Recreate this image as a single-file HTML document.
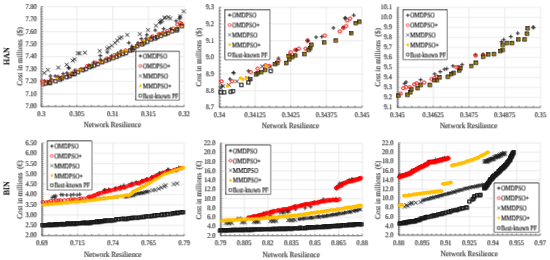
<!DOCTYPE html>
<html><head><meta charset="utf-8"><title>Pareto fronts</title>
<style>
html,body{margin:0;padding:0;background:#fff;}
body{width:550px;height:260px;overflow:hidden;font-family:"Liberation Serif",serif;}
svg{display:block;}
svg text{text-rendering:geometricPrecision;}
svg text.ti{white-space:pre;}
svg text.lg{stroke:#151515;stroke-width:0.18px;}
</style></head><body>
<svg width="550" height="260" viewBox="0 0 550 260" font-family='"Liberation Serif", serif'>
<g id="fig" transform="translate(-0.42 -0.42)">
<g><path d="M41.4 6.9H184.3" stroke="#e8e8e8" stroke-width="0.5"/>
<path d="M41.4 19.38H184.3" stroke="#e8e8e8" stroke-width="0.5"/>
<path d="M41.4 31.85H184.3" stroke="#e8e8e8" stroke-width="0.5"/>
<path d="M41.4 44.32H184.3" stroke="#e8e8e8" stroke-width="0.5"/>
<path d="M41.4 56.8H184.3" stroke="#e8e8e8" stroke-width="0.5"/>
<path d="M41.4 69.28H184.3" stroke="#e8e8e8" stroke-width="0.5"/>
<path d="M41.4 81.75H184.3" stroke="#e8e8e8" stroke-width="0.5"/>
<path d="M41.4 94.23H184.3" stroke="#e8e8e8" stroke-width="0.5"/>
<path d="M41.4 106.7H184.3" stroke="#e8e8e8" stroke-width="0.5"/>
<path d="M77.12 6.9V106.7" stroke="#e8e8e8" stroke-width="0.5"/>
<path d="M112.85 6.9V106.7" stroke="#e8e8e8" stroke-width="0.5"/>
<path d="M148.58 6.9V106.7" stroke="#e8e8e8" stroke-width="0.5"/>
<path d="M184.3 6.9V106.7" stroke="#e8e8e8" stroke-width="0.5"/>
<path d="M41.4 6.9V106.7H184.3" stroke="#505050" stroke-width="0.5" fill="none"/>
<path d="M41.4 6.9h1.7M41.4 9.39h1.5M41.4 11.89h1.5M41.4 14.38h1.5M41.4 16.88h1.5M41.4 19.38h1.7M41.4 21.87h1.5M41.4 24.37h1.5M41.4 26.86h1.5M41.4 29.35h1.5M41.4 31.85h1.7M41.4 34.34h1.5M41.4 36.84h1.5M41.4 39.33h1.5M41.4 41.83h1.5M41.4 44.32h1.7M41.4 46.82h1.5M41.4 49.31h1.5M41.4 51.81h1.5M41.4 54.3h1.5M41.4 56.8h1.7M41.4 59.29h1.5M41.4 61.79h1.5M41.4 64.29h1.5M41.4 66.78h1.5M41.4 69.28h1.7M41.4 71.77h1.5M41.4 74.27h1.5M41.4 76.76h1.5M41.4 79.25h1.5M41.4 81.75h1.7M41.4 84.25h1.5M41.4 86.74h1.5M41.4 89.24h1.5M41.4 91.73h1.5M41.4 94.23h1.7M41.4 96.72h1.5M41.4 99.22h1.5M41.4 101.71h1.5M41.4 104.2h1.5M41.4 106.7h1.7M41.4 106.7v-1.7M48.55 106.7v-1.5M55.69 106.7v-1.5M62.84 106.7v-1.5M69.98 106.7v-1.5M77.12 106.7v-1.7M84.27 106.7v-1.5M91.41 106.7v-1.5M98.56 106.7v-1.5M105.71 106.7v-1.5M112.85 106.7v-1.7M120 106.7v-1.5M127.14 106.7v-1.5M134.28 106.7v-1.5M141.43 106.7v-1.5M148.57 106.7v-1.7M155.72 106.7v-1.5M162.87 106.7v-1.5M170.01 106.7v-1.5M177.16 106.7v-1.5M184.3 106.7v-1.7" stroke="#505050" stroke-width="0.4" fill="none"/>
<text class="tk" transform="translate(37 9) scale(0.885 1)" font-size="7.4" text-anchor="end" fill="#595959">7.80</text>
<text class="tk" transform="translate(37 21.48) scale(0.885 1)" font-size="7.4" text-anchor="end" fill="#595959">7.70</text>
<text class="tk" transform="translate(37 33.95) scale(0.885 1)" font-size="7.4" text-anchor="end" fill="#595959">7.60</text>
<text class="tk" transform="translate(37 46.42) scale(0.885 1)" font-size="7.4" text-anchor="end" fill="#595959">7.50</text>
<text class="tk" transform="translate(37 58.9) scale(0.885 1)" font-size="7.4" text-anchor="end" fill="#595959">7.40</text>
<text class="tk" transform="translate(37 71.38) scale(0.885 1)" font-size="7.4" text-anchor="end" fill="#595959">7.30</text>
<text class="tk" transform="translate(37 83.85) scale(0.885 1)" font-size="7.4" text-anchor="end" fill="#595959">7.20</text>
<text class="tk" transform="translate(37 96.33) scale(0.885 1)" font-size="7.4" text-anchor="end" fill="#595959">7.10</text>
<text class="tk" transform="translate(37 108.8) scale(0.885 1)" font-size="7.4" text-anchor="end" fill="#595959">7.00</text>
<text class="tk" transform="translate(41.4 116.4) scale(0.885 1)" font-size="7.4" text-anchor="middle" fill="#595959">0.3</text>
<text class="tk" transform="translate(77.12 116.4) scale(0.885 1)" font-size="7.4" text-anchor="middle" fill="#595959">0.305</text>
<text class="tk" transform="translate(112.85 116.4) scale(0.885 1)" font-size="7.4" text-anchor="middle" fill="#595959">0.31</text>
<text class="tk" transform="translate(148.58 116.4) scale(0.885 1)" font-size="7.4" text-anchor="middle" fill="#595959">0.315</text>
<text class="tk" transform="translate(184.3 116.4) scale(0.885 1)" font-size="7.4" text-anchor="middle" fill="#595959">0.32</text>
<text class="ti" transform="translate(112.55 127.9) scale(0.92 1)" font-size="7.9" text-anchor="middle" fill="#5e5e5e">Network Resilience</text>
<text class="ti" transform="translate(22.2 56.8) rotate(-90) scale(0.92 1)" font-size="7.9" text-anchor="middle" fill="#5e5e5e">Cost in millions  ($)</text>
<path d="M42.92 81.32H46.62M44.77 79.47V83.17" stroke="#262626" stroke-width="0.6" fill="none"/>
<path d="M49.23 79.42H52.93M51.08 77.57V81.27" stroke="#262626" stroke-width="0.6" fill="none"/>
<path d="M56.43 76.71H60.13M58.28 74.86V78.56" stroke="#262626" stroke-width="0.6" fill="none"/>
<path d="M65.22 73.23H68.92M67.07 71.38V75.08" stroke="#262626" stroke-width="0.6" fill="none"/>
<path d="M73.02 70.54H76.72M74.87 68.69V72.39" stroke="#262626" stroke-width="0.6" fill="none"/>
<path d="M78.68 69.47H82.38M80.53 67.62V71.32" stroke="#262626" stroke-width="0.6" fill="none"/>
<path d="M87.35 65.47H91.05M89.2 63.62V67.32" stroke="#262626" stroke-width="0.6" fill="none"/>
<path d="M91.89 62.63H95.59M93.74 60.78V64.48" stroke="#262626" stroke-width="0.6" fill="none"/>
<path d="M98.82 59.74H102.52M100.67 57.89V61.59" stroke="#262626" stroke-width="0.6" fill="none"/>
<path d="M109.83 56.05H113.53M111.68 54.2V57.9" stroke="#262626" stroke-width="0.6" fill="none"/>
<path d="M116.03 53.41H119.73M117.88 51.56V55.26" stroke="#262626" stroke-width="0.6" fill="none"/>
<path d="M119.48 51.16H123.18M121.33 49.31V53.01" stroke="#262626" stroke-width="0.6" fill="none"/>
<path d="M130.18 46.59H133.88M132.03 44.74V48.44" stroke="#262626" stroke-width="0.6" fill="none"/>
<path d="M136.36 43.13H140.06M138.21 41.28V44.98" stroke="#262626" stroke-width="0.6" fill="none"/>
<path d="M144.36 38.69H148.06M146.21 36.84V40.54" stroke="#262626" stroke-width="0.6" fill="none"/>
<path d="M149.89 37.25H153.59M151.74 35.4V39.1" stroke="#262626" stroke-width="0.6" fill="none"/>
<path d="M157.72 34.58H161.42M159.57 32.73V36.43" stroke="#262626" stroke-width="0.6" fill="none"/>
<path d="M161.52 32.88H165.22M163.37 31.03V34.73" stroke="#262626" stroke-width="0.6" fill="none"/>
<path d="M168.95 28.92H172.65M170.8 27.07V30.77" stroke="#262626" stroke-width="0.6" fill="none"/>
<path d="M178.81 25.06H182.51M180.66 23.21V26.91" stroke="#262626" stroke-width="0.6" fill="none"/>
<path d="M48.75 76.3H52.45M50.6 74.45V78.15" stroke="#262626" stroke-width="0.6" fill="none"/>
<path d="M53.55 76.3H57.25M55.4 74.45V78.15" stroke="#262626" stroke-width="0.6" fill="none"/>
<path d="M61.55 74H65.25M63.4 72.15V75.85" stroke="#262626" stroke-width="0.6" fill="none"/>
<path d="M66.95 68.1H70.65M68.8 66.25V69.95" stroke="#262626" stroke-width="0.6" fill="none"/>
<path d="M67.25 68.4H70.95M69.1 66.55V70.25" stroke="#262626" stroke-width="0.6" fill="none"/>
<path d="M98.65 55.9H102.35M100.5 54.05V57.75" stroke="#262626" stroke-width="0.6" fill="none"/>
<path d="M105.65 52.4H109.35M107.5 50.55V54.25" stroke="#262626" stroke-width="0.6" fill="none"/>
<path d="M127.15 43.1H130.85M129 41.25V44.95" stroke="#262626" stroke-width="0.6" fill="none"/>
<path d="M139.65 39H143.35M141.5 37.15V40.85" stroke="#262626" stroke-width="0.6" fill="none"/>
<path d="M145.15 35.1H148.85M147 33.25V36.95" stroke="#262626" stroke-width="0.6" fill="none"/>
<path d="M153.55 30.5H157.25M155.4 28.65V32.35" stroke="#262626" stroke-width="0.6" fill="none"/>
<path d="M161.95 29H165.65M163.8 27.15V30.85" stroke="#262626" stroke-width="0.6" fill="none"/>
<path d="M158.65 23H162.35M160.5 21.15V24.85" stroke="#262626" stroke-width="0.6" fill="none"/>
<path d="M174.45 21.2H178.15M176.3 19.35V23.05" stroke="#262626" stroke-width="0.6" fill="none"/>
<path d="M177.75 19H181.45M179.6 17.15V20.85" stroke="#262626" stroke-width="0.6" fill="none"/>
<path d="M178.35 17.1H182.05M180.2 15.25V18.95" stroke="#262626" stroke-width="0.6" fill="none"/>
<ellipse cx="47.01" cy="81.98" rx="1.79" ry="1.52" stroke="#FF0000" stroke-width="0.55" fill="none"/>
<ellipse cx="51.7" cy="80.56" rx="1.79" ry="1.52" stroke="#FF0000" stroke-width="0.55" fill="none"/>
<ellipse cx="58.78" cy="78.58" rx="1.79" ry="1.52" stroke="#FF0000" stroke-width="0.55" fill="none"/>
<ellipse cx="62.63" cy="77.25" rx="1.79" ry="1.52" stroke="#FF0000" stroke-width="0.55" fill="none"/>
<ellipse cx="68.9" cy="75.21" rx="1.79" ry="1.52" stroke="#FF0000" stroke-width="0.55" fill="none"/>
<ellipse cx="72.15" cy="73.41" rx="1.79" ry="1.52" stroke="#FF0000" stroke-width="0.55" fill="none"/>
<ellipse cx="76.55" cy="70.96" rx="1.79" ry="1.52" stroke="#FF0000" stroke-width="0.55" fill="none"/>
<ellipse cx="81.89" cy="69.32" rx="1.79" ry="1.52" stroke="#FF0000" stroke-width="0.55" fill="none"/>
<ellipse cx="87.47" cy="66.26" rx="1.79" ry="1.52" stroke="#FF0000" stroke-width="0.55" fill="none"/>
<ellipse cx="95.97" cy="62.88" rx="1.79" ry="1.52" stroke="#FF0000" stroke-width="0.55" fill="none"/>
<ellipse cx="100.83" cy="61.92" rx="1.79" ry="1.52" stroke="#FF0000" stroke-width="0.55" fill="none"/>
<ellipse cx="107.08" cy="58.66" rx="1.79" ry="1.52" stroke="#FF0000" stroke-width="0.55" fill="none"/>
<ellipse cx="110.95" cy="58.28" rx="1.79" ry="1.52" stroke="#FF0000" stroke-width="0.55" fill="none"/>
<ellipse cx="114.76" cy="55.27" rx="1.79" ry="1.52" stroke="#FF0000" stroke-width="0.55" fill="none"/>
<ellipse cx="120.8" cy="53.35" rx="1.79" ry="1.52" stroke="#FF0000" stroke-width="0.55" fill="none"/>
<ellipse cx="125.82" cy="50.68" rx="1.79" ry="1.52" stroke="#FF0000" stroke-width="0.55" fill="none"/>
<ellipse cx="132.11" cy="48.78" rx="1.79" ry="1.52" stroke="#FF0000" stroke-width="0.55" fill="none"/>
<ellipse cx="138.49" cy="44.66" rx="1.79" ry="1.52" stroke="#FF0000" stroke-width="0.55" fill="none"/>
<ellipse cx="143.09" cy="42.28" rx="1.79" ry="1.52" stroke="#FF0000" stroke-width="0.55" fill="none"/>
<ellipse cx="149.47" cy="39.07" rx="1.79" ry="1.52" stroke="#FF0000" stroke-width="0.55" fill="none"/>
<ellipse cx="152.81" cy="36.61" rx="1.79" ry="1.52" stroke="#FF0000" stroke-width="0.55" fill="none"/>
<ellipse cx="159.07" cy="34.22" rx="1.79" ry="1.52" stroke="#FF0000" stroke-width="0.55" fill="none"/>
<ellipse cx="162.81" cy="33.37" rx="1.79" ry="1.52" stroke="#FF0000" stroke-width="0.55" fill="none"/>
<ellipse cx="167.48" cy="31.36" rx="1.79" ry="1.52" stroke="#FF0000" stroke-width="0.55" fill="none"/>
<ellipse cx="173.48" cy="28.86" rx="1.79" ry="1.52" stroke="#FF0000" stroke-width="0.55" fill="none"/>
<ellipse cx="181.97" cy="24.45" rx="1.79" ry="1.52" stroke="#FF0000" stroke-width="0.55" fill="none"/>
<ellipse cx="42.6" cy="81.7" rx="1.79" ry="1.52" stroke="#FF0000" stroke-width="0.55" fill="none"/>
<ellipse cx="43.4" cy="84.7" rx="1.79" ry="1.52" stroke="#FF0000" stroke-width="0.55" fill="none"/>
<ellipse cx="177.7" cy="24.8" rx="1.79" ry="1.52" stroke="#FF0000" stroke-width="0.55" fill="none"/>
<ellipse cx="180.6" cy="23.1" rx="1.79" ry="1.52" stroke="#FF0000" stroke-width="0.55" fill="none"/>
<path d="M42.6 71.3L46.4 75.1M42.6 75.1L46.4 71.3" stroke="#222" stroke-width="0.5" fill="none"/>
<path d="M46.1 68.2L49.9 72M46.1 72L49.9 68.2" stroke="#222" stroke-width="0.5" fill="none"/>
<path d="M56.6 65.9L60.4 69.7M56.6 69.7L60.4 65.9" stroke="#222" stroke-width="0.5" fill="none"/>
<path d="M65 63.1L68.8 66.9M65 66.9L68.8 63.1" stroke="#222" stroke-width="0.5" fill="none"/>
<path d="M71 59L74.8 62.8M71 62.8L74.8 59" stroke="#222" stroke-width="0.5" fill="none"/>
<path d="M72.8 57.6L76.6 61.4M72.8 61.4L76.6 57.6" stroke="#222" stroke-width="0.5" fill="none"/>
<path d="M76.1 51.6L79.9 55.4M76.1 55.4L79.9 51.6" stroke="#222" stroke-width="0.5" fill="none"/>
<path d="M77.9 51.6L81.7 55.4M77.9 55.4L81.7 51.6" stroke="#222" stroke-width="0.5" fill="none"/>
<path d="M83.2 51L87 54.8M83.2 54.8L87 51" stroke="#222" stroke-width="0.5" fill="none"/>
<path d="M98 49.3L101.8 53.1M98 53.1L101.8 49.3" stroke="#222" stroke-width="0.5" fill="none"/>
<path d="M105.6 47L109.4 50.8M105.6 50.8L109.4 47" stroke="#222" stroke-width="0.5" fill="none"/>
<path d="M107.4 45.9L111.2 49.7M107.4 49.7L111.2 45.9" stroke="#222" stroke-width="0.5" fill="none"/>
<path d="M110.1 43.9L113.9 47.7M110.1 47.7L113.9 43.9" stroke="#222" stroke-width="0.5" fill="none"/>
<path d="M113.3 41.3L117.1 45.1M113.3 45.1L117.1 41.3" stroke="#222" stroke-width="0.5" fill="none"/>
<path d="M115.6 38.9L119.4 42.7M115.6 42.7L119.4 38.9" stroke="#222" stroke-width="0.5" fill="none"/>
<path d="M117.9 36.6L121.7 40.4M117.9 40.4L121.7 36.6" stroke="#222" stroke-width="0.5" fill="none"/>
<path d="M119.8 35.5L123.6 39.3M119.8 39.3L123.6 35.5" stroke="#222" stroke-width="0.5" fill="none"/>
<path d="M125.5 33.2L129.3 37M125.5 37L129.3 33.2" stroke="#222" stroke-width="0.5" fill="none"/>
<path d="M138.1 32.4L141.9 36.2M138.1 36.2L141.9 32.4" stroke="#222" stroke-width="0.5" fill="none"/>
<path d="M146.3 28.3L150.1 32.1M146.3 32.1L150.1 28.3" stroke="#222" stroke-width="0.5" fill="none"/>
<path d="M154.3 24L158.1 27.8M154.3 27.8L158.1 24" stroke="#222" stroke-width="0.5" fill="none"/>
<path d="M158.1 20.1L161.9 23.9M158.1 23.9L161.9 20.1" stroke="#222" stroke-width="0.5" fill="none"/>
<path d="M159.4 19.3L163.2 23.1M159.4 23.1L163.2 19.3" stroke="#222" stroke-width="0.5" fill="none"/>
<path d="M160.4 18.6L164.2 22.4M160.4 22.4L164.2 18.6" stroke="#222" stroke-width="0.5" fill="none"/>
<path d="M162.7 16.3L166.5 20.1M162.7 20.1L166.5 16.3" stroke="#222" stroke-width="0.5" fill="none"/>
<path d="M163.6 15.9L167.4 19.7M163.6 19.7L167.4 15.9" stroke="#222" stroke-width="0.5" fill="none"/>
<path d="M166.6 15.5L170.4 19.3M166.6 19.3L170.4 15.5" stroke="#222" stroke-width="0.5" fill="none"/>
<path d="M168.5 16.8L172.3 20.6M168.5 20.6L172.3 16.8" stroke="#222" stroke-width="0.5" fill="none"/>
<path d="M178.5 14.8L182.3 18.6M178.5 18.6L182.3 14.8" stroke="#222" stroke-width="0.5" fill="none"/>
<path d="M182 9.7L185.8 13.5M182 13.5L185.8 9.7" stroke="#222" stroke-width="0.5" fill="none"/>
<path d="M44.3 80.92L46.1 82.72L44.3 84.52L42.5 82.72Z" fill="#FFC000"/>
<path d="M50.34 80.5L52.14 82.3L50.34 84.1L48.54 82.3Z" fill="#FFC000"/>
<path d="M57.75 77.02L59.55 78.82L57.75 80.62L55.95 78.82Z" fill="#FFC000"/>
<path d="M61.88 75.84L63.68 77.64L61.88 79.44L60.08 77.64Z" fill="#FFC000"/>
<path d="M70.96 71.63L72.76 73.43L70.96 75.23L69.16 73.43Z" fill="#FFC000"/>
<path d="M77.81 69.26L79.61 71.06L77.81 72.86L76.01 71.06Z" fill="#FFC000"/>
<path d="M81.2 68.02L83 69.82L81.2 71.62L79.4 69.82Z" fill="#FFC000"/>
<path d="M89.83 64.72L91.63 66.52L89.83 68.32L88.03 66.52Z" fill="#FFC000"/>
<path d="M91.85 62.98L93.65 64.78L91.85 66.58L90.05 64.78Z" fill="#FFC000"/>
<path d="M100.37 60.65L102.17 62.45L100.37 64.25L98.57 62.45Z" fill="#FFC000"/>
<path d="M103.89 59.23L105.69 61.03L103.89 62.83L102.09 61.03Z" fill="#FFC000"/>
<path d="M113.56 55.75L115.36 57.55L113.56 59.35L111.76 57.55Z" fill="#FFC000"/>
<path d="M118.49 52.74L120.29 54.54L118.49 56.34L116.69 54.54Z" fill="#FFC000"/>
<path d="M122.53 50.54L124.33 52.34L122.53 54.14L120.73 52.34Z" fill="#FFC000"/>
<path d="M125.99 49.32L127.79 51.12L125.99 52.92L124.19 51.12Z" fill="#FFC000"/>
<path d="M135.34 45.2L137.14 47L135.34 48.8L133.54 47Z" fill="#FFC000"/>
<path d="M142 42.21L143.8 44.01L142 45.81L140.2 44.01Z" fill="#FFC000"/>
<path d="M144.23 39.51L146.03 41.31L144.23 43.11L142.43 41.31Z" fill="#FFC000"/>
<path d="M149.06 37.48L150.86 39.28L149.06 41.08L147.26 39.28Z" fill="#FFC000"/>
<path d="M159.05 33.97L160.85 35.77L159.05 37.57L157.25 35.77Z" fill="#FFC000"/>
<path d="M163.81 31.71L165.61 33.51L163.81 35.31L162.01 33.51Z" fill="#FFC000"/>
<path d="M169.94 30.56L171.74 32.36L169.94 34.16L168.14 32.36Z" fill="#FFC000"/>
<path d="M175.76 27.02L177.56 28.82L175.76 30.62L173.96 28.82Z" fill="#FFC000"/>
<path d="M181.21 24.56L183.01 26.36L181.21 28.16L179.41 26.36Z" fill="#FFC000"/>
<rect x="44.26" y="82.16" width="3.2" height="3.2" stroke="#1a1a1a" stroke-width="0.6" fill="none"/>
<rect x="47.99" y="81.12" width="3.2" height="3.2" stroke="#1a1a1a" stroke-width="0.6" fill="none"/>
<rect x="48.75" y="81.57" width="3.2" height="3.2" stroke="#1a1a1a" stroke-width="0.6" fill="none"/>
<rect x="54.13" y="79.97" width="3.2" height="3.2" stroke="#1a1a1a" stroke-width="0.6" fill="none"/>
<rect x="58.49" y="78.27" width="3.2" height="3.2" stroke="#1a1a1a" stroke-width="0.6" fill="none"/>
<rect x="60.29" y="77.12" width="3.2" height="3.2" stroke="#1a1a1a" stroke-width="0.6" fill="none"/>
<rect x="65.18" y="75.75" width="3.2" height="3.2" stroke="#1a1a1a" stroke-width="0.6" fill="none"/>
<rect x="68.25" y="74.73" width="3.2" height="3.2" stroke="#1a1a1a" stroke-width="0.6" fill="none"/>
<rect x="71.17" y="72.93" width="3.2" height="3.2" stroke="#1a1a1a" stroke-width="0.6" fill="none"/>
<rect x="73.15" y="72.55" width="3.2" height="3.2" stroke="#1a1a1a" stroke-width="0.6" fill="none"/>
<rect x="76.53" y="70.7" width="3.2" height="3.2" stroke="#1a1a1a" stroke-width="0.6" fill="none"/>
<rect x="81.5" y="68.74" width="3.2" height="3.2" stroke="#1a1a1a" stroke-width="0.6" fill="none"/>
<rect x="84.38" y="67.59" width="3.2" height="3.2" stroke="#1a1a1a" stroke-width="0.6" fill="none"/>
<rect x="88.25" y="65.8" width="3.2" height="3.2" stroke="#1a1a1a" stroke-width="0.6" fill="none"/>
<rect x="90.18" y="64.81" width="3.2" height="3.2" stroke="#1a1a1a" stroke-width="0.6" fill="none"/>
<rect x="92.63" y="64.23" width="3.2" height="3.2" stroke="#1a1a1a" stroke-width="0.6" fill="none"/>
<rect x="96.37" y="62.88" width="3.2" height="3.2" stroke="#1a1a1a" stroke-width="0.6" fill="none"/>
<rect x="100.68" y="60.98" width="3.2" height="3.2" stroke="#1a1a1a" stroke-width="0.6" fill="none"/>
<rect x="104.44" y="59.27" width="3.2" height="3.2" stroke="#1a1a1a" stroke-width="0.6" fill="none"/>
<rect x="107.41" y="58.15" width="3.2" height="3.2" stroke="#1a1a1a" stroke-width="0.6" fill="none"/>
<rect x="111.58" y="56.9" width="3.2" height="3.2" stroke="#1a1a1a" stroke-width="0.6" fill="none"/>
<rect x="115.19" y="55.35" width="3.2" height="3.2" stroke="#1a1a1a" stroke-width="0.6" fill="none"/>
<rect x="117.8" y="54.14" width="3.2" height="3.2" stroke="#1a1a1a" stroke-width="0.6" fill="none"/>
<rect x="121.3" y="52.61" width="3.2" height="3.2" stroke="#1a1a1a" stroke-width="0.6" fill="none"/>
<rect x="124.44" y="51.58" width="3.2" height="3.2" stroke="#1a1a1a" stroke-width="0.6" fill="none"/>
<rect x="128.83" y="49.22" width="3.2" height="3.2" stroke="#1a1a1a" stroke-width="0.6" fill="none"/>
<rect x="131.19" y="48.48" width="3.2" height="3.2" stroke="#1a1a1a" stroke-width="0.6" fill="none"/>
<rect x="132.63" y="46.91" width="3.2" height="3.2" stroke="#1a1a1a" stroke-width="0.6" fill="none"/>
<rect x="135.73" y="44.86" width="3.2" height="3.2" stroke="#1a1a1a" stroke-width="0.6" fill="none"/>
<rect x="140.84" y="43.07" width="3.2" height="3.2" stroke="#1a1a1a" stroke-width="0.6" fill="none"/>
<rect x="142.65" y="41.8" width="3.2" height="3.2" stroke="#1a1a1a" stroke-width="0.6" fill="none"/>
<rect x="145.92" y="40.35" width="3.2" height="3.2" stroke="#1a1a1a" stroke-width="0.6" fill="none"/>
<rect x="149.48" y="38.22" width="3.2" height="3.2" stroke="#1a1a1a" stroke-width="0.6" fill="none"/>
<rect x="153.67" y="37.18" width="3.2" height="3.2" stroke="#1a1a1a" stroke-width="0.6" fill="none"/>
<rect x="155.75" y="35.97" width="3.2" height="3.2" stroke="#1a1a1a" stroke-width="0.6" fill="none"/>
<rect x="159.47" y="34.39" width="3.2" height="3.2" stroke="#1a1a1a" stroke-width="0.6" fill="none"/>
<rect x="163.79" y="33.05" width="3.2" height="3.2" stroke="#1a1a1a" stroke-width="0.6" fill="none"/>
<rect x="166.44" y="31.89" width="3.2" height="3.2" stroke="#1a1a1a" stroke-width="0.6" fill="none"/>
<rect x="170.69" y="30.06" width="3.2" height="3.2" stroke="#1a1a1a" stroke-width="0.6" fill="none"/>
<rect x="175.2" y="29.1" width="3.2" height="3.2" stroke="#1a1a1a" stroke-width="0.6" fill="none"/>
<rect x="175.76" y="27.74" width="3.2" height="3.2" stroke="#1a1a1a" stroke-width="0.6" fill="none"/>
<rect x="180.4" y="24.71" width="3.2" height="3.2" stroke="#1a1a1a" stroke-width="0.6" fill="none"/>
<rect x="136" y="51.5" width="43.4" height="48.8" fill="#fff" stroke="#222" stroke-width="0.5"/>
<path d="M138.65 56H142.15M140.4 54.25V57.75" stroke="#111" stroke-width="0.8" fill="none"/>
<text class="lg" transform="translate(142.8 58.6) scale(0.78 1)" font-size="7.5" fill="#151515">OMDPSO</text>
<ellipse cx="140.4" cy="66" rx="1.57" ry="1.33" stroke="#FF0000" stroke-width="0.7" fill="none"/>
<text class="lg" transform="translate(142.8 68.6) scale(0.78 1)" font-size="7.5" fill="#151515">OMDPSO+</text>
<path d="M138.8 74.3L142 77.5M138.8 77.5L142 74.3" stroke="#222" stroke-width="0.6" fill="none"/>
<text class="lg" transform="translate(142.8 78.5) scale(0.78 1)" font-size="7.5" fill="#151515">MMDPSO</text>
<path d="M140.4 84.1L142.1 85.8L140.4 87.5L138.7 85.8Z" fill="#FFC000"/>
<text class="lg" transform="translate(142.8 88.4) scale(0.78 1)" font-size="7.5" fill="#151515">MMDPSO+</text>
<rect x="139.05" y="94.35" width="2.7" height="2.7" stroke="#1a1a1a" stroke-width="0.65" fill="none"/>
<text class="lg" transform="translate(142.8 98.3) scale(0.765 1)" font-size="7.5" fill="#151515">Best-known PF</text></g>
<g><path d="M219.6 7.5H362.3" stroke="#e8e8e8" stroke-width="0.5"/>
<path d="M219.6 24.17H362.3" stroke="#e8e8e8" stroke-width="0.5"/>
<path d="M219.6 40.83H362.3" stroke="#e8e8e8" stroke-width="0.5"/>
<path d="M219.6 57.5H362.3" stroke="#e8e8e8" stroke-width="0.5"/>
<path d="M219.6 74.17H362.3" stroke="#e8e8e8" stroke-width="0.5"/>
<path d="M219.6 90.83H362.3" stroke="#e8e8e8" stroke-width="0.5"/>
<path d="M219.6 107.5H362.3" stroke="#e8e8e8" stroke-width="0.5"/>
<path d="M255.28 7.5V107.5" stroke="#e8e8e8" stroke-width="0.5"/>
<path d="M290.95 7.5V107.5" stroke="#e8e8e8" stroke-width="0.5"/>
<path d="M326.62 7.5V107.5" stroke="#e8e8e8" stroke-width="0.5"/>
<path d="M362.3 7.5V107.5" stroke="#e8e8e8" stroke-width="0.5"/>
<path d="M219.6 7.5V107.5H362.3" stroke="#505050" stroke-width="0.5" fill="none"/>
<path d="M219.6 7.5h1.7M219.6 10.83h1.5M219.6 14.17h1.5M219.6 17.5h1.5M219.6 20.83h1.5M219.6 24.17h1.7M219.6 27.5h1.5M219.6 30.83h1.5M219.6 34.17h1.5M219.6 37.5h1.5M219.6 40.83h1.7M219.6 44.17h1.5M219.6 47.5h1.5M219.6 50.83h1.5M219.6 54.17h1.5M219.6 57.5h1.7M219.6 60.83h1.5M219.6 64.17h1.5M219.6 67.5h1.5M219.6 70.83h1.5M219.6 74.17h1.7M219.6 77.5h1.5M219.6 80.83h1.5M219.6 84.17h1.5M219.6 87.5h1.5M219.6 90.83h1.7M219.6 94.17h1.5M219.6 97.5h1.5M219.6 100.83h1.5M219.6 104.17h1.5M219.6 107.5h1.7M219.6 107.5v-1.7M226.73 107.5v-1.5M233.87 107.5v-1.5M241 107.5v-1.5M248.14 107.5v-1.5M255.28 107.5v-1.7M262.41 107.5v-1.5M269.55 107.5v-1.5M276.68 107.5v-1.5M283.81 107.5v-1.5M290.95 107.5v-1.7M298.09 107.5v-1.5M305.22 107.5v-1.5M312.36 107.5v-1.5M319.49 107.5v-1.5M326.62 107.5v-1.7M333.76 107.5v-1.5M340.89 107.5v-1.5M348.03 107.5v-1.5M355.16 107.5v-1.5M362.3 107.5v-1.7" stroke="#505050" stroke-width="0.4" fill="none"/>
<text class="tk" transform="translate(214.2 9.6) scale(0.885 1)" font-size="7.4" text-anchor="end" fill="#595959">9.3</text>
<text class="tk" transform="translate(214.2 26.27) scale(0.885 1)" font-size="7.4" text-anchor="end" fill="#595959">9.2</text>
<text class="tk" transform="translate(214.2 42.93) scale(0.885 1)" font-size="7.4" text-anchor="end" fill="#595959">9.1</text>
<text class="tk" transform="translate(214.2 59.6) scale(0.885 1)" font-size="7.4" text-anchor="end" fill="#595959">9.0</text>
<text class="tk" transform="translate(214.2 76.27) scale(0.885 1)" font-size="7.4" text-anchor="end" fill="#595959">8.9</text>
<text class="tk" transform="translate(214.2 92.93) scale(0.885 1)" font-size="7.4" text-anchor="end" fill="#595959">8.8</text>
<text class="tk" transform="translate(214.2 109.6) scale(0.885 1)" font-size="7.4" text-anchor="end" fill="#595959">8.7</text>
<text class="tk" transform="translate(219.6 117.2) scale(0.885 1)" font-size="7.4" text-anchor="middle" fill="#595959">0.34</text>
<text class="tk" transform="translate(255.28 117.2) scale(0.885 1)" font-size="7.4" text-anchor="middle" fill="#595959">0.34125</text>
<text class="tk" transform="translate(290.95 117.2) scale(0.885 1)" font-size="7.4" text-anchor="middle" fill="#595959">0.3425</text>
<text class="tk" transform="translate(326.62 117.2) scale(0.885 1)" font-size="7.4" text-anchor="middle" fill="#595959">0.34375</text>
<text class="tk" transform="translate(362.3 117.2) scale(0.885 1)" font-size="7.4" text-anchor="middle" fill="#595959">0.345</text>
<text class="ti" transform="translate(290.65 128.7) scale(0.92 1)" font-size="7.9" text-anchor="middle" fill="#5e5e5e">Network Resilience</text>
<text class="ti" transform="translate(201.8 57.5) rotate(-90) scale(0.92 1)" font-size="7.9" text-anchor="middle" fill="#5e5e5e">Cost in millions  ($)</text>
<path d="M228.25 79.3H231.95M230.1 77.45V81.15" stroke="#262626" stroke-width="0.6" fill="none"/>
<path d="M231.75 72.9H235.45M233.6 71.05V74.75" stroke="#262626" stroke-width="0.6" fill="none"/>
<path d="M232.05 73.2H235.75M233.9 71.35V75.05" stroke="#262626" stroke-width="0.6" fill="none"/>
<path d="M246.75 71.2H250.45M248.6 69.35V73.05" stroke="#262626" stroke-width="0.6" fill="none"/>
<path d="M276.75 58.5H280.45M278.6 56.65V60.35" stroke="#262626" stroke-width="0.6" fill="none"/>
<path d="M294.65 50.1H298.35M296.5 48.25V51.95" stroke="#262626" stroke-width="0.6" fill="none"/>
<path d="M294.95 50.4H298.65M296.8 48.55V52.25" stroke="#262626" stroke-width="0.6" fill="none"/>
<path d="M305.85 40.8H309.55M307.7 38.95V42.65" stroke="#262626" stroke-width="0.6" fill="none"/>
<path d="M306.15 41.1H309.85M308 39.25V42.95" stroke="#262626" stroke-width="0.6" fill="none"/>
<path d="M314.45 37.4H318.15M316.3 35.55V39.25" stroke="#262626" stroke-width="0.6" fill="none"/>
<path d="M320.15 36.9H323.85M322 35.05V38.75" stroke="#262626" stroke-width="0.6" fill="none"/>
<path d="M331.75 28.2H335.45M333.6 26.35V30.05" stroke="#262626" stroke-width="0.6" fill="none"/>
<path d="M341.65 27.7H345.35M343.5 25.85V29.55" stroke="#262626" stroke-width="0.6" fill="none"/>
<path d="M343.25 18.5H346.95M345.1 16.65V20.35" stroke="#262626" stroke-width="0.6" fill="none"/>
<path d="M343.75 18.1H347.45M345.6 16.25V19.95" stroke="#262626" stroke-width="0.6" fill="none"/>
<path d="M352.05 15.5H355.75M353.9 13.65V17.35" stroke="#262626" stroke-width="0.6" fill="none"/>
<path d="M220.15 86.5H223.85M222 84.65V88.35" stroke="#262626" stroke-width="0.6" fill="none"/>
<ellipse cx="221.6" cy="81.6" rx="1.79" ry="1.52" stroke="#FF0000" stroke-width="0.55" fill="none"/>
<ellipse cx="232.3" cy="81.5" rx="1.79" ry="1.52" stroke="#FF0000" stroke-width="0.55" fill="none"/>
<ellipse cx="250.9" cy="72.4" rx="1.79" ry="1.52" stroke="#FF0000" stroke-width="0.55" fill="none"/>
<ellipse cx="257.8" cy="68.9" rx="1.79" ry="1.52" stroke="#FF0000" stroke-width="0.55" fill="none"/>
<ellipse cx="265.9" cy="65.5" rx="1.79" ry="1.52" stroke="#FF0000" stroke-width="0.55" fill="none"/>
<ellipse cx="269.3" cy="66.2" rx="1.79" ry="1.52" stroke="#FF0000" stroke-width="0.55" fill="none"/>
<ellipse cx="278.6" cy="60.9" rx="1.79" ry="1.52" stroke="#FF0000" stroke-width="0.55" fill="none"/>
<ellipse cx="290" cy="55.1" rx="1.79" ry="1.52" stroke="#FF0000" stroke-width="0.55" fill="none"/>
<ellipse cx="290.9" cy="52.4" rx="1.79" ry="1.52" stroke="#FF0000" stroke-width="0.55" fill="none"/>
<ellipse cx="295.5" cy="50.1" rx="1.79" ry="1.52" stroke="#FF0000" stroke-width="0.55" fill="none"/>
<ellipse cx="299" cy="48.9" rx="1.79" ry="1.52" stroke="#FF0000" stroke-width="0.55" fill="none"/>
<ellipse cx="305.9" cy="48.9" rx="1.79" ry="1.52" stroke="#FF0000" stroke-width="0.55" fill="none"/>
<ellipse cx="307.7" cy="40.8" rx="1.79" ry="1.52" stroke="#FF0000" stroke-width="0.55" fill="none"/>
<ellipse cx="325" cy="35.8" rx="1.79" ry="1.52" stroke="#FF0000" stroke-width="0.55" fill="none"/>
<ellipse cx="340" cy="31.6" rx="1.79" ry="1.52" stroke="#FF0000" stroke-width="0.55" fill="none"/>
<ellipse cx="343.5" cy="28.2" rx="1.79" ry="1.52" stroke="#FF0000" stroke-width="0.55" fill="none"/>
<ellipse cx="346.2" cy="26.3" rx="1.79" ry="1.52" stroke="#FF0000" stroke-width="0.55" fill="none"/>
<ellipse cx="347.4" cy="20.8" rx="1.79" ry="1.52" stroke="#FF0000" stroke-width="0.55" fill="none"/>
<ellipse cx="350.2" cy="18.9" rx="1.79" ry="1.52" stroke="#FF0000" stroke-width="0.55" fill="none"/>
<path d="M219 86.6L222.8 90.4M219 90.4L222.8 86.6" stroke="#222" stroke-width="0.5" fill="none"/>
<path d="M221.3 84.3L225.1 88.1M221.3 88.1L225.1 84.3" stroke="#222" stroke-width="0.5" fill="none"/>
<path d="M227.1 83.2L230.9 87M227.1 87L230.9 83.2" stroke="#222" stroke-width="0.5" fill="none"/>
<path d="M235.1 79.7L238.9 83.5M235.1 83.5L238.9 79.7" stroke="#222" stroke-width="0.5" fill="none"/>
<path d="M245.5 76.3L249.3 80.1M245.5 80.1L249.3 76.3" stroke="#222" stroke-width="0.5" fill="none"/>
<path d="M248.6 77.6L252.4 81.4M248.6 81.4L252.4 77.6" stroke="#222" stroke-width="0.5" fill="none"/>
<path d="M260.5 64.7L264.3 68.5M260.5 68.5L264.3 64.7" stroke="#222" stroke-width="0.5" fill="none"/>
<path d="M268.6 65.1L272.4 68.9M268.6 68.9L272.4 65.1" stroke="#222" stroke-width="0.5" fill="none"/>
<path d="M286.6 54.1L290.4 57.9M286.6 57.9L290.4 54.1" stroke="#222" stroke-width="0.5" fill="none"/>
<path d="M227.8 84.4L229.6 86.2L227.8 88L226 86.2Z" fill="#FFC000"/>
<path d="M240.5 76.4L242.3 78.2L240.5 80L238.7 78.2Z" fill="#FFC000"/>
<path d="M243 77.7L244.8 79.5L243 81.3L241.2 79.5Z" fill="#FFC000"/>
<path d="M246.5 76.4L248.3 78.2L246.5 80L244.7 78.2Z" fill="#FFC000"/>
<path d="M266.5 64.4L268.3 66.2L266.5 68L264.7 66.2Z" fill="#FFC000"/>
<path d="M288 54.5L289.8 56.3L288 58.1L286.2 56.3Z" fill="#FFC000"/>
<path d="M256.2 72.9L258 74.7L256.2 76.5L254.4 74.7Z" fill="#FFC000"/>
<path d="M257.8 71.7L259.6 73.5L257.8 75.3L256 73.5Z" fill="#FFC000"/>
<path d="M261.3 70.6L263.1 72.4L261.3 74.2L259.5 72.4Z" fill="#FFC000"/>
<path d="M265.2 68.3L267 70.1L265.2 71.9L263.4 70.1Z" fill="#FFC000"/>
<path d="M275.1 62.5L276.9 64.3L275.1 66.1L273.3 64.3Z" fill="#FFC000"/>
<path d="M277.4 61.4L279.2 63.2L277.4 65L275.6 63.2Z" fill="#FFC000"/>
<path d="M286.6 61.4L288.4 63.2L286.6 65L284.8 63.2Z" fill="#FFC000"/>
<path d="M289.6 57.9L291.4 59.7L289.6 61.5L287.8 59.7Z" fill="#FFC000"/>
<path d="M292.4 55.6L294.2 57.4L292.4 59.2L290.6 57.4Z" fill="#FFC000"/>
<path d="M289 54.7L290.8 56.5L289 58.3L287.2 56.5Z" fill="#FFC000"/>
<path d="M295.5 54L297.3 55.8L295.5 57.6L293.7 55.8Z" fill="#FFC000"/>
<path d="M304.7 52.4L306.5 54.2L304.7 56L302.9 54.2Z" fill="#FFC000"/>
<path d="M308.9 48.3L310.7 50.1L308.9 51.9L307.1 50.1Z" fill="#FFC000"/>
<path d="M310.5 46.7L312.3 48.5L310.5 50.3L308.7 48.5Z" fill="#FFC000"/>
<path d="M311.7 43.2L313.5 45L311.7 46.8L309.9 45Z" fill="#FFC000"/>
<path d="M324.3 40.9L326.1 42.7L324.3 44.5L322.5 42.7Z" fill="#FFC000"/>
<path d="M335.9 39L337.7 40.8L335.9 42.6L334.1 40.8Z" fill="#FFC000"/>
<path d="M351.5 31.7L353.3 33.5L351.5 35.3L349.7 33.5Z" fill="#FFC000"/>
<path d="M355.9 21.7L357.7 23.5L355.9 25.3L354.1 23.5Z" fill="#FFC000"/>
<path d="M359.6 20.1L361.4 21.9L359.6 23.7L357.8 21.9Z" fill="#FFC000"/>
<path d="M254.7 73.2L257.7 76.2M254.7 76.2L257.7 73.2" stroke="#3d3208" stroke-width="0.55" fill="none"/>
<path d="M256.3 72L259.3 75M256.3 75L259.3 72" stroke="#3d3208" stroke-width="0.55" fill="none"/>
<path d="M259.8 70.9L262.8 73.9M259.8 73.9L262.8 70.9" stroke="#3d3208" stroke-width="0.55" fill="none"/>
<path d="M263.7 68.6L266.7 71.6M263.7 71.6L266.7 68.6" stroke="#3d3208" stroke-width="0.55" fill="none"/>
<path d="M273.6 62.8L276.6 65.8M273.6 65.8L276.6 62.8" stroke="#3d3208" stroke-width="0.55" fill="none"/>
<path d="M275.9 61.7L278.9 64.7M275.9 64.7L278.9 61.7" stroke="#3d3208" stroke-width="0.55" fill="none"/>
<path d="M285.1 61.7L288.1 64.7M285.1 64.7L288.1 61.7" stroke="#3d3208" stroke-width="0.55" fill="none"/>
<path d="M288.1 58.2L291.1 61.2M288.1 61.2L291.1 58.2" stroke="#3d3208" stroke-width="0.55" fill="none"/>
<path d="M290.9 55.9L293.9 58.9M290.9 58.9L293.9 55.9" stroke="#3d3208" stroke-width="0.55" fill="none"/>
<path d="M287.5 55L290.5 58M287.5 58L290.5 55" stroke="#3d3208" stroke-width="0.55" fill="none"/>
<path d="M294 54.3L297 57.3M294 57.3L297 54.3" stroke="#3d3208" stroke-width="0.55" fill="none"/>
<path d="M303.2 52.7L306.2 55.7M303.2 55.7L306.2 52.7" stroke="#3d3208" stroke-width="0.55" fill="none"/>
<path d="M307.4 48.6L310.4 51.6M307.4 51.6L310.4 48.6" stroke="#3d3208" stroke-width="0.55" fill="none"/>
<path d="M309 47L312 50M309 50L312 47" stroke="#3d3208" stroke-width="0.55" fill="none"/>
<path d="M310.2 43.5L313.2 46.5M310.2 46.5L313.2 43.5" stroke="#3d3208" stroke-width="0.55" fill="none"/>
<path d="M322.8 41.2L325.8 44.2M322.8 44.2L325.8 41.2" stroke="#3d3208" stroke-width="0.55" fill="none"/>
<path d="M334.4 39.3L337.4 42.3M334.4 42.3L337.4 39.3" stroke="#3d3208" stroke-width="0.55" fill="none"/>
<path d="M350 32L353 35M350 35L353 32" stroke="#3d3208" stroke-width="0.55" fill="none"/>
<path d="M354.4 22L357.4 25M354.4 25L357.4 22" stroke="#3d3208" stroke-width="0.55" fill="none"/>
<path d="M358.1 20.4L361.1 23.4M358.1 23.4L361.1 20.4" stroke="#3d3208" stroke-width="0.55" fill="none"/>
<rect x="219.3" y="91.1" width="3.2" height="3.2" stroke="#1a1a1a" stroke-width="0.6" fill="none"/>
<rect x="222.8" y="91.1" width="3.2" height="3.2" stroke="#1a1a1a" stroke-width="0.6" fill="none"/>
<rect x="229.2" y="90.4" width="3.2" height="3.2" stroke="#1a1a1a" stroke-width="0.6" fill="none"/>
<rect x="231.5" y="89.7" width="3.2" height="3.2" stroke="#1a1a1a" stroke-width="0.6" fill="none"/>
<rect x="240.1" y="83.5" width="3.2" height="3.2" stroke="#1a1a1a" stroke-width="0.6" fill="none"/>
<rect x="247" y="81.2" width="3.2" height="3.2" stroke="#1a1a1a" stroke-width="0.6" fill="none"/>
<rect x="248.8" y="77.7" width="3.2" height="3.2" stroke="#1a1a1a" stroke-width="0.6" fill="none"/>
<rect x="254.6" y="73.1" width="3.2" height="3.2" stroke="#1a1a1a" stroke-width="0.6" fill="none"/>
<rect x="256.2" y="71.9" width="3.2" height="3.2" stroke="#1a1a1a" stroke-width="0.6" fill="none"/>
<rect x="259.7" y="70.8" width="3.2" height="3.2" stroke="#1a1a1a" stroke-width="0.6" fill="none"/>
<rect x="263.6" y="68.5" width="3.2" height="3.2" stroke="#1a1a1a" stroke-width="0.6" fill="none"/>
<rect x="269.3" y="69.6" width="3.2" height="3.2" stroke="#1a1a1a" stroke-width="0.6" fill="none"/>
<rect x="273.5" y="62.7" width="3.2" height="3.2" stroke="#1a1a1a" stroke-width="0.6" fill="none"/>
<rect x="275.8" y="61.6" width="3.2" height="3.2" stroke="#1a1a1a" stroke-width="0.6" fill="none"/>
<rect x="285" y="61.6" width="3.2" height="3.2" stroke="#1a1a1a" stroke-width="0.6" fill="none"/>
<rect x="288" y="58.1" width="3.2" height="3.2" stroke="#1a1a1a" stroke-width="0.6" fill="none"/>
<rect x="290.8" y="55.8" width="3.2" height="3.2" stroke="#1a1a1a" stroke-width="0.6" fill="none"/>
<rect x="287.4" y="54.9" width="3.2" height="3.2" stroke="#1a1a1a" stroke-width="0.6" fill="none"/>
<rect x="293.9" y="54.2" width="3.2" height="3.2" stroke="#1a1a1a" stroke-width="0.6" fill="none"/>
<rect x="303.1" y="52.6" width="3.2" height="3.2" stroke="#1a1a1a" stroke-width="0.6" fill="none"/>
<rect x="307.3" y="48.5" width="3.2" height="3.2" stroke="#1a1a1a" stroke-width="0.6" fill="none"/>
<rect x="308.9" y="46.9" width="3.2" height="3.2" stroke="#1a1a1a" stroke-width="0.6" fill="none"/>
<rect x="310.1" y="43.4" width="3.2" height="3.2" stroke="#1a1a1a" stroke-width="0.6" fill="none"/>
<rect x="322.7" y="41.1" width="3.2" height="3.2" stroke="#1a1a1a" stroke-width="0.6" fill="none"/>
<rect x="334.3" y="39.2" width="3.2" height="3.2" stroke="#1a1a1a" stroke-width="0.6" fill="none"/>
<rect x="349.9" y="31.9" width="3.2" height="3.2" stroke="#1a1a1a" stroke-width="0.6" fill="none"/>
<rect x="354.3" y="21.9" width="3.2" height="3.2" stroke="#1a1a1a" stroke-width="0.6" fill="none"/>
<rect x="358" y="20.3" width="3.2" height="3.2" stroke="#1a1a1a" stroke-width="0.6" fill="none"/>
<rect x="225.2" y="10" width="44.5" height="49.7" fill="#fff" stroke="#222" stroke-width="0.5"/>
<path d="M227.85 15.1H231.35M229.6 13.35V16.85" stroke="#111" stroke-width="0.8" fill="none"/>
<text class="lg" transform="translate(232 17.7) scale(0.78 1)" font-size="7.5" fill="#151515">OMDPSO</text>
<ellipse cx="229.6" cy="25" rx="1.57" ry="1.33" stroke="#FF0000" stroke-width="0.7" fill="none"/>
<text class="lg" transform="translate(232 27.6) scale(0.78 1)" font-size="7.5" fill="#151515">OMDPSO+</text>
<path d="M228 33.2L231.2 36.4M228 36.4L231.2 33.2" stroke="#222" stroke-width="0.6" fill="none"/>
<text class="lg" transform="translate(232 37.4) scale(0.78 1)" font-size="7.5" fill="#151515">MMDPSO</text>
<path d="M229.6 43L231.3 44.7L229.6 46.4L227.9 44.7Z" fill="#FFC000"/>
<text class="lg" transform="translate(232 47.3) scale(0.78 1)" font-size="7.5" fill="#151515">MMDPSO+</text>
<rect x="228.25" y="53.15" width="2.7" height="2.7" stroke="#1a1a1a" stroke-width="0.65" fill="none"/>
<text class="lg" transform="translate(232 57.1) scale(0.765 1)" font-size="7.5" fill="#151515">Best-known PF</text></g>
<g><path d="M397.6 7.6H540.6" stroke="#e8e8e8" stroke-width="0.5"/>
<path d="M397.6 17.6H540.6" stroke="#e8e8e8" stroke-width="0.5"/>
<path d="M397.6 27.6H540.6" stroke="#e8e8e8" stroke-width="0.5"/>
<path d="M397.6 37.6H540.6" stroke="#e8e8e8" stroke-width="0.5"/>
<path d="M397.6 47.6H540.6" stroke="#e8e8e8" stroke-width="0.5"/>
<path d="M397.6 57.6H540.6" stroke="#e8e8e8" stroke-width="0.5"/>
<path d="M397.6 67.6H540.6" stroke="#e8e8e8" stroke-width="0.5"/>
<path d="M397.6 77.6H540.6" stroke="#e8e8e8" stroke-width="0.5"/>
<path d="M397.6 87.6H540.6" stroke="#e8e8e8" stroke-width="0.5"/>
<path d="M397.6 97.6H540.6" stroke="#e8e8e8" stroke-width="0.5"/>
<path d="M397.6 107.6H540.6" stroke="#e8e8e8" stroke-width="0.5"/>
<path d="M433.35 7.6V107.6" stroke="#e8e8e8" stroke-width="0.5"/>
<path d="M469.1 7.6V107.6" stroke="#e8e8e8" stroke-width="0.5"/>
<path d="M504.85 7.6V107.6" stroke="#e8e8e8" stroke-width="0.5"/>
<path d="M540.6 7.6V107.6" stroke="#e8e8e8" stroke-width="0.5"/>
<path d="M397.6 7.6V107.6H540.6" stroke="#505050" stroke-width="0.5" fill="none"/>
<path d="M397.6 7.6h1.7M397.6 9.6h1.5M397.6 11.6h1.5M397.6 13.6h1.5M397.6 15.6h1.5M397.6 17.6h1.7M397.6 19.6h1.5M397.6 21.6h1.5M397.6 23.6h1.5M397.6 25.6h1.5M397.6 27.6h1.7M397.6 29.6h1.5M397.6 31.6h1.5M397.6 33.6h1.5M397.6 35.6h1.5M397.6 37.6h1.7M397.6 39.6h1.5M397.6 41.6h1.5M397.6 43.6h1.5M397.6 45.6h1.5M397.6 47.6h1.7M397.6 49.6h1.5M397.6 51.6h1.5M397.6 53.6h1.5M397.6 55.6h1.5M397.6 57.6h1.7M397.6 59.6h1.5M397.6 61.6h1.5M397.6 63.6h1.5M397.6 65.6h1.5M397.6 67.6h1.7M397.6 69.6h1.5M397.6 71.6h1.5M397.6 73.6h1.5M397.6 75.6h1.5M397.6 77.6h1.7M397.6 79.6h1.5M397.6 81.6h1.5M397.6 83.6h1.5M397.6 85.6h1.5M397.6 87.6h1.7M397.6 89.6h1.5M397.6 91.6h1.5M397.6 93.6h1.5M397.6 95.6h1.5M397.6 97.6h1.7M397.6 99.6h1.5M397.6 101.6h1.5M397.6 103.6h1.5M397.6 105.6h1.5M397.6 107.6h1.7M397.6 107.6v-1.7M404.75 107.6v-1.5M411.9 107.6v-1.5M419.05 107.6v-1.5M426.2 107.6v-1.5M433.35 107.6v-1.7M440.5 107.6v-1.5M447.65 107.6v-1.5M454.8 107.6v-1.5M461.95 107.6v-1.5M469.1 107.6v-1.7M476.25 107.6v-1.5M483.4 107.6v-1.5M490.55 107.6v-1.5M497.7 107.6v-1.5M504.85 107.6v-1.7M512 107.6v-1.5M519.15 107.6v-1.5M526.3 107.6v-1.5M533.45 107.6v-1.5M540.6 107.6v-1.7" stroke="#505050" stroke-width="0.4" fill="none"/>
<text class="tk" transform="translate(392.2 9.7) scale(0.885 1)" font-size="7.4" text-anchor="end" fill="#595959">10.1</text>
<text class="tk" transform="translate(392.2 19.7) scale(0.885 1)" font-size="7.4" text-anchor="end" fill="#595959">10.0</text>
<text class="tk" transform="translate(392.2 29.7) scale(0.885 1)" font-size="7.4" text-anchor="end" fill="#595959">9.9</text>
<text class="tk" transform="translate(392.2 39.7) scale(0.885 1)" font-size="7.4" text-anchor="end" fill="#595959">9.8</text>
<text class="tk" transform="translate(392.2 49.7) scale(0.885 1)" font-size="7.4" text-anchor="end" fill="#595959">9.7</text>
<text class="tk" transform="translate(392.2 59.7) scale(0.885 1)" font-size="7.4" text-anchor="end" fill="#595959">9.6</text>
<text class="tk" transform="translate(392.2 69.7) scale(0.885 1)" font-size="7.4" text-anchor="end" fill="#595959">9.5</text>
<text class="tk" transform="translate(392.2 79.7) scale(0.885 1)" font-size="7.4" text-anchor="end" fill="#595959">9.4</text>
<text class="tk" transform="translate(392.2 89.7) scale(0.885 1)" font-size="7.4" text-anchor="end" fill="#595959">9.3</text>
<text class="tk" transform="translate(392.2 99.7) scale(0.885 1)" font-size="7.4" text-anchor="end" fill="#595959">9.2</text>
<text class="tk" transform="translate(392.2 109.7) scale(0.885 1)" font-size="7.4" text-anchor="end" fill="#595959">9.1</text>
<text class="tk" transform="translate(397.6 117.3) scale(0.885 1)" font-size="7.4" text-anchor="middle" fill="#595959">0.345</text>
<text class="tk" transform="translate(433.35 117.3) scale(0.885 1)" font-size="7.4" text-anchor="middle" fill="#595959">0.34625</text>
<text class="tk" transform="translate(469.1 117.3) scale(0.885 1)" font-size="7.4" text-anchor="middle" fill="#595959">0.3475</text>
<text class="tk" transform="translate(504.85 117.3) scale(0.885 1)" font-size="7.4" text-anchor="middle" fill="#595959">0.34875</text>
<text class="tk" transform="translate(540.6 117.3) scale(0.885 1)" font-size="7.4" text-anchor="middle" fill="#595959">0.35</text>
<text class="ti" transform="translate(468.8 128.8) scale(0.92 1)" font-size="7.9" text-anchor="middle" fill="#5e5e5e">Network Resilience</text>
<text class="ti" transform="translate(380.2 57.6) rotate(-90) scale(0.92 1)" font-size="7.9" text-anchor="middle" fill="#5e5e5e">Cost in millions  ($)</text>
<path d="M402.85 83.9H406.55M404.7 82.05V85.75" stroke="#262626" stroke-width="0.6" fill="none"/>
<path d="M404.45 82.3H408.15M406.3 80.45V84.15" stroke="#262626" stroke-width="0.6" fill="none"/>
<path d="M418.95 80H422.65M420.8 78.15V81.85" stroke="#262626" stroke-width="0.6" fill="none"/>
<path d="M432.85 74.2H436.55M434.7 72.35V76.05" stroke="#262626" stroke-width="0.6" fill="none"/>
<path d="M438.55 71.9H442.25M440.4 70.05V73.75" stroke="#262626" stroke-width="0.6" fill="none"/>
<path d="M442.75 69.4H446.45M444.6 67.55V71.25" stroke="#262626" stroke-width="0.6" fill="none"/>
<path d="M445.05 68.9H448.75M446.9 67.05V70.75" stroke="#262626" stroke-width="0.6" fill="none"/>
<path d="M451.25 66.2H454.95M453.1 64.35V68.05" stroke="#262626" stroke-width="0.6" fill="none"/>
<path d="M460.45 64.8H464.15M462.3 62.95V66.65" stroke="#262626" stroke-width="0.6" fill="none"/>
<path d="M499.85 42H503.55M501.7 40.15V43.85" stroke="#262626" stroke-width="0.6" fill="none"/>
<path d="M502.15 39.7H505.85M504 37.85V41.55" stroke="#262626" stroke-width="0.6" fill="none"/>
<path d="M509.15 36.9H512.85M511 35.05V38.75" stroke="#262626" stroke-width="0.6" fill="none"/>
<path d="M516.05 33.5H519.75M517.9 31.65V35.35" stroke="#262626" stroke-width="0.6" fill="none"/>
<path d="M531.45 27.5H535.15M533.3 25.65V29.35" stroke="#262626" stroke-width="0.6" fill="none"/>
<path d="M531.85 27.8H535.55M533.7 25.95V29.65" stroke="#262626" stroke-width="0.6" fill="none"/>
<path d="M473.85 55H477.55M475.7 53.15V56.85" stroke="#262626" stroke-width="0.6" fill="none"/>
<path d="M481.45 54.5H485.15M483.3 52.65V56.35" stroke="#262626" stroke-width="0.6" fill="none"/>
<ellipse cx="400.8" cy="93.8" rx="1.79" ry="1.52" stroke="#FF0000" stroke-width="0.55" fill="none"/>
<ellipse cx="403.5" cy="88.5" rx="1.79" ry="1.52" stroke="#FF0000" stroke-width="0.55" fill="none"/>
<ellipse cx="406.3" cy="87.4" rx="1.79" ry="1.52" stroke="#FF0000" stroke-width="0.55" fill="none"/>
<ellipse cx="410" cy="87.4" rx="1.79" ry="1.52" stroke="#FF0000" stroke-width="0.55" fill="none"/>
<ellipse cx="414.6" cy="84.6" rx="1.79" ry="1.52" stroke="#FF0000" stroke-width="0.55" fill="none"/>
<ellipse cx="416.9" cy="83.5" rx="1.79" ry="1.52" stroke="#FF0000" stroke-width="0.55" fill="none"/>
<ellipse cx="424.3" cy="82.8" rx="1.79" ry="1.52" stroke="#FF0000" stroke-width="0.55" fill="none"/>
<ellipse cx="431.9" cy="79.3" rx="1.79" ry="1.52" stroke="#FF0000" stroke-width="0.55" fill="none"/>
<ellipse cx="434.7" cy="78.2" rx="1.79" ry="1.52" stroke="#FF0000" stroke-width="0.55" fill="none"/>
<ellipse cx="437" cy="77" rx="1.79" ry="1.52" stroke="#FF0000" stroke-width="0.55" fill="none"/>
<ellipse cx="456.6" cy="67.3" rx="1.79" ry="1.52" stroke="#FF0000" stroke-width="0.55" fill="none"/>
<ellipse cx="458.9" cy="67.3" rx="1.79" ry="1.52" stroke="#FF0000" stroke-width="0.55" fill="none"/>
<ellipse cx="475.7" cy="55.8" rx="1.79" ry="1.52" stroke="#FF0000" stroke-width="0.55" fill="none"/>
<ellipse cx="483.3" cy="55.4" rx="1.79" ry="1.52" stroke="#FF0000" stroke-width="0.55" fill="none"/>
<path d="M397.1 93.6L400.9 97.4M397.1 97.4L400.9 93.6" stroke="#222" stroke-width="0.5" fill="none"/>
<path d="M474.1 60.6L477.9 64.4M474.1 64.4L477.9 60.6" stroke="#222" stroke-width="0.5" fill="none"/>
<path d="M398.5 94.1L400.3 95.9L398.5 97.7L396.7 95.9Z" fill="#FFC000"/>
<path d="M407.7 93.2L409.5 95L407.7 96.8L405.9 95Z" fill="#FFC000"/>
<path d="M410.4 90.9L412.2 92.7L410.4 94.5L408.6 92.7Z" fill="#FFC000"/>
<path d="M411.6 87.9L413.4 89.7L411.6 91.5L409.8 89.7Z" fill="#FFC000"/>
<path d="M417.8 86.7L419.6 88.5L417.8 90.3L416 88.5Z" fill="#FFC000"/>
<path d="M420.8 83.3L422.6 85.1L420.8 86.9L419 85.1Z" fill="#FFC000"/>
<path d="M430 83.3L431.8 85.1L430 86.9L428.2 85.1Z" fill="#FFC000"/>
<path d="M434.7 78.7L436.5 80.5L434.7 82.3L432.9 80.5Z" fill="#FFC000"/>
<path d="M437 78.7L438.8 80.5L437 82.3L435.2 80.5Z" fill="#FFC000"/>
<path d="M439.7 75.9L441.5 77.7L439.7 79.5L437.9 77.7Z" fill="#FFC000"/>
<path d="M448 75.2L449.8 77L448 78.8L446.2 77Z" fill="#FFC000"/>
<path d="M451.5 72.4L453.3 74.2L451.5 76L449.7 74.2Z" fill="#FFC000"/>
<path d="M453.8 71.3L455.6 73.1L453.8 74.9L452 73.1Z" fill="#FFC000"/>
<path d="M459.3 69L461.1 70.8L459.3 72.6L457.5 70.8Z" fill="#FFC000"/>
<path d="M460.7 66.7L462.5 68.5L460.7 70.3L458.9 68.5Z" fill="#FFC000"/>
<path d="M471.5 64.4L473.3 66.2L471.5 68L469.7 66.2Z" fill="#FFC000"/>
<path d="M483.3 55.2L485.1 57L483.3 58.8L481.5 57Z" fill="#FFC000"/>
<path d="M488.4 52.9L490.2 54.7L488.4 56.5L486.6 54.7Z" fill="#FFC000"/>
<path d="M494.1 52.4L495.9 54.2L494.1 56L492.3 54.2Z" fill="#FFC000"/>
<path d="M500.6 49.4L502.4 51.2L500.6 53L498.8 51.2Z" fill="#FFC000"/>
<path d="M502.9 48.3L504.7 50.1L502.9 51.9L501.1 50.1Z" fill="#FFC000"/>
<path d="M502.9 43.2L504.7 45L502.9 46.8L501.1 45Z" fill="#FFC000"/>
<path d="M507 41.4L508.8 43.2L507 45L505.2 43.2Z" fill="#FFC000"/>
<path d="M512.1 41.4L513.9 43.2L512.1 45L510.3 43.2Z" fill="#FFC000"/>
<path d="M518.6 37.9L520.4 39.7L518.6 41.5L516.8 39.7Z" fill="#FFC000"/>
<path d="M524.8 37.9L526.6 39.7L524.8 41.5L523 39.7Z" fill="#FFC000"/>
<path d="M527.1 32.1L528.9 33.9L527.1 35.7L525.3 33.9Z" fill="#FFC000"/>
<path d="M527.8 26.8L529.6 28.6L527.8 30.4L526 28.6Z" fill="#FFC000"/>
<path d="M476 61.2L477.8 63L476 64.8L474.2 63Z" fill="#FFC000"/>
<path d="M397 94.4L400 97.4M397 97.4L400 94.4" stroke="#3d3208" stroke-width="0.55" fill="none"/>
<path d="M406.2 93.5L409.2 96.5M406.2 96.5L409.2 93.5" stroke="#3d3208" stroke-width="0.55" fill="none"/>
<path d="M408.9 91.2L411.9 94.2M408.9 94.2L411.9 91.2" stroke="#3d3208" stroke-width="0.55" fill="none"/>
<path d="M410.1 88.2L413.1 91.2M410.1 91.2L413.1 88.2" stroke="#3d3208" stroke-width="0.55" fill="none"/>
<path d="M416.3 87L419.3 90M416.3 90L419.3 87" stroke="#3d3208" stroke-width="0.55" fill="none"/>
<path d="M419.3 83.6L422.3 86.6M419.3 86.6L422.3 83.6" stroke="#3d3208" stroke-width="0.55" fill="none"/>
<path d="M428.5 83.6L431.5 86.6M428.5 86.6L431.5 83.6" stroke="#3d3208" stroke-width="0.55" fill="none"/>
<path d="M433.2 79L436.2 82M433.2 82L436.2 79" stroke="#3d3208" stroke-width="0.55" fill="none"/>
<path d="M435.5 79L438.5 82M435.5 82L438.5 79" stroke="#3d3208" stroke-width="0.55" fill="none"/>
<path d="M438.2 76.2L441.2 79.2M438.2 79.2L441.2 76.2" stroke="#3d3208" stroke-width="0.55" fill="none"/>
<path d="M446.5 75.5L449.5 78.5M446.5 78.5L449.5 75.5" stroke="#3d3208" stroke-width="0.55" fill="none"/>
<path d="M450 72.7L453 75.7M450 75.7L453 72.7" stroke="#3d3208" stroke-width="0.55" fill="none"/>
<path d="M452.3 71.6L455.3 74.6M452.3 74.6L455.3 71.6" stroke="#3d3208" stroke-width="0.55" fill="none"/>
<path d="M457.8 69.3L460.8 72.3M457.8 72.3L460.8 69.3" stroke="#3d3208" stroke-width="0.55" fill="none"/>
<path d="M459.2 67L462.2 70M459.2 70L462.2 67" stroke="#3d3208" stroke-width="0.55" fill="none"/>
<path d="M470 64.7L473 67.7M470 67.7L473 64.7" stroke="#3d3208" stroke-width="0.55" fill="none"/>
<path d="M481.8 55.5L484.8 58.5M481.8 58.5L484.8 55.5" stroke="#3d3208" stroke-width="0.55" fill="none"/>
<path d="M486.9 53.2L489.9 56.2M486.9 56.2L489.9 53.2" stroke="#3d3208" stroke-width="0.55" fill="none"/>
<path d="M492.6 52.7L495.6 55.7M492.6 55.7L495.6 52.7" stroke="#3d3208" stroke-width="0.55" fill="none"/>
<path d="M499.1 49.7L502.1 52.7M499.1 52.7L502.1 49.7" stroke="#3d3208" stroke-width="0.55" fill="none"/>
<path d="M501.4 48.6L504.4 51.6M501.4 51.6L504.4 48.6" stroke="#3d3208" stroke-width="0.55" fill="none"/>
<path d="M501.4 43.5L504.4 46.5M501.4 46.5L504.4 43.5" stroke="#3d3208" stroke-width="0.55" fill="none"/>
<path d="M505.5 41.7L508.5 44.7M505.5 44.7L508.5 41.7" stroke="#3d3208" stroke-width="0.55" fill="none"/>
<path d="M510.6 41.7L513.6 44.7M510.6 44.7L513.6 41.7" stroke="#3d3208" stroke-width="0.55" fill="none"/>
<path d="M517.1 38.2L520.1 41.2M517.1 41.2L520.1 38.2" stroke="#3d3208" stroke-width="0.55" fill="none"/>
<path d="M523.3 38.2L526.3 41.2M523.3 41.2L526.3 38.2" stroke="#3d3208" stroke-width="0.55" fill="none"/>
<path d="M525.6 32.4L528.6 35.4M525.6 35.4L528.6 32.4" stroke="#3d3208" stroke-width="0.55" fill="none"/>
<path d="M526.3 27.1L529.3 30.1M526.3 30.1L529.3 27.1" stroke="#3d3208" stroke-width="0.55" fill="none"/>
<path d="M474.5 61.5L477.5 64.5M474.5 64.5L477.5 61.5" stroke="#3d3208" stroke-width="0.55" fill="none"/>
<rect x="396.9" y="94.3" width="3.2" height="3.2" stroke="#1a1a1a" stroke-width="0.6" fill="none"/>
<rect x="406.1" y="93.4" width="3.2" height="3.2" stroke="#1a1a1a" stroke-width="0.6" fill="none"/>
<rect x="408.8" y="91.1" width="3.2" height="3.2" stroke="#1a1a1a" stroke-width="0.6" fill="none"/>
<rect x="410" y="88.1" width="3.2" height="3.2" stroke="#1a1a1a" stroke-width="0.6" fill="none"/>
<rect x="416.2" y="86.9" width="3.2" height="3.2" stroke="#1a1a1a" stroke-width="0.6" fill="none"/>
<rect x="419.2" y="83.5" width="3.2" height="3.2" stroke="#1a1a1a" stroke-width="0.6" fill="none"/>
<rect x="428.4" y="83.5" width="3.2" height="3.2" stroke="#1a1a1a" stroke-width="0.6" fill="none"/>
<rect x="433.1" y="78.9" width="3.2" height="3.2" stroke="#1a1a1a" stroke-width="0.6" fill="none"/>
<rect x="435.4" y="78.9" width="3.2" height="3.2" stroke="#1a1a1a" stroke-width="0.6" fill="none"/>
<rect x="438.1" y="76.1" width="3.2" height="3.2" stroke="#1a1a1a" stroke-width="0.6" fill="none"/>
<rect x="446.4" y="75.4" width="3.2" height="3.2" stroke="#1a1a1a" stroke-width="0.6" fill="none"/>
<rect x="449.9" y="72.6" width="3.2" height="3.2" stroke="#1a1a1a" stroke-width="0.6" fill="none"/>
<rect x="452.2" y="71.5" width="3.2" height="3.2" stroke="#1a1a1a" stroke-width="0.6" fill="none"/>
<rect x="457.7" y="69.2" width="3.2" height="3.2" stroke="#1a1a1a" stroke-width="0.6" fill="none"/>
<rect x="459.1" y="66.9" width="3.2" height="3.2" stroke="#1a1a1a" stroke-width="0.6" fill="none"/>
<rect x="469.9" y="64.6" width="3.2" height="3.2" stroke="#1a1a1a" stroke-width="0.6" fill="none"/>
<rect x="481.7" y="55.4" width="3.2" height="3.2" stroke="#1a1a1a" stroke-width="0.6" fill="none"/>
<rect x="486.8" y="53.1" width="3.2" height="3.2" stroke="#1a1a1a" stroke-width="0.6" fill="none"/>
<rect x="492.5" y="52.6" width="3.2" height="3.2" stroke="#1a1a1a" stroke-width="0.6" fill="none"/>
<rect x="499" y="49.6" width="3.2" height="3.2" stroke="#1a1a1a" stroke-width="0.6" fill="none"/>
<rect x="501.3" y="48.5" width="3.2" height="3.2" stroke="#1a1a1a" stroke-width="0.6" fill="none"/>
<rect x="501.3" y="43.4" width="3.2" height="3.2" stroke="#1a1a1a" stroke-width="0.6" fill="none"/>
<rect x="505.4" y="41.6" width="3.2" height="3.2" stroke="#1a1a1a" stroke-width="0.6" fill="none"/>
<rect x="510.5" y="41.6" width="3.2" height="3.2" stroke="#1a1a1a" stroke-width="0.6" fill="none"/>
<rect x="517" y="38.1" width="3.2" height="3.2" stroke="#1a1a1a" stroke-width="0.6" fill="none"/>
<rect x="523.2" y="38.1" width="3.2" height="3.2" stroke="#1a1a1a" stroke-width="0.6" fill="none"/>
<rect x="525.5" y="32.3" width="3.2" height="3.2" stroke="#1a1a1a" stroke-width="0.6" fill="none"/>
<rect x="526.2" y="27" width="3.2" height="3.2" stroke="#1a1a1a" stroke-width="0.6" fill="none"/>
<rect x="474.4" y="61.4" width="3.2" height="3.2" stroke="#1a1a1a" stroke-width="0.6" fill="none"/>
<rect x="403.4" y="10" width="43.9" height="49.6" fill="#fff" stroke="#222" stroke-width="0.5"/>
<path d="M406.05 15.3H409.55M407.8 13.55V17.05" stroke="#111" stroke-width="0.8" fill="none"/>
<text class="lg" transform="translate(410.2 17.9) scale(0.78 1)" font-size="7.5" fill="#151515">OMDPSO</text>
<ellipse cx="407.8" cy="25.2" rx="1.57" ry="1.33" stroke="#FF0000" stroke-width="0.7" fill="none"/>
<text class="lg" transform="translate(410.2 27.8) scale(0.78 1)" font-size="7.5" fill="#151515">OMDPSO+</text>
<path d="M406.2 33.4L409.4 36.6M406.2 36.6L409.4 33.4" stroke="#222" stroke-width="0.6" fill="none"/>
<text class="lg" transform="translate(410.2 37.6) scale(0.78 1)" font-size="7.5" fill="#151515">MMDPSO</text>
<path d="M407.8 43.2L409.5 44.9L407.8 46.6L406.1 44.9Z" fill="#FFC000"/>
<text class="lg" transform="translate(410.2 47.5) scale(0.78 1)" font-size="7.5" fill="#151515">MMDPSO+</text>
<rect x="406.45" y="53.35" width="2.7" height="2.7" stroke="#1a1a1a" stroke-width="0.65" fill="none"/>
<text class="lg" transform="translate(410.2 57.3) scale(0.765 1)" font-size="7.5" fill="#151515">Best-known PF</text></g>
<g><path d="M42.1 143.3H184.4" stroke="#e8e8e8" stroke-width="0.5"/>
<path d="M42.1 153.58H184.4" stroke="#e8e8e8" stroke-width="0.5"/>
<path d="M42.1 163.86H184.4" stroke="#e8e8e8" stroke-width="0.5"/>
<path d="M42.1 174.13H184.4" stroke="#e8e8e8" stroke-width="0.5"/>
<path d="M42.1 184.41H184.4" stroke="#e8e8e8" stroke-width="0.5"/>
<path d="M42.1 194.69H184.4" stroke="#e8e8e8" stroke-width="0.5"/>
<path d="M42.1 204.97H184.4" stroke="#e8e8e8" stroke-width="0.5"/>
<path d="M42.1 215.24H184.4" stroke="#e8e8e8" stroke-width="0.5"/>
<path d="M42.1 225.52H184.4" stroke="#e8e8e8" stroke-width="0.5"/>
<path d="M42.1 235.8H184.4" stroke="#e8e8e8" stroke-width="0.5"/>
<path d="M77.68 143.3V235.8" stroke="#e8e8e8" stroke-width="0.5"/>
<path d="M113.25 143.3V235.8" stroke="#e8e8e8" stroke-width="0.5"/>
<path d="M148.83 143.3V235.8" stroke="#e8e8e8" stroke-width="0.5"/>
<path d="M184.4 143.3V235.8" stroke="#e8e8e8" stroke-width="0.5"/>
<path d="M42.1 143.3V235.8H184.4" stroke="#505050" stroke-width="0.5" fill="none"/>
<path d="M42.1 143.3h1.7M42.1 145.36h1.5M42.1 147.41h1.5M42.1 149.47h1.5M42.1 151.52h1.5M42.1 153.58h1.7M42.1 155.63h1.5M42.1 157.69h1.5M42.1 159.74h1.5M42.1 161.8h1.5M42.1 163.86h1.7M42.1 165.91h1.5M42.1 167.97h1.5M42.1 170.02h1.5M42.1 172.08h1.5M42.1 174.13h1.7M42.1 176.19h1.5M42.1 178.24h1.5M42.1 180.3h1.5M42.1 182.36h1.5M42.1 184.41h1.7M42.1 186.47h1.5M42.1 188.52h1.5M42.1 190.58h1.5M42.1 192.63h1.5M42.1 194.69h1.7M42.1 196.74h1.5M42.1 198.8h1.5M42.1 200.86h1.5M42.1 202.91h1.5M42.1 204.97h1.7M42.1 207.02h1.5M42.1 209.08h1.5M42.1 211.13h1.5M42.1 213.19h1.5M42.1 215.24h1.7M42.1 217.3h1.5M42.1 219.36h1.5M42.1 221.41h1.5M42.1 223.47h1.5M42.1 225.52h1.7M42.1 227.58h1.5M42.1 229.63h1.5M42.1 231.69h1.5M42.1 233.74h1.5M42.1 235.8h1.7M42.1 235.8v-1.7M49.22 235.8v-1.5M56.33 235.8v-1.5M63.45 235.8v-1.5M70.56 235.8v-1.5M77.68 235.8v-1.7M84.79 235.8v-1.5M91.91 235.8v-1.5M99.02 235.8v-1.5M106.13 235.8v-1.5M113.25 235.8v-1.7M120.37 235.8v-1.5M127.48 235.8v-1.5M134.59 235.8v-1.5M141.71 235.8v-1.5M148.82 235.8v-1.7M155.94 235.8v-1.5M163.06 235.8v-1.5M170.17 235.8v-1.5M177.28 235.8v-1.5M184.4 235.8v-1.7" stroke="#505050" stroke-width="0.4" fill="none"/>
<text class="tk" transform="translate(37 145.4) scale(0.885 1)" font-size="7.4" text-anchor="end" fill="#595959">6.50</text>
<text class="tk" transform="translate(37 155.68) scale(0.885 1)" font-size="7.4" text-anchor="end" fill="#595959">6.00</text>
<text class="tk" transform="translate(37 165.96) scale(0.885 1)" font-size="7.4" text-anchor="end" fill="#595959">5.50</text>
<text class="tk" transform="translate(37 176.23) scale(0.885 1)" font-size="7.4" text-anchor="end" fill="#595959">5.00</text>
<text class="tk" transform="translate(37 186.51) scale(0.885 1)" font-size="7.4" text-anchor="end" fill="#595959">4.50</text>
<text class="tk" transform="translate(37 196.79) scale(0.885 1)" font-size="7.4" text-anchor="end" fill="#595959">4.00</text>
<text class="tk" transform="translate(37 207.07) scale(0.885 1)" font-size="7.4" text-anchor="end" fill="#595959">3.50</text>
<text class="tk" transform="translate(37 217.34) scale(0.885 1)" font-size="7.4" text-anchor="end" fill="#595959">3.00</text>
<text class="tk" transform="translate(37 227.62) scale(0.885 1)" font-size="7.4" text-anchor="end" fill="#595959">2.50</text>
<text class="tk" transform="translate(37 237.9) scale(0.885 1)" font-size="7.4" text-anchor="end" fill="#595959">2.00</text>
<text class="tk" transform="translate(42.1 245.5) scale(0.885 1)" font-size="7.4" text-anchor="middle" fill="#595959">0.69</text>
<text class="tk" transform="translate(77.68 245.5) scale(0.885 1)" font-size="7.4" text-anchor="middle" fill="#595959">0.715</text>
<text class="tk" transform="translate(113.25 245.5) scale(0.885 1)" font-size="7.4" text-anchor="middle" fill="#595959">0.74</text>
<text class="tk" transform="translate(148.83 245.5) scale(0.885 1)" font-size="7.4" text-anchor="middle" fill="#595959">0.765</text>
<text class="tk" transform="translate(184.4 245.5) scale(0.885 1)" font-size="7.4" text-anchor="middle" fill="#595959">0.79</text>
<text class="ti" transform="translate(112.95 257) scale(0.92 1)" font-size="7.9" text-anchor="middle" fill="#5e5e5e">Network Resilience</text>
<text class="ti" transform="translate(22.2 189.95) rotate(-90) scale(0.92 1)" font-size="7.9" text-anchor="middle" fill="#5e5e5e">Cost in millions  (€)</text>
<path d="M52.36 196.3H56.06M54.21 194.45V198.15" stroke="#262626" stroke-width="0.6" fill="none"/>
<path d="M54.1 196.09H57.8M55.95 194.24V197.94" stroke="#262626" stroke-width="0.6" fill="none"/>
<path d="M59.25 194.86H62.95M61.1 193.01V196.71" stroke="#262626" stroke-width="0.6" fill="none"/>
<path d="M61.25 195.13H64.95M63.1 193.28V196.98" stroke="#262626" stroke-width="0.6" fill="none"/>
<path d="M65.12 195.22H68.82M66.97 193.37V197.07" stroke="#262626" stroke-width="0.6" fill="none"/>
<path d="M69.18 195.25H72.88M71.03 193.4V197.1" stroke="#262626" stroke-width="0.6" fill="none"/>
<path d="M71.83 194.8H75.53M73.68 192.95V196.65" stroke="#262626" stroke-width="0.6" fill="none"/>
<path d="M75.51 195.13H79.21M77.36 193.28V196.98" stroke="#262626" stroke-width="0.6" fill="none"/>
<path d="M78.06 194.62H81.76M79.91 192.77V196.47" stroke="#262626" stroke-width="0.6" fill="none"/>
<path d="M50.65 197.7H54.35M52.5 195.85V199.55" stroke="#262626" stroke-width="0.6" fill="none"/>
<path d="M53.15 197.5H56.85M55 195.65V199.35" stroke="#262626" stroke-width="0.6" fill="none"/>
<path d="M103.35 190.1H107.05M105.2 188.25V191.95" stroke="#262626" stroke-width="0.6" fill="none"/>
<path d="M158.15 173.8H161.85M160 171.95V175.65" stroke="#262626" stroke-width="0.6" fill="none"/>
<path d="M166.15 169.8H169.85M168 167.95V171.65" stroke="#262626" stroke-width="0.6" fill="none"/>
<path d="M102.73 190.45H106.43M104.58 188.6V192.3" stroke="#262626" stroke-width="0.6" fill="none"/>
<path d="M107.12 189.79H110.82M108.97 187.94V191.64" stroke="#262626" stroke-width="0.6" fill="none"/>
<path d="M113.75 188.36H117.45M115.6 186.51V190.21" stroke="#262626" stroke-width="0.6" fill="none"/>
<path d="M118.96 186.96H122.66M120.81 185.11V188.81" stroke="#262626" stroke-width="0.6" fill="none"/>
<path d="M122.1 185.62H125.8M123.95 183.77V187.47" stroke="#262626" stroke-width="0.6" fill="none"/>
<path d="M130.23 183.68H133.93M132.08 181.83V185.53" stroke="#262626" stroke-width="0.6" fill="none"/>
<path d="M134.57 182.45H138.27M136.42 180.6V184.3" stroke="#262626" stroke-width="0.6" fill="none"/>
<path d="M140.34 181.04H144.04M142.19 179.19V182.89" stroke="#262626" stroke-width="0.6" fill="none"/>
<path d="M145.2 179.22H148.9M147.05 177.37V181.07" stroke="#262626" stroke-width="0.6" fill="none"/>
<path d="M150 177.2H153.7M151.85 175.35V179.05" stroke="#262626" stroke-width="0.6" fill="none"/>
<path d="M155.02 175.37H158.72M156.87 173.52V177.22" stroke="#262626" stroke-width="0.6" fill="none"/>
<path d="M157.82 173.17H161.52M159.67 171.32V175.02" stroke="#262626" stroke-width="0.6" fill="none"/>
<path d="M161.31 172.81H165.01M163.16 170.96V174.66" stroke="#262626" stroke-width="0.6" fill="none"/>
<path d="M166.8 169.99H170.5M168.65 168.14V171.84" stroke="#262626" stroke-width="0.6" fill="none"/>
<path d="M174.92 169.26H178.62M176.77 167.41V171.11" stroke="#262626" stroke-width="0.6" fill="none"/>
<path d="M177.04 167.87H180.74M178.89 166.02V169.72" stroke="#262626" stroke-width="0.6" fill="none"/>
<ellipse cx="43.07" cy="202.35" rx="1.79" ry="1.52" stroke="#FF0000" stroke-width="0.55" fill="none"/>
<ellipse cx="46.29" cy="202.67" rx="1.79" ry="1.52" stroke="#FF0000" stroke-width="0.55" fill="none"/>
<ellipse cx="48.72" cy="202.36" rx="1.79" ry="1.52" stroke="#FF0000" stroke-width="0.55" fill="none"/>
<ellipse cx="51.02" cy="201.2" rx="1.79" ry="1.52" stroke="#FF0000" stroke-width="0.55" fill="none"/>
<ellipse cx="53.99" cy="201.44" rx="1.79" ry="1.52" stroke="#FF0000" stroke-width="0.55" fill="none"/>
<ellipse cx="56.32" cy="200.73" rx="1.79" ry="1.52" stroke="#FF0000" stroke-width="0.55" fill="none"/>
<ellipse cx="58.64" cy="200.86" rx="1.79" ry="1.52" stroke="#FF0000" stroke-width="0.55" fill="none"/>
<ellipse cx="60.76" cy="200.57" rx="1.79" ry="1.52" stroke="#FF0000" stroke-width="0.55" fill="none"/>
<ellipse cx="64.52" cy="200.51" rx="1.79" ry="1.52" stroke="#FF0000" stroke-width="0.55" fill="none"/>
<ellipse cx="68.39" cy="200.34" rx="1.79" ry="1.52" stroke="#FF0000" stroke-width="0.55" fill="none"/>
<ellipse cx="71.02" cy="199.68" rx="1.79" ry="1.52" stroke="#FF0000" stroke-width="0.55" fill="none"/>
<ellipse cx="73.64" cy="199.81" rx="1.79" ry="1.52" stroke="#FF0000" stroke-width="0.55" fill="none"/>
<ellipse cx="75.45" cy="199.74" rx="1.79" ry="1.52" stroke="#FF0000" stroke-width="0.55" fill="none"/>
<ellipse cx="79.36" cy="199.31" rx="1.79" ry="1.52" stroke="#FF0000" stroke-width="0.55" fill="none"/>
<ellipse cx="81.28" cy="198.85" rx="1.79" ry="1.52" stroke="#FF0000" stroke-width="0.55" fill="none"/>
<ellipse cx="84.13" cy="198.93" rx="1.79" ry="1.52" stroke="#FF0000" stroke-width="0.55" fill="none"/>
<ellipse cx="87.19" cy="198.68" rx="1.79" ry="1.52" stroke="#FF0000" stroke-width="0.55" fill="none"/>
<ellipse cx="89.04" cy="197.19" rx="1.8" ry="1.55" stroke="#FF0000" stroke-width="0.6" fill="#FF0000" fill-opacity="0.3"/>
<ellipse cx="89.37" cy="197.06" rx="1.8" ry="1.55" stroke="#FF0000" stroke-width="0.6" fill="#FF0000" fill-opacity="0.3"/>
<ellipse cx="91.65" cy="196.68" rx="1.8" ry="1.55" stroke="#FF0000" stroke-width="0.6" fill="#FF0000" fill-opacity="0.3"/>
<ellipse cx="93.79" cy="196.01" rx="1.8" ry="1.55" stroke="#FF0000" stroke-width="0.6" fill="#FF0000" fill-opacity="0.3"/>
<ellipse cx="94.73" cy="195.63" rx="1.8" ry="1.55" stroke="#FF0000" stroke-width="0.6" fill="#FF0000" fill-opacity="0.3"/>
<ellipse cx="97.09" cy="194.66" rx="1.8" ry="1.55" stroke="#FF0000" stroke-width="0.6" fill="#FF0000" fill-opacity="0.3"/>
<ellipse cx="98.25" cy="194.35" rx="1.8" ry="1.55" stroke="#FF0000" stroke-width="0.6" fill="#FF0000" fill-opacity="0.3"/>
<ellipse cx="99.35" cy="193.45" rx="1.8" ry="1.55" stroke="#FF0000" stroke-width="0.6" fill="#FF0000" fill-opacity="0.3"/>
<ellipse cx="101.7" cy="193.19" rx="1.8" ry="1.55" stroke="#FF0000" stroke-width="0.6" fill="#FF0000" fill-opacity="0.3"/>
<ellipse cx="103.87" cy="192.11" rx="1.8" ry="1.55" stroke="#FF0000" stroke-width="0.6" fill="#FF0000" fill-opacity="0.3"/>
<ellipse cx="105.03" cy="192.31" rx="1.8" ry="1.55" stroke="#FF0000" stroke-width="0.6" fill="#FF0000" fill-opacity="0.3"/>
<ellipse cx="106.87" cy="191.15" rx="1.8" ry="1.55" stroke="#FF0000" stroke-width="0.6" fill="#FF0000" fill-opacity="0.3"/>
<ellipse cx="107.61" cy="191.66" rx="1.8" ry="1.55" stroke="#FF0000" stroke-width="0.6" fill="#FF0000" fill-opacity="0.3"/>
<ellipse cx="109.75" cy="190.46" rx="1.8" ry="1.55" stroke="#FF0000" stroke-width="0.6" fill="#FF0000" fill-opacity="0.3"/>
<ellipse cx="110.87" cy="190.9" rx="1.8" ry="1.55" stroke="#FF0000" stroke-width="0.6" fill="#FF0000" fill-opacity="0.3"/>
<ellipse cx="113.72" cy="189.92" rx="1.8" ry="1.55" stroke="#FF0000" stroke-width="0.6" fill="#FF0000" fill-opacity="0.3"/>
<ellipse cx="114.98" cy="189.75" rx="1.8" ry="1.55" stroke="#FF0000" stroke-width="0.6" fill="#FF0000" fill-opacity="0.3"/>
<ellipse cx="116.46" cy="189.16" rx="1.8" ry="1.55" stroke="#FF0000" stroke-width="0.6" fill="#FF0000" fill-opacity="0.3"/>
<ellipse cx="119.3" cy="188.24" rx="1.8" ry="1.55" stroke="#FF0000" stroke-width="0.6" fill="#FF0000" fill-opacity="0.3"/>
<ellipse cx="120.18" cy="189.03" rx="1.8" ry="1.55" stroke="#FF0000" stroke-width="0.6" fill="#FF0000" fill-opacity="0.3"/>
<ellipse cx="121.4" cy="187.77" rx="1.8" ry="1.55" stroke="#FF0000" stroke-width="0.6" fill="#FF0000" fill-opacity="0.3"/>
<ellipse cx="123.67" cy="187.57" rx="1.8" ry="1.55" stroke="#FF0000" stroke-width="0.6" fill="#FF0000" fill-opacity="0.3"/>
<ellipse cx="124.51" cy="187.82" rx="1.8" ry="1.55" stroke="#FF0000" stroke-width="0.6" fill="#FF0000" fill-opacity="0.3"/>
<ellipse cx="126.39" cy="186.86" rx="1.8" ry="1.55" stroke="#FF0000" stroke-width="0.6" fill="#FF0000" fill-opacity="0.3"/>
<ellipse cx="128.95" cy="185.8" rx="1.8" ry="1.55" stroke="#FF0000" stroke-width="0.6" fill="#FF0000" fill-opacity="0.3"/>
<ellipse cx="130.45" cy="185.1" rx="1.8" ry="1.55" stroke="#FF0000" stroke-width="0.6" fill="#FF0000" fill-opacity="0.3"/>
<ellipse cx="130.92" cy="185.43" rx="1.8" ry="1.55" stroke="#FF0000" stroke-width="0.6" fill="#FF0000" fill-opacity="0.3"/>
<ellipse cx="132.69" cy="184.73" rx="1.8" ry="1.55" stroke="#FF0000" stroke-width="0.6" fill="#FF0000" fill-opacity="0.3"/>
<ellipse cx="134.93" cy="183.9" rx="1.8" ry="1.55" stroke="#FF0000" stroke-width="0.6" fill="#FF0000" fill-opacity="0.3"/>
<ellipse cx="137.16" cy="183.42" rx="1.8" ry="1.55" stroke="#FF0000" stroke-width="0.6" fill="#FF0000" fill-opacity="0.3"/>
<ellipse cx="138.95" cy="183.76" rx="1.8" ry="1.55" stroke="#FF0000" stroke-width="0.6" fill="#FF0000" fill-opacity="0.3"/>
<ellipse cx="139.48" cy="182.94" rx="1.8" ry="1.55" stroke="#FF0000" stroke-width="0.6" fill="#FF0000" fill-opacity="0.3"/>
<ellipse cx="142.18" cy="181.95" rx="1.8" ry="1.55" stroke="#FF0000" stroke-width="0.6" fill="#FF0000" fill-opacity="0.3"/>
<ellipse cx="142.8" cy="181.28" rx="1.8" ry="1.55" stroke="#FF0000" stroke-width="0.6" fill="#FF0000" fill-opacity="0.3"/>
<ellipse cx="144.44" cy="181.09" rx="1.8" ry="1.55" stroke="#FF0000" stroke-width="0.6" fill="#FF0000" fill-opacity="0.3"/>
<ellipse cx="146.65" cy="180.06" rx="1.8" ry="1.55" stroke="#FF0000" stroke-width="0.6" fill="#FF0000" fill-opacity="0.3"/>
<ellipse cx="147.67" cy="179.78" rx="1.8" ry="1.55" stroke="#FF0000" stroke-width="0.6" fill="#FF0000" fill-opacity="0.3"/>
<ellipse cx="150.37" cy="179.36" rx="1.8" ry="1.55" stroke="#FF0000" stroke-width="0.6" fill="#FF0000" fill-opacity="0.3"/>
<ellipse cx="151.56" cy="179" rx="1.8" ry="1.55" stroke="#FF0000" stroke-width="0.6" fill="#FF0000" fill-opacity="0.3"/>
<ellipse cx="152.88" cy="177.38" rx="1.8" ry="1.55" stroke="#FF0000" stroke-width="0.6" fill="#FF0000" fill-opacity="0.3"/>
<ellipse cx="154.48" cy="177.36" rx="1.8" ry="1.55" stroke="#FF0000" stroke-width="0.6" fill="#FF0000" fill-opacity="0.3"/>
<ellipse cx="155.81" cy="175.95" rx="1.8" ry="1.55" stroke="#FF0000" stroke-width="0.6" fill="#FF0000" fill-opacity="0.3"/>
<ellipse cx="157.62" cy="175.59" rx="1.8" ry="1.55" stroke="#FF0000" stroke-width="0.6" fill="#FF0000" fill-opacity="0.3"/>
<ellipse cx="158.61" cy="175.55" rx="1.8" ry="1.55" stroke="#FF0000" stroke-width="0.6" fill="#FF0000" fill-opacity="0.3"/>
<ellipse cx="161" cy="174.52" rx="1.8" ry="1.55" stroke="#FF0000" stroke-width="0.6" fill="#FF0000" fill-opacity="0.3"/>
<ellipse cx="161.97" cy="173.95" rx="1.8" ry="1.55" stroke="#FF0000" stroke-width="0.6" fill="#FF0000" fill-opacity="0.3"/>
<ellipse cx="163.09" cy="173.19" rx="1.8" ry="1.55" stroke="#FF0000" stroke-width="0.6" fill="#FF0000" fill-opacity="0.3"/>
<ellipse cx="165.91" cy="172.21" rx="1.8" ry="1.55" stroke="#FF0000" stroke-width="0.6" fill="#FF0000" fill-opacity="0.3"/>
<ellipse cx="167.93" cy="171.93" rx="1.8" ry="1.55" stroke="#FF0000" stroke-width="0.6" fill="#FF0000" fill-opacity="0.3"/>
<ellipse cx="167.94" cy="171.39" rx="1.8" ry="1.55" stroke="#FF0000" stroke-width="0.6" fill="#FF0000" fill-opacity="0.3"/>
<ellipse cx="169.81" cy="171.12" rx="1.8" ry="1.55" stroke="#FF0000" stroke-width="0.6" fill="#FF0000" fill-opacity="0.3"/>
<ellipse cx="171.76" cy="171.48" rx="1.8" ry="1.55" stroke="#FF0000" stroke-width="0.6" fill="#FF0000" fill-opacity="0.3"/>
<ellipse cx="173.97" cy="170.44" rx="1.8" ry="1.55" stroke="#FF0000" stroke-width="0.6" fill="#FF0000" fill-opacity="0.3"/>
<ellipse cx="175.32" cy="170.05" rx="1.8" ry="1.55" stroke="#FF0000" stroke-width="0.6" fill="#FF0000" fill-opacity="0.3"/>
<ellipse cx="176.29" cy="170.48" rx="1.8" ry="1.55" stroke="#FF0000" stroke-width="0.6" fill="#FF0000" fill-opacity="0.3"/>
<ellipse cx="178.21" cy="169.61" rx="1.8" ry="1.55" stroke="#FF0000" stroke-width="0.6" fill="#FF0000" fill-opacity="0.3"/>
<ellipse cx="180.61" cy="168.47" rx="1.8" ry="1.55" stroke="#FF0000" stroke-width="0.6" fill="#FF0000" fill-opacity="0.3"/>
<ellipse cx="181.6" cy="168.42" rx="1.8" ry="1.55" stroke="#FF0000" stroke-width="0.6" fill="#FF0000" fill-opacity="0.3"/>
<path d="M151.1 188.6L154.9 192.4M151.1 192.4L154.9 188.6" stroke="#222" stroke-width="0.5" fill="none"/>
<path d="M153.5 188.2L157.3 192M153.5 192L157.3 188.2" stroke="#222" stroke-width="0.5" fill="none"/>
<path d="M157 187.1L160.8 190.9M157 190.9L160.8 187.1" stroke="#222" stroke-width="0.5" fill="none"/>
<path d="M159.6 185.8L163.4 189.6M159.6 189.6L163.4 185.8" stroke="#222" stroke-width="0.5" fill="none"/>
<path d="M162.7 184.8L166.5 188.6M162.7 188.6L166.5 184.8" stroke="#222" stroke-width="0.5" fill="none"/>
<path d="M163.9 183.6L167.7 187.4M163.9 187.4L167.7 183.6" stroke="#222" stroke-width="0.5" fill="none"/>
<path d="M172 182.5L175.8 186.3M172 186.3L175.8 182.5" stroke="#222" stroke-width="0.5" fill="none"/>
<path d="M175.4 181.8L179.2 185.6M175.4 185.6L179.2 181.8" stroke="#222" stroke-width="0.5" fill="none"/>
<path d="M45.58 203.1L48.38 205.9M45.58 205.9L48.38 203.1" stroke="#262626" stroke-width="0.5" fill="none"/>
<path d="M45.65 202.82L48.45 205.62M45.65 205.62L48.45 202.82" stroke="#262626" stroke-width="0.5" fill="none"/>
<path d="M51.96 202.12L54.76 204.92M51.96 204.92L54.76 202.12" stroke="#262626" stroke-width="0.5" fill="none"/>
<path d="M52.85 202.44L55.65 205.24M52.85 205.24L55.65 202.44" stroke="#262626" stroke-width="0.5" fill="none"/>
<path d="M59.05 201.96L61.85 204.76M59.05 204.76L61.85 201.96" stroke="#262626" stroke-width="0.5" fill="none"/>
<path d="M60.17 200.8L62.97 203.6M60.17 203.6L62.97 200.8" stroke="#262626" stroke-width="0.5" fill="none"/>
<path d="M64.95 201.35L67.75 204.15M64.95 204.15L67.75 201.35" stroke="#262626" stroke-width="0.5" fill="none"/>
<path d="M68.92 200.77L71.72 203.57M68.92 203.57L71.72 200.77" stroke="#262626" stroke-width="0.5" fill="none"/>
<path d="M71.55 199.64L74.35 202.44M71.55 202.44L74.35 199.64" stroke="#262626" stroke-width="0.5" fill="none"/>
<path d="M75.58 200.29L78.38 203.09M75.58 203.09L78.38 200.29" stroke="#262626" stroke-width="0.5" fill="none"/>
<path d="M78.73 199.06L81.53 201.86M78.73 201.86L81.53 199.06" stroke="#262626" stroke-width="0.5" fill="none"/>
<path d="M81.43 199.52L84.23 202.32M81.43 202.32L84.23 199.52" stroke="#262626" stroke-width="0.5" fill="none"/>
<path d="M83.93 199.03L86.73 201.83M83.93 201.83L86.73 199.03" stroke="#262626" stroke-width="0.5" fill="none"/>
<path d="M89 198.22L91.8 201.02M89 201.02L91.8 198.22" stroke="#262626" stroke-width="0.5" fill="none"/>
<path d="M92.13 198L94.93 200.8M92.13 200.8L94.93 198" stroke="#262626" stroke-width="0.5" fill="none"/>
<path d="M96.15 198.14L98.95 200.94M96.15 200.94L98.95 198.14" stroke="#262626" stroke-width="0.5" fill="none"/>
<path d="M100.29 197.23L103.09 200.03M100.29 200.03L103.09 197.23" stroke="#262626" stroke-width="0.5" fill="none"/>
<path d="M102.47 197.64L105.27 200.44M102.47 200.44L105.27 197.64" stroke="#262626" stroke-width="0.5" fill="none"/>
<path d="M105.15 197.07L107.95 199.87M105.15 199.87L107.95 197.07" stroke="#262626" stroke-width="0.5" fill="none"/>
<path d="M110.02 196.37L112.82 199.17M110.02 199.17L112.82 196.37" stroke="#262626" stroke-width="0.5" fill="none"/>
<path d="M113.96 196.03L116.76 198.83M113.96 198.83L116.76 196.03" stroke="#262626" stroke-width="0.5" fill="none"/>
<path d="M115.08 196.11L117.88 198.91M115.08 198.91L117.88 196.11" stroke="#262626" stroke-width="0.5" fill="none"/>
<path d="M123.78 196.1L126.58 198.9M123.78 198.9L126.58 196.1" stroke="#262626" stroke-width="0.5" fill="none"/>
<path d="M124.83 195.31L127.63 198.11M124.83 198.11L127.63 195.31" stroke="#262626" stroke-width="0.5" fill="none"/>
<path d="M125.58 195.71L128.38 198.51M125.58 198.51L128.38 195.71" stroke="#262626" stroke-width="0.5" fill="none"/>
<path d="M125.83 195.57L128.63 198.37M125.83 198.37L128.63 195.57" stroke="#262626" stroke-width="0.5" fill="none"/>
<path d="M127.22 195.12L130.02 197.92M127.22 197.92L130.02 195.12" stroke="#262626" stroke-width="0.5" fill="none"/>
<path d="M127.34 194.87L130.14 197.67M127.34 197.67L130.14 194.87" stroke="#262626" stroke-width="0.5" fill="none"/>
<path d="M128.98 194.34L131.78 197.14M128.98 197.14L131.78 194.34" stroke="#262626" stroke-width="0.5" fill="none"/>
<path d="M128.99 195.03L131.79 197.83M128.99 197.83L131.79 195.03" stroke="#262626" stroke-width="0.5" fill="none"/>
<path d="M129.48 193.97L132.28 196.77M129.48 196.77L132.28 193.97" stroke="#262626" stroke-width="0.5" fill="none"/>
<path d="M131.08 194.57L133.88 197.37M131.08 197.37L133.88 194.57" stroke="#262626" stroke-width="0.5" fill="none"/>
<path d="M132.14 194.38L134.94 197.18M132.14 197.18L134.94 194.38" stroke="#262626" stroke-width="0.5" fill="none"/>
<path d="M132.01 194.26L134.81 197.06M132.01 197.06L134.81 194.26" stroke="#262626" stroke-width="0.5" fill="none"/>
<path d="M132.91 193.74L135.71 196.54M132.91 196.54L135.71 193.74" stroke="#262626" stroke-width="0.5" fill="none"/>
<path d="M133.73 193.28L136.53 196.08M133.73 196.08L136.53 193.28" stroke="#262626" stroke-width="0.5" fill="none"/>
<path d="M134.07 193.08L136.87 195.88M134.07 195.88L136.87 193.08" stroke="#262626" stroke-width="0.5" fill="none"/>
<path d="M135.71 192.71L138.51 195.51M135.71 195.51L138.51 192.71" stroke="#262626" stroke-width="0.5" fill="none"/>
<path d="M136.26 192.67L139.06 195.47M136.26 195.47L139.06 192.67" stroke="#262626" stroke-width="0.5" fill="none"/>
<path d="M137.43 192.58L140.23 195.38M137.43 195.38L140.23 192.58" stroke="#262626" stroke-width="0.5" fill="none"/>
<path d="M137.45 192.45L140.25 195.25M137.45 195.25L140.25 192.45" stroke="#262626" stroke-width="0.5" fill="none"/>
<path d="M138.53 192.13L141.33 194.93M138.53 194.93L141.33 192.13" stroke="#262626" stroke-width="0.5" fill="none"/>
<path d="M139.15 191.99L141.95 194.79M139.15 194.79L141.95 191.99" stroke="#262626" stroke-width="0.5" fill="none"/>
<path d="M140.46 191.45L143.26 194.25M140.46 194.25L143.26 191.45" stroke="#262626" stroke-width="0.5" fill="none"/>
<path d="M140.18 192.26L142.98 195.06M140.18 195.06L142.98 192.26" stroke="#262626" stroke-width="0.5" fill="none"/>
<path d="M141.64 192.02L144.44 194.82M141.64 194.82L144.44 192.02" stroke="#262626" stroke-width="0.5" fill="none"/>
<path d="M142.08 191.88L144.88 194.68M142.08 194.68L144.88 191.88" stroke="#262626" stroke-width="0.5" fill="none"/>
<path d="M143.01 191.42L145.81 194.22M143.01 194.22L145.81 191.42" stroke="#262626" stroke-width="0.5" fill="none"/>
<path d="M143.6 190.56L146.4 193.36M143.6 193.36L146.4 190.56" stroke="#262626" stroke-width="0.5" fill="none"/>
<path d="M145.15 190.94L147.95 193.74M145.15 193.74L147.95 190.94" stroke="#262626" stroke-width="0.5" fill="none"/>
<path d="M145.32 190.33L148.12 193.13M145.32 193.13L148.12 190.33" stroke="#262626" stroke-width="0.5" fill="none"/>
<path d="M146.55 190.94L149.35 193.74M146.55 193.74L149.35 190.94" stroke="#262626" stroke-width="0.5" fill="none"/>
<path d="M146.7 190.24L149.5 193.04M146.7 193.04L149.5 190.24" stroke="#262626" stroke-width="0.5" fill="none"/>
<path d="M148.08 189.79L150.88 192.59M148.08 192.59L150.88 189.79" stroke="#262626" stroke-width="0.5" fill="none"/>
<path d="M43.23 203.27L45.03 205.07L43.23 206.87L41.43 205.07Z" fill="#FFC000"/>
<path d="M44.15 202.83L45.95 204.63L44.15 206.43L42.35 204.63Z" fill="#FFC000"/>
<path d="M44.69 203.1L46.49 204.9L44.69 206.7L42.89 204.9Z" fill="#FFC000"/>
<path d="M45.42 203L47.22 204.8L45.42 206.6L43.62 204.8Z" fill="#FFC000"/>
<path d="M46.5 202.4L48.3 204.2L46.5 206L44.7 204.2Z" fill="#FFC000"/>
<path d="M47.84 202.95L49.64 204.75L47.84 206.55L46.04 204.75Z" fill="#FFC000"/>
<path d="M49.36 202.33L51.16 204.13L49.36 205.93L47.56 204.13Z" fill="#FFC000"/>
<path d="M49.36 202.47L51.16 204.27L49.36 206.07L47.56 204.27Z" fill="#FFC000"/>
<path d="M50.99 202.15L52.79 203.95L50.99 205.75L49.19 203.95Z" fill="#FFC000"/>
<path d="M51.82 202.39L53.62 204.19L51.82 205.99L50.02 204.19Z" fill="#FFC000"/>
<path d="M53.17 202.27L54.97 204.07L53.17 205.87L51.37 204.07Z" fill="#FFC000"/>
<path d="M53.66 201.96L55.46 203.76L53.66 205.56L51.86 203.76Z" fill="#FFC000"/>
<path d="M54.82 202.15L56.62 203.95L54.82 205.75L53.02 203.95Z" fill="#FFC000"/>
<path d="M55.48 201.74L57.28 203.54L55.48 205.34L53.68 203.54Z" fill="#FFC000"/>
<path d="M56.69 201.89L58.49 203.69L56.69 205.49L54.89 203.69Z" fill="#FFC000"/>
<path d="M57.62 202.08L59.42 203.88L57.62 205.68L55.82 203.88Z" fill="#FFC000"/>
<path d="M58.7 201.85L60.5 203.65L58.7 205.45L56.9 203.65Z" fill="#FFC000"/>
<path d="M60.11 201.25L61.91 203.05L60.11 204.85L58.31 203.05Z" fill="#FFC000"/>
<path d="M60.89 201.69L62.69 203.49L60.89 205.29L59.09 203.49Z" fill="#FFC000"/>
<path d="M61.92 201.19L63.72 202.99L61.92 204.79L60.12 202.99Z" fill="#FFC000"/>
<path d="M62.34 201.63L64.14 203.43L62.34 205.23L60.54 203.43Z" fill="#FFC000"/>
<path d="M64 201.09L65.8 202.89L64 204.69L62.2 202.89Z" fill="#FFC000"/>
<path d="M65.03 200.9L66.83 202.7L65.03 204.5L63.23 202.7Z" fill="#FFC000"/>
<path d="M66.15 200.71L67.95 202.51L66.15 204.31L64.35 202.51Z" fill="#FFC000"/>
<path d="M66.87 200.71L68.67 202.51L66.87 204.31L65.07 202.51Z" fill="#FFC000"/>
<path d="M67.49 200.63L69.29 202.43L67.49 204.23L65.69 202.43Z" fill="#FFC000"/>
<path d="M68.58 200.86L70.38 202.66L68.58 204.46L66.78 202.66Z" fill="#FFC000"/>
<path d="M69.3 200.55L71.1 202.35L69.3 204.15L67.5 202.35Z" fill="#FFC000"/>
<path d="M70.74 200.41L72.54 202.21L70.74 204.01L68.94 202.21Z" fill="#FFC000"/>
<path d="M71.6 200.52L73.4 202.32L71.6 204.12L69.8 202.32Z" fill="#FFC000"/>
<path d="M72.2 200.34L74 202.14L72.2 203.94L70.4 202.14Z" fill="#FFC000"/>
<path d="M73.8 200L75.6 201.8L73.8 203.6L72 201.8Z" fill="#FFC000"/>
<path d="M74.51 200.16L76.31 201.96L74.51 203.76L72.71 201.96Z" fill="#FFC000"/>
<path d="M75.44 200.44L77.24 202.24L75.44 204.04L73.64 202.24Z" fill="#FFC000"/>
<path d="M76.56 199.93L78.36 201.73L76.56 203.53L74.76 201.73Z" fill="#FFC000"/>
<path d="M77.76 200.28L79.56 202.08L77.76 203.88L75.96 202.08Z" fill="#FFC000"/>
<path d="M78.44 200.01L80.24 201.81L78.44 203.61L76.64 201.81Z" fill="#FFC000"/>
<path d="M79.23 200.05L81.03 201.85L79.23 203.65L77.43 201.85Z" fill="#FFC000"/>
<path d="M80.73 199.6L82.53 201.4L80.73 203.2L78.93 201.4Z" fill="#FFC000"/>
<path d="M81.94 199.31L83.74 201.11L81.94 202.91L80.14 201.11Z" fill="#FFC000"/>
<path d="M82.28 199.62L84.08 201.42L82.28 203.22L80.48 201.42Z" fill="#FFC000"/>
<path d="M83.8 199.45L85.6 201.25L83.8 203.05L82 201.25Z" fill="#FFC000"/>
<path d="M84.53 199.06L86.33 200.86L84.53 202.66L82.73 200.86Z" fill="#FFC000"/>
<path d="M85.46 199.53L87.26 201.33L85.46 203.13L83.66 201.33Z" fill="#FFC000"/>
<path d="M86.31 199.37L88.11 201.17L86.31 202.97L84.51 201.17Z" fill="#FFC000"/>
<path d="M87.86 198.74L89.66 200.54L87.86 202.34L86.06 200.54Z" fill="#FFC000"/>
<path d="M89.15 198.86L90.95 200.66L89.15 202.46L87.35 200.66Z" fill="#FFC000"/>
<path d="M89.41 198.75L91.21 200.55L89.41 202.35L87.61 200.55Z" fill="#FFC000"/>
<path d="M90.95 198.83L92.75 200.63L90.95 202.43L89.15 200.63Z" fill="#FFC000"/>
<path d="M91.42 198.35L93.22 200.15L91.42 201.95L89.62 200.15Z" fill="#FFC000"/>
<path d="M92.62 198.62L94.42 200.42L92.62 202.22L90.82 200.42Z" fill="#FFC000"/>
<path d="M93.18 198.21L94.98 200.01L93.18 201.81L91.38 200.01Z" fill="#FFC000"/>
<path d="M94.5 197.84L96.3 199.64L94.5 201.44L92.7 199.64Z" fill="#FFC000"/>
<path d="M95.42 198.28L97.22 200.08L95.42 201.88L93.62 200.08Z" fill="#FFC000"/>
<path d="M96.18 198.07L97.98 199.87L96.18 201.67L94.38 199.87Z" fill="#FFC000"/>
<path d="M97.27 197.48L99.07 199.28L97.27 201.08L95.47 199.28Z" fill="#FFC000"/>
<path d="M98.59 197.65L100.39 199.45L98.59 201.25L96.79 199.45Z" fill="#FFC000"/>
<path d="M99.29 197.51L101.09 199.31L99.29 201.11L97.49 199.31Z" fill="#FFC000"/>
<path d="M100.47 197.27L102.27 199.07L100.47 200.87L98.67 199.07Z" fill="#FFC000"/>
<path d="M101.22 197.25L103.02 199.05L101.22 200.85L99.42 199.05Z" fill="#FFC000"/>
<path d="M102.33 197.21L104.13 199.01L102.33 200.81L100.53 199.01Z" fill="#FFC000"/>
<path d="M103.64 196.64L105.44 198.44L103.64 200.24L101.84 198.44Z" fill="#FFC000"/>
<path d="M104.24 196.5L106.04 198.3L104.24 200.1L102.44 198.3Z" fill="#FFC000"/>
<path d="M105.19 196.59L106.99 198.39L105.19 200.19L103.39 198.39Z" fill="#FFC000"/>
<path d="M106.22 196.58L108.02 198.38L106.22 200.18L104.42 198.38Z" fill="#FFC000"/>
<path d="M107.15 196.59L108.95 198.39L107.15 200.19L105.35 198.39Z" fill="#FFC000"/>
<path d="M108.21 196.22L110.01 198.02L108.21 199.82L106.41 198.02Z" fill="#FFC000"/>
<path d="M109.45 195.84L111.25 197.64L109.45 199.44L107.65 197.64Z" fill="#FFC000"/>
<path d="M110.83 196.07L112.63 197.87L110.83 199.67L109.03 197.87Z" fill="#FFC000"/>
<path d="M111.47 196.12L113.27 197.92L111.47 199.72L109.67 197.92Z" fill="#FFC000"/>
<path d="M112.51 195.97L114.31 197.77L112.51 199.57L110.71 197.77Z" fill="#FFC000"/>
<path d="M113.17 195.88L114.97 197.68L113.17 199.48L111.37 197.68Z" fill="#FFC000"/>
<path d="M113.91 195.64L115.71 197.44L113.91 199.24L112.11 197.44Z" fill="#FFC000"/>
<path d="M115.19 195.17L116.99 196.97L115.19 198.77L113.39 196.97Z" fill="#FFC000"/>
<path d="M116.4 195.13L118.2 196.93L116.4 198.73L114.6 196.93Z" fill="#FFC000"/>
<path d="M117.49 194.83L119.29 196.63L117.49 198.43L115.69 196.63Z" fill="#FFC000"/>
<path d="M118.2 194.58L120 196.38L118.2 198.18L116.4 196.38Z" fill="#FFC000"/>
<path d="M118.87 195.12L120.67 196.92L118.87 198.72L117.07 196.92Z" fill="#FFC000"/>
<path d="M120.55 194.4L122.35 196.2L120.55 198L118.75 196.2Z" fill="#FFC000"/>
<path d="M121.31 194.52L123.11 196.32L121.31 198.12L119.51 196.32Z" fill="#FFC000"/>
<path d="M122.28 194.65L124.08 196.45L122.28 198.25L120.48 196.45Z" fill="#FFC000"/>
<path d="M123.29 194.53L125.09 196.33L123.29 198.13L121.49 196.33Z" fill="#FFC000"/>
<path d="M124.09 194.27L125.89 196.07L124.09 197.87L122.29 196.07Z" fill="#FFC000"/>
<path d="M125.23 193.86L127.03 195.66L125.23 197.46L123.43 195.66Z" fill="#FFC000"/>
<path d="M126.6 193.74L128.4 195.54L126.6 197.34L124.8 195.54Z" fill="#FFC000"/>
<path d="M127.36 193.51L129.16 195.31L127.36 197.11L125.56 195.31Z" fill="#FFC000"/>
<path d="M128.18 193.83L129.98 195.63L128.18 197.43L126.38 195.63Z" fill="#FFC000"/>
<path d="M129.01 193.87L130.81 195.67L129.01 197.47L127.21 195.67Z" fill="#FFC000"/>
<path d="M130.23 193.03L132.03 194.83L130.23 196.63L128.43 194.83Z" fill="#FFC000"/>
<path d="M130.48 192.75L132.28 194.55L130.48 196.35L128.68 194.55Z" fill="#FFC000"/>
<path d="M131.83 192.22L133.63 194.02L131.83 195.82L130.03 194.02Z" fill="#FFC000"/>
<path d="M132.44 191.04L134.24 192.84L132.44 194.64L130.64 192.84Z" fill="#FFC000"/>
<path d="M132.87 190.24L134.67 192.04L132.87 193.84L131.07 192.04Z" fill="#FFC000"/>
<path d="M133.37 189.89L135.17 191.69L133.37 193.49L131.57 191.69Z" fill="#FFC000"/>
<path d="M134.36 189.66L136.16 191.46L134.36 193.26L132.56 191.46Z" fill="#FFC000"/>
<path d="M135.26 189.15L137.06 190.95L135.26 192.75L133.46 190.95Z" fill="#FFC000"/>
<path d="M136.23 188.58L138.03 190.38L136.23 192.18L134.43 190.38Z" fill="#FFC000"/>
<path d="M136.81 188.41L138.61 190.21L136.81 192.01L135.01 190.21Z" fill="#FFC000"/>
<path d="M138.49 187.55L140.29 189.35L138.49 191.15L136.69 189.35Z" fill="#FFC000"/>
<path d="M138.64 187.5L140.44 189.3L138.64 191.1L136.84 189.3Z" fill="#FFC000"/>
<path d="M139.89 186.95L141.69 188.75L139.89 190.55L138.09 188.75Z" fill="#FFC000"/>
<path d="M140.93 186.61L142.73 188.41L140.93 190.21L139.13 188.41Z" fill="#FFC000"/>
<path d="M141.67 185.76L143.47 187.56L141.67 189.36L139.87 187.56Z" fill="#FFC000"/>
<path d="M142.57 185.35L144.37 187.15L142.57 188.95L140.77 187.15Z" fill="#FFC000"/>
<path d="M143.28 184.92L145.08 186.72L143.28 188.52L141.48 186.72Z" fill="#FFC000"/>
<path d="M144.56 184.34L146.36 186.14L144.56 187.94L142.76 186.14Z" fill="#FFC000"/>
<path d="M145.04 184.22L146.84 186.02L145.04 187.82L143.24 186.02Z" fill="#FFC000"/>
<path d="M146.26 183.26L148.06 185.06L146.26 186.86L144.46 185.06Z" fill="#FFC000"/>
<path d="M146.67 182.78L148.47 184.58L146.67 186.38L144.87 184.58Z" fill="#FFC000"/>
<path d="M148.1 182.47L149.9 184.27L148.1 186.07L146.3 184.27Z" fill="#FFC000"/>
<path d="M148.38 182.34L150.18 184.14L148.38 185.94L146.58 184.14Z" fill="#FFC000"/>
<path d="M149.49 181.4L151.29 183.2L149.49 185L147.69 183.2Z" fill="#FFC000"/>
<path d="M149.92 180.82L151.72 182.62L149.92 184.42L148.12 182.62Z" fill="#FFC000"/>
<path d="M150.73 180.73L152.53 182.53L150.73 184.33L148.93 182.53Z" fill="#FFC000"/>
<path d="M152.22 179.89L154.02 181.69L152.22 183.49L150.42 181.69Z" fill="#FFC000"/>
<path d="M152.65 179.35L154.45 181.15L152.65 182.95L150.85 181.15Z" fill="#FFC000"/>
<path d="M153.85 178.5L155.65 180.3L153.85 182.1L152.05 180.3Z" fill="#FFC000"/>
<path d="M154.79 178.02L156.59 179.82L154.79 181.62L152.99 179.82Z" fill="#FFC000"/>
<path d="M155.44 177.46L157.24 179.26L155.44 181.06L153.64 179.26Z" fill="#FFC000"/>
<path d="M156.15 177.69L157.95 179.49L156.15 181.29L154.35 179.49Z" fill="#FFC000"/>
<path d="M157.2 176.94L159 178.74L157.2 180.54L155.4 178.74Z" fill="#FFC000"/>
<path d="M157.73 176.62L159.53 178.42L157.73 180.22L155.93 178.42Z" fill="#FFC000"/>
<path d="M158.99 175.83L160.79 177.63L158.99 179.43L157.19 177.63Z" fill="#FFC000"/>
<path d="M160 175.31L161.8 177.11L160 178.91L158.2 177.11Z" fill="#FFC000"/>
<path d="M160.82 174.64L162.62 176.44L160.82 178.24L159.02 176.44Z" fill="#FFC000"/>
<path d="M161.59 174.04L163.39 175.84L161.59 177.64L159.79 175.84Z" fill="#FFC000"/>
<path d="M162.12 173.58L163.92 175.38L162.12 177.18L160.32 175.38Z" fill="#FFC000"/>
<path d="M163.27 172.76L165.07 174.56L163.27 176.36L161.47 174.56Z" fill="#FFC000"/>
<path d="M163.89 172.8L165.69 174.6L163.89 176.4L162.09 174.6Z" fill="#FFC000"/>
<path d="M164.42 172.08L166.22 173.88L164.42 175.68L162.62 173.88Z" fill="#FFC000"/>
<path d="M166.02 172.06L167.82 173.86L166.02 175.66L164.22 173.86Z" fill="#FFC000"/>
<path d="M166.76 171.64L168.56 173.44L166.76 175.24L164.96 173.44Z" fill="#FFC000"/>
<path d="M167.72 171.56L169.52 173.36L167.72 175.16L165.92 173.36Z" fill="#FFC000"/>
<path d="M168.76 171.13L170.56 172.93L168.76 174.73L166.96 172.93Z" fill="#FFC000"/>
<path d="M170.07 170.25L171.87 172.05L170.07 173.85L168.27 172.05Z" fill="#FFC000"/>
<path d="M170.14 170.06L171.94 171.86L170.14 173.66L168.34 171.86Z" fill="#FFC000"/>
<path d="M171.85 169.98L173.65 171.78L171.85 173.58L170.05 171.78Z" fill="#FFC000"/>
<path d="M172.7 169.41L174.5 171.21L172.7 173.01L170.9 171.21Z" fill="#FFC000"/>
<path d="M172.88 169.6L174.68 171.4L172.88 173.2L171.08 171.4Z" fill="#FFC000"/>
<path d="M173.99 169L175.79 170.8L173.99 172.6L172.19 170.8Z" fill="#FFC000"/>
<path d="M174.77 168.62L176.57 170.42L174.77 172.22L172.97 170.42Z" fill="#FFC000"/>
<path d="M176.28 168.14L178.08 169.94L176.28 171.74L174.48 169.94Z" fill="#FFC000"/>
<path d="M177.48 168.17L179.28 169.97L177.48 171.77L175.68 169.97Z" fill="#FFC000"/>
<path d="M177.98 167.66L179.78 169.46L177.98 171.26L176.18 169.46Z" fill="#FFC000"/>
<path d="M179.1 167.38L180.9 169.18L179.1 170.98L177.3 169.18Z" fill="#FFC000"/>
<path d="M180.17 166.94L181.97 168.74L180.17 170.54L178.37 168.74Z" fill="#FFC000"/>
<path d="M181.07 167.05L182.87 168.85L181.07 170.65L179.27 168.85Z" fill="#FFC000"/>
<path d="M181.46 166.49L183.26 168.29L181.46 170.09L179.66 168.29Z" fill="#FFC000"/>
<path d="M183.26 165.94L185.06 167.74L183.26 169.54L181.46 167.74Z" fill="#FFC000"/>
<path d="M183.82 166.28L185.62 168.08L183.82 169.88L182.02 168.08Z" fill="#FFC000"/>
<rect x="41.15" y="223.87" width="3" height="3" stroke="#1a1a1a" stroke-width="0.8" fill="none"/>
<rect x="42.61" y="224.27" width="3" height="3" stroke="#1a1a1a" stroke-width="0.8" fill="none"/>
<rect x="43.17" y="224.04" width="3" height="3" stroke="#1a1a1a" stroke-width="0.8" fill="none"/>
<rect x="44.33" y="223.93" width="3" height="3" stroke="#1a1a1a" stroke-width="0.8" fill="none"/>
<rect x="45.28" y="223.94" width="3" height="3" stroke="#1a1a1a" stroke-width="0.8" fill="none"/>
<rect x="46.82" y="223.58" width="3" height="3" stroke="#1a1a1a" stroke-width="0.8" fill="none"/>
<rect x="47.44" y="223.97" width="3" height="3" stroke="#1a1a1a" stroke-width="0.8" fill="none"/>
<rect x="48.41" y="223.24" width="3" height="3" stroke="#1a1a1a" stroke-width="0.8" fill="none"/>
<rect x="49.28" y="223.88" width="3" height="3" stroke="#1a1a1a" stroke-width="0.8" fill="none"/>
<rect x="50.59" y="223.8" width="3" height="3" stroke="#1a1a1a" stroke-width="0.8" fill="none"/>
<rect x="51.43" y="223.47" width="3" height="3" stroke="#1a1a1a" stroke-width="0.8" fill="none"/>
<rect x="53" y="223.49" width="3" height="3" stroke="#1a1a1a" stroke-width="0.8" fill="none"/>
<rect x="53.52" y="223.06" width="3" height="3" stroke="#1a1a1a" stroke-width="0.8" fill="none"/>
<rect x="55.09" y="223.45" width="3" height="3" stroke="#1a1a1a" stroke-width="0.8" fill="none"/>
<rect x="55.47" y="223.45" width="3" height="3" stroke="#1a1a1a" stroke-width="0.8" fill="none"/>
<rect x="56.71" y="223.13" width="3" height="3" stroke="#1a1a1a" stroke-width="0.8" fill="none"/>
<rect x="58.03" y="222.85" width="3" height="3" stroke="#1a1a1a" stroke-width="0.8" fill="none"/>
<rect x="58.76" y="223.34" width="3" height="3" stroke="#1a1a1a" stroke-width="0.8" fill="none"/>
<rect x="59.45" y="222.82" width="3" height="3" stroke="#1a1a1a" stroke-width="0.8" fill="none"/>
<rect x="60.76" y="222.69" width="3" height="3" stroke="#1a1a1a" stroke-width="0.8" fill="none"/>
<rect x="61.66" y="223.28" width="3" height="3" stroke="#1a1a1a" stroke-width="0.8" fill="none"/>
<rect x="62.98" y="223.2" width="3" height="3" stroke="#1a1a1a" stroke-width="0.8" fill="none"/>
<rect x="63.6" y="223.19" width="3" height="3" stroke="#1a1a1a" stroke-width="0.8" fill="none"/>
<rect x="65.33" y="222.67" width="3" height="3" stroke="#1a1a1a" stroke-width="0.8" fill="none"/>
<rect x="65.83" y="222.38" width="3" height="3" stroke="#1a1a1a" stroke-width="0.8" fill="none"/>
<rect x="66.76" y="222.27" width="3" height="3" stroke="#1a1a1a" stroke-width="0.8" fill="none"/>
<rect x="68.11" y="222.73" width="3" height="3" stroke="#1a1a1a" stroke-width="0.8" fill="none"/>
<rect x="69.15" y="222.49" width="3" height="3" stroke="#1a1a1a" stroke-width="0.8" fill="none"/>
<rect x="69.87" y="222.4" width="3" height="3" stroke="#1a1a1a" stroke-width="0.8" fill="none"/>
<rect x="71.51" y="222.34" width="3" height="3" stroke="#1a1a1a" stroke-width="0.8" fill="none"/>
<rect x="72.34" y="222.29" width="3" height="3" stroke="#1a1a1a" stroke-width="0.8" fill="none"/>
<rect x="73.07" y="222.62" width="3" height="3" stroke="#1a1a1a" stroke-width="0.8" fill="none"/>
<rect x="74.53" y="222.52" width="3" height="3" stroke="#1a1a1a" stroke-width="0.8" fill="none"/>
<rect x="75.46" y="222.15" width="3" height="3" stroke="#1a1a1a" stroke-width="0.8" fill="none"/>
<rect x="76.18" y="221.83" width="3" height="3" stroke="#1a1a1a" stroke-width="0.8" fill="none"/>
<rect x="77.35" y="222.26" width="3" height="3" stroke="#1a1a1a" stroke-width="0.8" fill="none"/>
<rect x="78.34" y="221.96" width="3" height="3" stroke="#1a1a1a" stroke-width="0.8" fill="none"/>
<rect x="79.37" y="221.91" width="3" height="3" stroke="#1a1a1a" stroke-width="0.8" fill="none"/>
<rect x="80.7" y="221.66" width="3" height="3" stroke="#1a1a1a" stroke-width="0.8" fill="none"/>
<rect x="81.65" y="221.77" width="3" height="3" stroke="#1a1a1a" stroke-width="0.8" fill="none"/>
<rect x="82.61" y="221.45" width="3" height="3" stroke="#1a1a1a" stroke-width="0.8" fill="none"/>
<rect x="83.36" y="221.98" width="3" height="3" stroke="#1a1a1a" stroke-width="0.8" fill="none"/>
<rect x="84.85" y="221.37" width="3" height="3" stroke="#1a1a1a" stroke-width="0.8" fill="none"/>
<rect x="85.59" y="221.82" width="3" height="3" stroke="#1a1a1a" stroke-width="0.8" fill="none"/>
<rect x="86.6" y="221.86" width="3" height="3" stroke="#1a1a1a" stroke-width="0.8" fill="none"/>
<rect x="87.54" y="221.84" width="3" height="3" stroke="#1a1a1a" stroke-width="0.8" fill="none"/>
<rect x="88.41" y="221.31" width="3" height="3" stroke="#1a1a1a" stroke-width="0.8" fill="none"/>
<rect x="89.66" y="221.62" width="3" height="3" stroke="#1a1a1a" stroke-width="0.8" fill="none"/>
<rect x="90.32" y="220.98" width="3" height="3" stroke="#1a1a1a" stroke-width="0.8" fill="none"/>
<rect x="91.36" y="220.97" width="3" height="3" stroke="#1a1a1a" stroke-width="0.8" fill="none"/>
<rect x="92.67" y="220.8" width="3" height="3" stroke="#1a1a1a" stroke-width="0.8" fill="none"/>
<rect x="93.38" y="221.02" width="3" height="3" stroke="#1a1a1a" stroke-width="0.8" fill="none"/>
<rect x="95.07" y="220.42" width="3" height="3" stroke="#1a1a1a" stroke-width="0.8" fill="none"/>
<rect x="95.92" y="220.32" width="3" height="3" stroke="#1a1a1a" stroke-width="0.8" fill="none"/>
<rect x="96.55" y="220.74" width="3" height="3" stroke="#1a1a1a" stroke-width="0.8" fill="none"/>
<rect x="97.86" y="220.39" width="3" height="3" stroke="#1a1a1a" stroke-width="0.8" fill="none"/>
<rect x="98.75" y="220.14" width="3" height="3" stroke="#1a1a1a" stroke-width="0.8" fill="none"/>
<rect x="100.05" y="220.36" width="3" height="3" stroke="#1a1a1a" stroke-width="0.8" fill="none"/>
<rect x="100.72" y="220.05" width="3" height="3" stroke="#1a1a1a" stroke-width="0.8" fill="none"/>
<rect x="101.67" y="219.81" width="3" height="3" stroke="#1a1a1a" stroke-width="0.8" fill="none"/>
<rect x="103.06" y="219.65" width="3" height="3" stroke="#1a1a1a" stroke-width="0.8" fill="none"/>
<rect x="103.66" y="219.44" width="3" height="3" stroke="#1a1a1a" stroke-width="0.8" fill="none"/>
<rect x="104.59" y="219.42" width="3" height="3" stroke="#1a1a1a" stroke-width="0.8" fill="none"/>
<rect x="106.38" y="219.37" width="3" height="3" stroke="#1a1a1a" stroke-width="0.8" fill="none"/>
<rect x="108.39" y="219.32" width="3" height="3" stroke="#1a1a1a" stroke-width="0.8" fill="none"/>
<rect x="110.06" y="219.31" width="3" height="3" stroke="#1a1a1a" stroke-width="0.8" fill="none"/>
<rect x="111.26" y="219.22" width="3" height="3" stroke="#1a1a1a" stroke-width="0.8" fill="none"/>
<rect x="113.58" y="218.88" width="3" height="3" stroke="#1a1a1a" stroke-width="0.8" fill="none"/>
<rect x="114.97" y="218.07" width="3" height="3" stroke="#1a1a1a" stroke-width="0.8" fill="none"/>
<rect x="117.28" y="218.04" width="3" height="3" stroke="#1a1a1a" stroke-width="0.8" fill="none"/>
<rect x="117.6" y="217.97" width="3" height="3" stroke="#1a1a1a" stroke-width="0.8" fill="none"/>
<rect x="120.2" y="217.64" width="3" height="3" stroke="#1a1a1a" stroke-width="0.8" fill="none"/>
<rect x="122.19" y="217.46" width="3" height="3" stroke="#1a1a1a" stroke-width="0.8" fill="none"/>
<rect x="123.73" y="217.78" width="3" height="3" stroke="#1a1a1a" stroke-width="0.8" fill="none"/>
<rect x="125.19" y="217.64" width="3" height="3" stroke="#1a1a1a" stroke-width="0.8" fill="none"/>
<rect x="126.78" y="217.36" width="3" height="3" stroke="#1a1a1a" stroke-width="0.8" fill="none"/>
<rect x="128.23" y="217.03" width="3" height="3" stroke="#1a1a1a" stroke-width="0.8" fill="none"/>
<rect x="130.26" y="216.66" width="3" height="3" stroke="#1a1a1a" stroke-width="0.8" fill="none"/>
<rect x="130.88" y="216.76" width="3" height="3" stroke="#1a1a1a" stroke-width="0.8" fill="none"/>
<rect x="132.42" y="216.33" width="3" height="3" stroke="#1a1a1a" stroke-width="0.8" fill="none"/>
<rect x="134.64" y="216.41" width="3" height="3" stroke="#1a1a1a" stroke-width="0.8" fill="none"/>
<rect x="136.56" y="216.43" width="3" height="3" stroke="#1a1a1a" stroke-width="0.8" fill="none"/>
<rect x="137.91" y="216.17" width="3" height="3" stroke="#1a1a1a" stroke-width="0.8" fill="none"/>
<rect x="139.96" y="215.74" width="3" height="3" stroke="#1a1a1a" stroke-width="0.8" fill="none"/>
<rect x="141.63" y="215.72" width="3" height="3" stroke="#1a1a1a" stroke-width="0.8" fill="none"/>
<rect x="142.83" y="215.57" width="3" height="3" stroke="#1a1a1a" stroke-width="0.8" fill="none"/>
<rect x="144.89" y="215.17" width="3" height="3" stroke="#1a1a1a" stroke-width="0.8" fill="none"/>
<rect x="146.75" y="215.07" width="3" height="3" stroke="#1a1a1a" stroke-width="0.8" fill="none"/>
<rect x="148.09" y="215.1" width="3" height="3" stroke="#1a1a1a" stroke-width="0.8" fill="none"/>
<rect x="149.49" y="215.06" width="3" height="3" stroke="#1a1a1a" stroke-width="0.8" fill="none"/>
<rect x="150.84" y="214.64" width="3" height="3" stroke="#1a1a1a" stroke-width="0.8" fill="none"/>
<rect x="152.9" y="214.31" width="3" height="3" stroke="#1a1a1a" stroke-width="0.8" fill="none"/>
<rect x="154.22" y="214.49" width="3" height="3" stroke="#1a1a1a" stroke-width="0.8" fill="none"/>
<rect x="155.8" y="213.97" width="3" height="3" stroke="#1a1a1a" stroke-width="0.8" fill="none"/>
<rect x="157.49" y="213.83" width="3" height="3" stroke="#1a1a1a" stroke-width="0.8" fill="none"/>
<rect x="159.89" y="213.79" width="3" height="3" stroke="#1a1a1a" stroke-width="0.8" fill="none"/>
<rect x="160.55" y="213.3" width="3" height="3" stroke="#1a1a1a" stroke-width="0.8" fill="none"/>
<rect x="162.65" y="213.46" width="3" height="3" stroke="#1a1a1a" stroke-width="0.8" fill="none"/>
<rect x="163.61" y="213.43" width="3" height="3" stroke="#1a1a1a" stroke-width="0.8" fill="none"/>
<rect x="165.63" y="212.69" width="3" height="3" stroke="#1a1a1a" stroke-width="0.8" fill="none"/>
<rect x="166.62" y="213.08" width="3" height="3" stroke="#1a1a1a" stroke-width="0.8" fill="none"/>
<rect x="169.23" y="212.68" width="3" height="3" stroke="#1a1a1a" stroke-width="0.8" fill="none"/>
<rect x="171.25" y="212.3" width="3" height="3" stroke="#1a1a1a" stroke-width="0.8" fill="none"/>
<rect x="172.54" y="212.14" width="3" height="3" stroke="#1a1a1a" stroke-width="0.8" fill="none"/>
<rect x="174.06" y="211.99" width="3" height="3" stroke="#1a1a1a" stroke-width="0.8" fill="none"/>
<rect x="175.62" y="211.38" width="3" height="3" stroke="#1a1a1a" stroke-width="0.8" fill="none"/>
<rect x="176.61" y="211.77" width="3" height="3" stroke="#1a1a1a" stroke-width="0.8" fill="none"/>
<rect x="179.45" y="211.13" width="3" height="3" stroke="#1a1a1a" stroke-width="0.8" fill="none"/>
<rect x="181.02" y="211.11" width="3" height="3" stroke="#1a1a1a" stroke-width="0.8" fill="none"/>
<rect x="181.72" y="210.89" width="3" height="3" stroke="#1a1a1a" stroke-width="0.8" fill="none"/>
<rect x="47.5" y="141.2" width="44.3" height="49" fill="#fff" stroke="#222" stroke-width="0.5"/>
<path d="M50.15 146.2H53.65M51.9 144.45V147.95" stroke="#111" stroke-width="0.8" fill="none"/>
<text class="lg" transform="translate(54.3 148.8) scale(0.78 1)" font-size="7.5" fill="#151515">OMDPSO</text>
<ellipse cx="51.9" cy="155.9" rx="1.57" ry="1.33" stroke="#FF0000" stroke-width="0.7" fill="none"/>
<text class="lg" transform="translate(54.3 158.5) scale(0.78 1)" font-size="7.5" fill="#151515">OMDPSO+</text>
<path d="M50.3 164.1L53.5 167.3M50.3 167.3L53.5 164.1" stroke="#222" stroke-width="0.6" fill="none"/>
<text class="lg" transform="translate(54.3 168.3) scale(0.78 1)" font-size="7.5" fill="#151515">MMDPSO</text>
<path d="M51.9 173.8L53.6 175.5L51.9 177.2L50.2 175.5Z" fill="#FFC000"/>
<text class="lg" transform="translate(54.3 178.1) scale(0.78 1)" font-size="7.5" fill="#151515">MMDPSO+</text>
<rect x="50.55" y="183.95" width="2.7" height="2.7" stroke="#1a1a1a" stroke-width="0.65" fill="none"/>
<text class="lg" transform="translate(54.3 187.9) scale(0.765 1)" font-size="7.5" fill="#151515">Best-known PF</text></g>
<g><path d="M220.7 143.4H362.5" stroke="#e8e8e8" stroke-width="0.5"/>
<path d="M220.7 152.65H362.5" stroke="#e8e8e8" stroke-width="0.5"/>
<path d="M220.7 161.9H362.5" stroke="#e8e8e8" stroke-width="0.5"/>
<path d="M220.7 171.15H362.5" stroke="#e8e8e8" stroke-width="0.5"/>
<path d="M220.7 180.4H362.5" stroke="#e8e8e8" stroke-width="0.5"/>
<path d="M220.7 189.65H362.5" stroke="#e8e8e8" stroke-width="0.5"/>
<path d="M220.7 198.9H362.5" stroke="#e8e8e8" stroke-width="0.5"/>
<path d="M220.7 208.15H362.5" stroke="#e8e8e8" stroke-width="0.5"/>
<path d="M220.7 217.4H362.5" stroke="#e8e8e8" stroke-width="0.5"/>
<path d="M220.7 226.65H362.5" stroke="#e8e8e8" stroke-width="0.5"/>
<path d="M220.7 235.9H362.5" stroke="#e8e8e8" stroke-width="0.5"/>
<path d="M244.33 143.4V235.9" stroke="#e8e8e8" stroke-width="0.5"/>
<path d="M267.97 143.4V235.9" stroke="#e8e8e8" stroke-width="0.5"/>
<path d="M291.6 143.4V235.9" stroke="#e8e8e8" stroke-width="0.5"/>
<path d="M315.23 143.4V235.9" stroke="#e8e8e8" stroke-width="0.5"/>
<path d="M338.87 143.4V235.9" stroke="#e8e8e8" stroke-width="0.5"/>
<path d="M362.5 143.4V235.9" stroke="#e8e8e8" stroke-width="0.5"/>
<path d="M220.7 143.4V235.9H362.5" stroke="#505050" stroke-width="0.5" fill="none"/>
<path d="M220.7 143.4h1.7M220.7 145.25h1.5M220.7 147.1h1.5M220.7 148.95h1.5M220.7 150.8h1.5M220.7 152.65h1.7M220.7 154.5h1.5M220.7 156.35h1.5M220.7 158.2h1.5M220.7 160.05h1.5M220.7 161.9h1.7M220.7 163.75h1.5M220.7 165.6h1.5M220.7 167.45h1.5M220.7 169.3h1.5M220.7 171.15h1.7M220.7 173h1.5M220.7 174.85h1.5M220.7 176.7h1.5M220.7 178.55h1.5M220.7 180.4h1.7M220.7 182.25h1.5M220.7 184.1h1.5M220.7 185.95h1.5M220.7 187.8h1.5M220.7 189.65h1.7M220.7 191.5h1.5M220.7 193.35h1.5M220.7 195.2h1.5M220.7 197.05h1.5M220.7 198.9h1.7M220.7 200.75h1.5M220.7 202.6h1.5M220.7 204.45h1.5M220.7 206.3h1.5M220.7 208.15h1.7M220.7 210h1.5M220.7 211.85h1.5M220.7 213.7h1.5M220.7 215.55h1.5M220.7 217.4h1.7M220.7 219.25h1.5M220.7 221.1h1.5M220.7 222.95h1.5M220.7 224.8h1.5M220.7 226.65h1.7M220.7 228.5h1.5M220.7 230.35h1.5M220.7 232.2h1.5M220.7 234.05h1.5M220.7 235.9h1.7M220.7 235.9v-1.7M225.43 235.9v-1.5M230.15 235.9v-1.5M234.88 235.9v-1.5M239.61 235.9v-1.5M244.33 235.9v-1.7M249.06 235.9v-1.5M253.79 235.9v-1.5M258.51 235.9v-1.5M263.24 235.9v-1.5M267.97 235.9v-1.7M272.69 235.9v-1.5M277.42 235.9v-1.5M282.15 235.9v-1.5M286.87 235.9v-1.5M291.6 235.9v-1.7M296.33 235.9v-1.5M301.05 235.9v-1.5M305.78 235.9v-1.5M310.51 235.9v-1.5M315.23 235.9v-1.7M319.96 235.9v-1.5M324.69 235.9v-1.5M329.41 235.9v-1.5M334.14 235.9v-1.5M338.87 235.9v-1.7M343.59 235.9v-1.5M348.32 235.9v-1.5M353.05 235.9v-1.5M357.77 235.9v-1.5M362.5 235.9v-1.7" stroke="#505050" stroke-width="0.4" fill="none"/>
<text class="tk" transform="translate(215.7 145.5) scale(0.885 1)" font-size="7.4" text-anchor="end" fill="#595959">22.0</text>
<text class="tk" transform="translate(215.7 154.75) scale(0.885 1)" font-size="7.4" text-anchor="end" fill="#595959">20.0</text>
<text class="tk" transform="translate(215.7 164) scale(0.885 1)" font-size="7.4" text-anchor="end" fill="#595959">18.0</text>
<text class="tk" transform="translate(215.7 173.25) scale(0.885 1)" font-size="7.4" text-anchor="end" fill="#595959">16.0</text>
<text class="tk" transform="translate(215.7 182.5) scale(0.885 1)" font-size="7.4" text-anchor="end" fill="#595959">14.0</text>
<text class="tk" transform="translate(215.7 191.75) scale(0.885 1)" font-size="7.4" text-anchor="end" fill="#595959">12.0</text>
<text class="tk" transform="translate(215.7 201) scale(0.885 1)" font-size="7.4" text-anchor="end" fill="#595959">10.0</text>
<text class="tk" transform="translate(215.7 210.25) scale(0.885 1)" font-size="7.4" text-anchor="end" fill="#595959">8.0</text>
<text class="tk" transform="translate(215.7 219.5) scale(0.885 1)" font-size="7.4" text-anchor="end" fill="#595959">6.0</text>
<text class="tk" transform="translate(215.7 228.75) scale(0.885 1)" font-size="7.4" text-anchor="end" fill="#595959">4.0</text>
<text class="tk" transform="translate(215.7 238) scale(0.885 1)" font-size="7.4" text-anchor="end" fill="#595959">2.0</text>
<text class="tk" transform="translate(220.7 245.6) scale(0.885 1)" font-size="7.4" text-anchor="middle" fill="#595959">0.79</text>
<text class="tk" transform="translate(244.33 245.6) scale(0.885 1)" font-size="7.4" text-anchor="middle" fill="#595959">0.805</text>
<text class="tk" transform="translate(267.97 245.6) scale(0.885 1)" font-size="7.4" text-anchor="middle" fill="#595959">0.82</text>
<text class="tk" transform="translate(291.6 245.6) scale(0.885 1)" font-size="7.4" text-anchor="middle" fill="#595959">0.835</text>
<text class="tk" transform="translate(315.23 245.6) scale(0.885 1)" font-size="7.4" text-anchor="middle" fill="#595959">0.85</text>
<text class="tk" transform="translate(338.87 245.6) scale(0.885 1)" font-size="7.4" text-anchor="middle" fill="#595959">0.865</text>
<text class="tk" transform="translate(362.5 245.6) scale(0.885 1)" font-size="7.4" text-anchor="middle" fill="#595959">0.88</text>
<text class="ti" transform="translate(291.3 257.1) scale(0.92 1)" font-size="7.9" text-anchor="middle" fill="#5e5e5e">Network Resilience</text>
<text class="ti" transform="translate(201.8 190.35) rotate(-90) scale(0.92 1)" font-size="7.9" text-anchor="middle" fill="#5e5e5e">Cost in millions  (€)</text>
<path d="M235.65 218.9H239.35M237.5 217.05V220.75" stroke="#262626" stroke-width="0.6" fill="none"/>
<path d="M237.35 219.1H241.05M239.2 217.25V220.95" stroke="#262626" stroke-width="0.6" fill="none"/>
<path d="M239.15 218.8H242.85M241 216.95V220.65" stroke="#262626" stroke-width="0.6" fill="none"/>
<path d="M268.75 215.9H272.45M270.6 214.05V217.75" stroke="#262626" stroke-width="0.6" fill="none"/>
<path d="M293.75 209.5H297.45M295.6 207.65V211.35" stroke="#262626" stroke-width="0.6" fill="none"/>
<path d="M303.35 208.2H307.05M305.2 206.35V210.05" stroke="#262626" stroke-width="0.6" fill="none"/>
<path d="M304.15 204.9H307.85M306 203.05V206.75" stroke="#262626" stroke-width="0.6" fill="none"/>
<path d="M308.95 207H312.65M310.8 205.15V208.85" stroke="#262626" stroke-width="0.6" fill="none"/>
<path d="M321.65 199.4H325.35M323.5 197.55V201.25" stroke="#262626" stroke-width="0.6" fill="none"/>
<path d="M334.65 189H338.35M336.5 187.15V190.85" stroke="#262626" stroke-width="0.6" fill="none"/>
<path d="M337.95 183.5H341.65M339.8 181.65V185.35" stroke="#262626" stroke-width="0.6" fill="none"/>
<path d="M350.15 179.5H353.85M352 177.65V181.35" stroke="#262626" stroke-width="0.6" fill="none"/>
<path d="M277.69 212.11H281.39M279.54 210.26V213.96" stroke="#262626" stroke-width="0.6" fill="none"/>
<path d="M280.9 211.82H284.6M282.75 209.97V213.67" stroke="#262626" stroke-width="0.6" fill="none"/>
<path d="M281.64 212.03H285.34M283.49 210.18V213.88" stroke="#262626" stroke-width="0.6" fill="none"/>
<path d="M285.87 211.46H289.57M287.72 209.61V213.31" stroke="#262626" stroke-width="0.6" fill="none"/>
<path d="M286.66 211.53H290.36M288.51 209.68V213.38" stroke="#262626" stroke-width="0.6" fill="none"/>
<path d="M252.11 216.63H255.81M253.96 214.78V218.48" stroke="#262626" stroke-width="0.6" fill="none"/>
<path d="M255.71 216.03H259.41M257.56 214.18V217.88" stroke="#262626" stroke-width="0.6" fill="none"/>
<path d="M262.15 213.4H265.85M264 211.55V215.25" stroke="#262626" stroke-width="0.6" fill="none"/>
<path d="M269 211.84H272.7M270.85 209.99V213.69" stroke="#262626" stroke-width="0.6" fill="none"/>
<path d="M281.99 210.15H285.69M283.84 208.3V212" stroke="#262626" stroke-width="0.6" fill="none"/>
<path d="M284.47 209.48H288.17M286.32 207.63V211.33" stroke="#262626" stroke-width="0.6" fill="none"/>
<path d="M293.47 206.48H297.17M295.32 204.63V208.33" stroke="#262626" stroke-width="0.6" fill="none"/>
<path d="M299.97 205.8H303.67M301.82 203.95V207.65" stroke="#262626" stroke-width="0.6" fill="none"/>
<path d="M312.63 202.46H316.33M314.48 200.61V204.31" stroke="#262626" stroke-width="0.6" fill="none"/>
<path d="M318.92 201.83H322.62M320.77 199.98V203.68" stroke="#262626" stroke-width="0.6" fill="none"/>
<path d="M328.08 200.99H331.78M329.93 199.14V202.84" stroke="#262626" stroke-width="0.6" fill="none"/>
<path d="M334.32 198.98H338.02M336.17 197.13V200.83" stroke="#262626" stroke-width="0.6" fill="none"/>
<path d="M337.01 185.6H340.71M338.86 183.75V187.45" stroke="#262626" stroke-width="0.6" fill="none"/>
<path d="M340.49 183.75H344.19M342.34 181.9V185.6" stroke="#262626" stroke-width="0.6" fill="none"/>
<path d="M347.62 180.28H351.32M349.47 178.43V182.13" stroke="#262626" stroke-width="0.6" fill="none"/>
<path d="M350.9 179.87H354.6M352.75 178.02V181.72" stroke="#262626" stroke-width="0.6" fill="none"/>
<path d="M357.37 178.93H361.07M359.22 177.08V180.78" stroke="#262626" stroke-width="0.6" fill="none"/>
<path d="M297.61 219.44H301.31M299.46 217.59V221.29" stroke="#262626" stroke-width="0.6" fill="none"/>
<path d="M302.06 218.96H305.76M303.91 217.11V220.81" stroke="#262626" stroke-width="0.6" fill="none"/>
<path d="M308.88 217.96H312.58M310.73 216.11V219.81" stroke="#262626" stroke-width="0.6" fill="none"/>
<path d="M310.32 218.01H314.02M312.17 216.16V219.86" stroke="#262626" stroke-width="0.6" fill="none"/>
<path d="M317.09 216.72H320.79M318.94 214.87V218.57" stroke="#262626" stroke-width="0.6" fill="none"/>
<path d="M321.4 216.59H325.1M323.25 214.74V218.44" stroke="#262626" stroke-width="0.6" fill="none"/>
<path d="M325.24 215.69H328.94M327.09 213.84V217.54" stroke="#262626" stroke-width="0.6" fill="none"/>
<path d="M330.84 215.04H334.54M332.69 213.19V216.89" stroke="#262626" stroke-width="0.6" fill="none"/>
<path d="M334.81 214.51H338.51M336.66 212.66V216.36" stroke="#262626" stroke-width="0.6" fill="none"/>
<path d="M337.26 213.48H340.96M339.11 211.63V215.33" stroke="#262626" stroke-width="0.6" fill="none"/>
<path d="M342.82 213.02H346.52M344.67 211.17V214.87" stroke="#262626" stroke-width="0.6" fill="none"/>
<path d="M348.43 211.92H352.13M350.28 210.07V213.77" stroke="#262626" stroke-width="0.6" fill="none"/>
<path d="M353.46 210.95H357.16M355.31 209.1V212.8" stroke="#262626" stroke-width="0.6" fill="none"/>
<path d="M356 210.68H359.7M357.85 208.83V212.53" stroke="#262626" stroke-width="0.6" fill="none"/>
<ellipse cx="248.73" cy="217.69" rx="1.8" ry="1.55" stroke="#FF0000" stroke-width="0.6" fill="#FF0000" fill-opacity="0.3"/>
<ellipse cx="249.12" cy="218.06" rx="1.8" ry="1.55" stroke="#FF0000" stroke-width="0.6" fill="#FF0000" fill-opacity="0.3"/>
<ellipse cx="250.68" cy="217.93" rx="1.8" ry="1.55" stroke="#FF0000" stroke-width="0.6" fill="#FF0000" fill-opacity="0.3"/>
<ellipse cx="251.88" cy="217.4" rx="1.8" ry="1.55" stroke="#FF0000" stroke-width="0.6" fill="#FF0000" fill-opacity="0.3"/>
<ellipse cx="253.08" cy="216.63" rx="1.8" ry="1.55" stroke="#FF0000" stroke-width="0.6" fill="#FF0000" fill-opacity="0.3"/>
<ellipse cx="255.13" cy="216.55" rx="1.8" ry="1.55" stroke="#FF0000" stroke-width="0.6" fill="#FF0000" fill-opacity="0.3"/>
<ellipse cx="255.75" cy="216.78" rx="1.8" ry="1.55" stroke="#FF0000" stroke-width="0.6" fill="#FF0000" fill-opacity="0.3"/>
<ellipse cx="257" cy="216.63" rx="1.8" ry="1.55" stroke="#FF0000" stroke-width="0.6" fill="#FF0000" fill-opacity="0.3"/>
<ellipse cx="258.91" cy="215.79" rx="1.8" ry="1.55" stroke="#FF0000" stroke-width="0.6" fill="#FF0000" fill-opacity="0.3"/>
<ellipse cx="259.62" cy="215.29" rx="1.8" ry="1.55" stroke="#FF0000" stroke-width="0.6" fill="#FF0000" fill-opacity="0.3"/>
<ellipse cx="260.88" cy="215.25" rx="1.8" ry="1.55" stroke="#FF0000" stroke-width="0.6" fill="#FF0000" fill-opacity="0.3"/>
<ellipse cx="262.29" cy="214.95" rx="1.8" ry="1.55" stroke="#FF0000" stroke-width="0.6" fill="#FF0000" fill-opacity="0.3"/>
<ellipse cx="262.85" cy="215.24" rx="1.8" ry="1.55" stroke="#FF0000" stroke-width="0.6" fill="#FF0000" fill-opacity="0.3"/>
<ellipse cx="264.38" cy="214.42" rx="1.8" ry="1.55" stroke="#FF0000" stroke-width="0.6" fill="#FF0000" fill-opacity="0.3"/>
<ellipse cx="266.1" cy="213.91" rx="1.8" ry="1.55" stroke="#FF0000" stroke-width="0.6" fill="#FF0000" fill-opacity="0.3"/>
<ellipse cx="267.2" cy="213.05" rx="1.8" ry="1.55" stroke="#FF0000" stroke-width="0.6" fill="#FF0000" fill-opacity="0.3"/>
<ellipse cx="268.53" cy="213.71" rx="1.8" ry="1.55" stroke="#FF0000" stroke-width="0.6" fill="#FF0000" fill-opacity="0.3"/>
<ellipse cx="269.91" cy="212.58" rx="1.8" ry="1.55" stroke="#FF0000" stroke-width="0.6" fill="#FF0000" fill-opacity="0.3"/>
<ellipse cx="271.37" cy="212.95" rx="1.8" ry="1.55" stroke="#FF0000" stroke-width="0.6" fill="#FF0000" fill-opacity="0.3"/>
<ellipse cx="272.94" cy="212.67" rx="1.8" ry="1.55" stroke="#FF0000" stroke-width="0.6" fill="#FF0000" fill-opacity="0.3"/>
<ellipse cx="273.07" cy="211.65" rx="1.8" ry="1.55" stroke="#FF0000" stroke-width="0.6" fill="#FF0000" fill-opacity="0.3"/>
<ellipse cx="274.3" cy="211.2" rx="1.8" ry="1.55" stroke="#FF0000" stroke-width="0.6" fill="#FF0000" fill-opacity="0.3"/>
<ellipse cx="276.59" cy="211.25" rx="1.8" ry="1.55" stroke="#FF0000" stroke-width="0.6" fill="#FF0000" fill-opacity="0.3"/>
<ellipse cx="278.29" cy="210.42" rx="1.8" ry="1.55" stroke="#FF0000" stroke-width="0.6" fill="#FF0000" fill-opacity="0.3"/>
<ellipse cx="278.8" cy="210.26" rx="1.8" ry="1.55" stroke="#FF0000" stroke-width="0.6" fill="#FF0000" fill-opacity="0.3"/>
<ellipse cx="280.35" cy="210.45" rx="1.8" ry="1.55" stroke="#FF0000" stroke-width="0.6" fill="#FF0000" fill-opacity="0.3"/>
<ellipse cx="281.87" cy="210.4" rx="1.8" ry="1.55" stroke="#FF0000" stroke-width="0.6" fill="#FF0000" fill-opacity="0.3"/>
<ellipse cx="282.5" cy="209.67" rx="1.8" ry="1.55" stroke="#FF0000" stroke-width="0.6" fill="#FF0000" fill-opacity="0.3"/>
<ellipse cx="284.82" cy="209.42" rx="1.8" ry="1.55" stroke="#FF0000" stroke-width="0.6" fill="#FF0000" fill-opacity="0.3"/>
<ellipse cx="284.56" cy="209.51" rx="1.8" ry="1.55" stroke="#FF0000" stroke-width="0.6" fill="#FF0000" fill-opacity="0.3"/>
<ellipse cx="287.26" cy="209.68" rx="1.8" ry="1.55" stroke="#FF0000" stroke-width="0.6" fill="#FF0000" fill-opacity="0.3"/>
<ellipse cx="287.58" cy="209.47" rx="1.8" ry="1.55" stroke="#FF0000" stroke-width="0.6" fill="#FF0000" fill-opacity="0.3"/>
<ellipse cx="289.63" cy="208.38" rx="1.8" ry="1.55" stroke="#FF0000" stroke-width="0.6" fill="#FF0000" fill-opacity="0.3"/>
<ellipse cx="290.2" cy="209.14" rx="1.8" ry="1.55" stroke="#FF0000" stroke-width="0.6" fill="#FF0000" fill-opacity="0.3"/>
<ellipse cx="291.63" cy="208.24" rx="1.8" ry="1.55" stroke="#FF0000" stroke-width="0.6" fill="#FF0000" fill-opacity="0.3"/>
<ellipse cx="292.82" cy="207.56" rx="1.8" ry="1.55" stroke="#FF0000" stroke-width="0.6" fill="#FF0000" fill-opacity="0.3"/>
<ellipse cx="293.58" cy="207.51" rx="1.8" ry="1.55" stroke="#FF0000" stroke-width="0.6" fill="#FF0000" fill-opacity="0.3"/>
<ellipse cx="294.84" cy="206.8" rx="1.8" ry="1.55" stroke="#FF0000" stroke-width="0.6" fill="#FF0000" fill-opacity="0.3"/>
<ellipse cx="296.43" cy="206.92" rx="1.8" ry="1.55" stroke="#FF0000" stroke-width="0.6" fill="#FF0000" fill-opacity="0.3"/>
<ellipse cx="297.23" cy="206.93" rx="1.8" ry="1.55" stroke="#FF0000" stroke-width="0.6" fill="#FF0000" fill-opacity="0.3"/>
<ellipse cx="299.24" cy="206.53" rx="1.8" ry="1.55" stroke="#FF0000" stroke-width="0.6" fill="#FF0000" fill-opacity="0.3"/>
<ellipse cx="300.58" cy="205.72" rx="1.8" ry="1.55" stroke="#FF0000" stroke-width="0.6" fill="#FF0000" fill-opacity="0.3"/>
<ellipse cx="301.68" cy="206.07" rx="1.8" ry="1.55" stroke="#FF0000" stroke-width="0.6" fill="#FF0000" fill-opacity="0.3"/>
<ellipse cx="303.14" cy="205.19" rx="1.8" ry="1.55" stroke="#FF0000" stroke-width="0.6" fill="#FF0000" fill-opacity="0.3"/>
<ellipse cx="304.65" cy="205.24" rx="1.8" ry="1.55" stroke="#FF0000" stroke-width="0.6" fill="#FF0000" fill-opacity="0.3"/>
<ellipse cx="305.03" cy="204.5" rx="1.8" ry="1.55" stroke="#FF0000" stroke-width="0.6" fill="#FF0000" fill-opacity="0.3"/>
<ellipse cx="307.17" cy="204.26" rx="1.8" ry="1.55" stroke="#FF0000" stroke-width="0.6" fill="#FF0000" fill-opacity="0.3"/>
<ellipse cx="308.39" cy="204.29" rx="1.8" ry="1.55" stroke="#FF0000" stroke-width="0.6" fill="#FF0000" fill-opacity="0.3"/>
<ellipse cx="308.95" cy="204.66" rx="1.8" ry="1.55" stroke="#FF0000" stroke-width="0.6" fill="#FF0000" fill-opacity="0.3"/>
<ellipse cx="310.34" cy="204" rx="1.8" ry="1.55" stroke="#FF0000" stroke-width="0.6" fill="#FF0000" fill-opacity="0.3"/>
<ellipse cx="312.19" cy="203.35" rx="1.8" ry="1.55" stroke="#FF0000" stroke-width="0.6" fill="#FF0000" fill-opacity="0.3"/>
<ellipse cx="313.48" cy="203.84" rx="1.8" ry="1.55" stroke="#FF0000" stroke-width="0.6" fill="#FF0000" fill-opacity="0.3"/>
<ellipse cx="314.57" cy="203.19" rx="1.8" ry="1.55" stroke="#FF0000" stroke-width="0.6" fill="#FF0000" fill-opacity="0.3"/>
<ellipse cx="315.5" cy="202.72" rx="1.8" ry="1.55" stroke="#FF0000" stroke-width="0.6" fill="#FF0000" fill-opacity="0.3"/>
<ellipse cx="317.46" cy="203.34" rx="1.8" ry="1.55" stroke="#FF0000" stroke-width="0.6" fill="#FF0000" fill-opacity="0.3"/>
<ellipse cx="318.6" cy="202.19" rx="1.8" ry="1.55" stroke="#FF0000" stroke-width="0.6" fill="#FF0000" fill-opacity="0.3"/>
<ellipse cx="319.83" cy="202.42" rx="1.8" ry="1.55" stroke="#FF0000" stroke-width="0.6" fill="#FF0000" fill-opacity="0.3"/>
<ellipse cx="321.23" cy="201.51" rx="1.8" ry="1.55" stroke="#FF0000" stroke-width="0.6" fill="#FF0000" fill-opacity="0.3"/>
<ellipse cx="322.53" cy="201.28" rx="1.8" ry="1.55" stroke="#FF0000" stroke-width="0.6" fill="#FF0000" fill-opacity="0.3"/>
<ellipse cx="323.38" cy="201.62" rx="1.8" ry="1.55" stroke="#FF0000" stroke-width="0.6" fill="#FF0000" fill-opacity="0.3"/>
<ellipse cx="324.53" cy="201.75" rx="1.8" ry="1.55" stroke="#FF0000" stroke-width="0.6" fill="#FF0000" fill-opacity="0.3"/>
<ellipse cx="325.96" cy="200.64" rx="1.8" ry="1.55" stroke="#FF0000" stroke-width="0.6" fill="#FF0000" fill-opacity="0.3"/>
<ellipse cx="327.37" cy="201.02" rx="1.8" ry="1.55" stroke="#FF0000" stroke-width="0.6" fill="#FF0000" fill-opacity="0.3"/>
<ellipse cx="328.12" cy="200.12" rx="1.8" ry="1.55" stroke="#FF0000" stroke-width="0.6" fill="#FF0000" fill-opacity="0.3"/>
<ellipse cx="330.19" cy="200.19" rx="1.8" ry="1.55" stroke="#FF0000" stroke-width="0.6" fill="#FF0000" fill-opacity="0.3"/>
<ellipse cx="331.17" cy="200.6" rx="1.8" ry="1.55" stroke="#FF0000" stroke-width="0.6" fill="#FF0000" fill-opacity="0.3"/>
<ellipse cx="333.08" cy="199.9" rx="1.8" ry="1.55" stroke="#FF0000" stroke-width="0.6" fill="#FF0000" fill-opacity="0.3"/>
<ellipse cx="333.73" cy="200.09" rx="1.8" ry="1.55" stroke="#FF0000" stroke-width="0.6" fill="#FF0000" fill-opacity="0.3"/>
<ellipse cx="335.18" cy="200.38" rx="1.8" ry="1.55" stroke="#FF0000" stroke-width="0.6" fill="#FF0000" fill-opacity="0.3"/>
<ellipse cx="336.71" cy="200.37" rx="1.8" ry="1.55" stroke="#FF0000" stroke-width="0.6" fill="#FF0000" fill-opacity="0.3"/>
<ellipse cx="337.52" cy="200.31" rx="1.8" ry="1.55" stroke="#FF0000" stroke-width="0.6" fill="#FF0000" fill-opacity="0.3"/>
<ellipse cx="339.49" cy="199.5" rx="1.8" ry="1.55" stroke="#FF0000" stroke-width="0.6" fill="#FF0000" fill-opacity="0.3"/>
<ellipse cx="336.58" cy="188.26" rx="1.8" ry="1.55" stroke="#FF0000" stroke-width="0.6" fill="#FF0000" fill-opacity="0.3"/>
<ellipse cx="336.97" cy="188.02" rx="1.8" ry="1.55" stroke="#FF0000" stroke-width="0.6" fill="#FF0000" fill-opacity="0.3"/>
<ellipse cx="337.76" cy="187.39" rx="1.8" ry="1.55" stroke="#FF0000" stroke-width="0.6" fill="#FF0000" fill-opacity="0.3"/>
<ellipse cx="338.53" cy="186.98" rx="1.8" ry="1.55" stroke="#FF0000" stroke-width="0.6" fill="#FF0000" fill-opacity="0.3"/>
<ellipse cx="340.1" cy="185.88" rx="1.8" ry="1.55" stroke="#FF0000" stroke-width="0.6" fill="#FF0000" fill-opacity="0.3"/>
<ellipse cx="340.47" cy="186" rx="1.8" ry="1.55" stroke="#FF0000" stroke-width="0.6" fill="#FF0000" fill-opacity="0.3"/>
<ellipse cx="341.26" cy="186.04" rx="1.8" ry="1.55" stroke="#FF0000" stroke-width="0.6" fill="#FF0000" fill-opacity="0.3"/>
<ellipse cx="342.08" cy="184.96" rx="1.8" ry="1.55" stroke="#FF0000" stroke-width="0.6" fill="#FF0000" fill-opacity="0.3"/>
<ellipse cx="342.54" cy="185.04" rx="1.8" ry="1.55" stroke="#FF0000" stroke-width="0.6" fill="#FF0000" fill-opacity="0.3"/>
<ellipse cx="343.29" cy="183.68" rx="1.8" ry="1.55" stroke="#FF0000" stroke-width="0.6" fill="#FF0000" fill-opacity="0.3"/>
<ellipse cx="344.65" cy="183.16" rx="1.8" ry="1.55" stroke="#FF0000" stroke-width="0.6" fill="#FF0000" fill-opacity="0.3"/>
<ellipse cx="345.28" cy="182.98" rx="1.8" ry="1.55" stroke="#FF0000" stroke-width="0.6" fill="#FF0000" fill-opacity="0.3"/>
<ellipse cx="345.99" cy="183.09" rx="1.8" ry="1.55" stroke="#FF0000" stroke-width="0.6" fill="#FF0000" fill-opacity="0.3"/>
<ellipse cx="347.29" cy="182.04" rx="1.8" ry="1.55" stroke="#FF0000" stroke-width="0.6" fill="#FF0000" fill-opacity="0.3"/>
<ellipse cx="348.41" cy="181.53" rx="1.8" ry="1.55" stroke="#FF0000" stroke-width="0.6" fill="#FF0000" fill-opacity="0.3"/>
<ellipse cx="348.58" cy="181.94" rx="1.8" ry="1.55" stroke="#FF0000" stroke-width="0.6" fill="#FF0000" fill-opacity="0.3"/>
<ellipse cx="349.26" cy="181.44" rx="1.8" ry="1.55" stroke="#FF0000" stroke-width="0.6" fill="#FF0000" fill-opacity="0.3"/>
<ellipse cx="350.4" cy="181.68" rx="1.8" ry="1.55" stroke="#FF0000" stroke-width="0.6" fill="#FF0000" fill-opacity="0.3"/>
<ellipse cx="351.26" cy="181.2" rx="1.8" ry="1.55" stroke="#FF0000" stroke-width="0.6" fill="#FF0000" fill-opacity="0.3"/>
<ellipse cx="352.38" cy="181.22" rx="1.8" ry="1.55" stroke="#FF0000" stroke-width="0.6" fill="#FF0000" fill-opacity="0.3"/>
<ellipse cx="353.13" cy="180.87" rx="1.8" ry="1.55" stroke="#FF0000" stroke-width="0.6" fill="#FF0000" fill-opacity="0.3"/>
<ellipse cx="354.12" cy="180.76" rx="1.8" ry="1.55" stroke="#FF0000" stroke-width="0.6" fill="#FF0000" fill-opacity="0.3"/>
<ellipse cx="355.16" cy="179.68" rx="1.8" ry="1.55" stroke="#FF0000" stroke-width="0.6" fill="#FF0000" fill-opacity="0.3"/>
<ellipse cx="355.83" cy="180.44" rx="1.8" ry="1.55" stroke="#FF0000" stroke-width="0.6" fill="#FF0000" fill-opacity="0.3"/>
<ellipse cx="357.46" cy="179.96" rx="1.8" ry="1.55" stroke="#FF0000" stroke-width="0.6" fill="#FF0000" fill-opacity="0.3"/>
<ellipse cx="357.71" cy="179.39" rx="1.8" ry="1.55" stroke="#FF0000" stroke-width="0.6" fill="#FF0000" fill-opacity="0.3"/>
<ellipse cx="359.41" cy="178.85" rx="1.8" ry="1.55" stroke="#FF0000" stroke-width="0.6" fill="#FF0000" fill-opacity="0.3"/>
<ellipse cx="359.69" cy="178.88" rx="1.8" ry="1.55" stroke="#FF0000" stroke-width="0.6" fill="#FF0000" fill-opacity="0.3"/>
<ellipse cx="360.22" cy="178.74" rx="1.8" ry="1.55" stroke="#FF0000" stroke-width="0.6" fill="#FF0000" fill-opacity="0.3"/>
<ellipse cx="361.07" cy="178.19" rx="1.8" ry="1.55" stroke="#FF0000" stroke-width="0.6" fill="#FF0000" fill-opacity="0.3"/>
<path d="M224 221.39L227.8 225.19M224 225.19L227.8 221.39" stroke="#222" stroke-width="0.5" fill="none"/>
<path d="M225.6 221.19L229.4 224.99M225.6 224.99L229.4 221.19" stroke="#222" stroke-width="0.5" fill="none"/>
<path d="M227.2 221.29L231 225.09M227.2 225.09L231 221.29" stroke="#222" stroke-width="0.5" fill="none"/>
<path d="M227 221.25L230.8 225.05M227 225.05L230.8 221.25" stroke="#222" stroke-width="0.5" fill="none"/>
<path d="M228.6 221.05L232.4 224.85M228.6 224.85L232.4 221.05" stroke="#222" stroke-width="0.5" fill="none"/>
<path d="M230.2 221.15L234 224.95M230.2 224.95L234 221.15" stroke="#222" stroke-width="0.5" fill="none"/>
<path d="M240 220.67L243.8 224.47M240 224.47L243.8 220.67" stroke="#222" stroke-width="0.5" fill="none"/>
<path d="M241.6 220.47L245.4 224.27M241.6 224.27L245.4 220.47" stroke="#222" stroke-width="0.5" fill="none"/>
<path d="M243.2 220.57L247 224.37M243.2 224.37L247 220.57" stroke="#222" stroke-width="0.5" fill="none"/>
<path d="M252 220.13L255.8 223.93M252 223.93L255.8 220.13" stroke="#222" stroke-width="0.5" fill="none"/>
<path d="M253.6 219.93L257.4 223.73M253.6 223.73L257.4 219.93" stroke="#222" stroke-width="0.5" fill="none"/>
<path d="M255.2 220.03L259 223.83M255.2 223.83L259 220.03" stroke="#222" stroke-width="0.5" fill="none"/>
<path d="M254 220.04L257.8 223.84M254 223.84L257.8 220.04" stroke="#222" stroke-width="0.5" fill="none"/>
<path d="M255.6 219.84L259.4 223.64M255.6 223.64L259.4 219.84" stroke="#222" stroke-width="0.5" fill="none"/>
<path d="M257.2 219.94L261 223.74M257.2 223.74L261 219.94" stroke="#222" stroke-width="0.5" fill="none"/>
<path d="M268.5 219.38L272.3 223.19M268.5 223.19L272.3 219.38" stroke="#222" stroke-width="0.5" fill="none"/>
<path d="M270.1 219.18L273.9 222.98M270.1 222.98L273.9 219.18" stroke="#222" stroke-width="0.5" fill="none"/>
<path d="M271.7 219.28L275.5 223.09M271.7 223.09L275.5 219.28" stroke="#222" stroke-width="0.5" fill="none"/>
<path d="M271.5 219.25L275.3 223.05M271.5 223.05L275.3 219.25" stroke="#222" stroke-width="0.5" fill="none"/>
<path d="M273.1 219.05L276.9 222.85M273.1 222.85L276.9 219.05" stroke="#222" stroke-width="0.5" fill="none"/>
<path d="M274.7 219.15L278.5 222.95M274.7 222.95L278.5 219.15" stroke="#222" stroke-width="0.5" fill="none"/>
<path d="M286.5 218.57L290.3 222.38M286.5 222.38L290.3 218.57" stroke="#222" stroke-width="0.5" fill="none"/>
<path d="M288.1 218.37L291.9 222.17M288.1 222.17L291.9 218.37" stroke="#222" stroke-width="0.5" fill="none"/>
<path d="M289.7 218.47L293.5 222.28M289.7 222.28L293.5 218.47" stroke="#222" stroke-width="0.5" fill="none"/>
<path d="M290.1 218.41L293.9 222.21M290.1 222.21L293.9 218.41" stroke="#222" stroke-width="0.5" fill="none"/>
<path d="M291.7 218.21L295.5 222.01M291.7 222.01L295.5 218.21" stroke="#222" stroke-width="0.5" fill="none"/>
<path d="M293.3 218.31L297.1 222.11M293.3 222.11L297.1 218.31" stroke="#222" stroke-width="0.5" fill="none"/>
<path d="M279.7 210.84L283.5 214.64M279.7 214.64L283.5 210.84" stroke="#222" stroke-width="0.5" fill="none"/>
<path d="M281.93 210.61L285.73 214.41M281.93 214.41L285.73 210.61" stroke="#222" stroke-width="0.5" fill="none"/>
<path d="M284.76 210.06L288.56 213.86M284.76 213.86L288.56 210.06" stroke="#222" stroke-width="0.5" fill="none"/>
<path d="M286.92 209.57L290.72 213.37M286.92 213.37L290.72 209.57" stroke="#222" stroke-width="0.5" fill="none"/>
<path d="M297.98 217.97L300.78 220.77M297.98 220.77L300.78 217.97" stroke="#262626" stroke-width="0.5" fill="none"/>
<path d="M298.39 217.7L301.19 220.5M298.39 220.5L301.19 217.7" stroke="#262626" stroke-width="0.5" fill="none"/>
<path d="M299.81 217.41L302.61 220.21M299.81 220.21L302.61 217.41" stroke="#262626" stroke-width="0.5" fill="none"/>
<path d="M300.45 217.61L303.25 220.41M300.45 220.41L303.25 217.61" stroke="#262626" stroke-width="0.5" fill="none"/>
<path d="M302.16 217.15L304.96 219.95M302.16 219.95L304.96 217.15" stroke="#262626" stroke-width="0.5" fill="none"/>
<path d="M302.83 216.97L305.63 219.77M302.83 219.77L305.63 216.97" stroke="#262626" stroke-width="0.5" fill="none"/>
<path d="M303.19 217.03L305.99 219.83M303.19 219.83L305.99 217.03" stroke="#262626" stroke-width="0.5" fill="none"/>
<path d="M304.65 216.85L307.45 219.65M304.65 219.65L307.45 216.85" stroke="#262626" stroke-width="0.5" fill="none"/>
<path d="M305.7 217.36L308.5 220.16M305.7 220.16L308.5 217.36" stroke="#262626" stroke-width="0.5" fill="none"/>
<path d="M307.22 217.02L310.02 219.82M307.22 219.82L310.02 217.02" stroke="#262626" stroke-width="0.5" fill="none"/>
<path d="M308.07 216.76L310.87 219.56M308.07 219.56L310.87 216.76" stroke="#262626" stroke-width="0.5" fill="none"/>
<path d="M309.33 216.63L312.13 219.43M309.33 219.43L312.13 216.63" stroke="#262626" stroke-width="0.5" fill="none"/>
<path d="M309.82 216.29L312.62 219.09M309.82 219.09L312.62 216.29" stroke="#262626" stroke-width="0.5" fill="none"/>
<path d="M311.19 216.53L313.99 219.33M311.19 219.33L313.99 216.53" stroke="#262626" stroke-width="0.5" fill="none"/>
<path d="M311.79 216.74L314.59 219.54M311.79 219.54L314.59 216.74" stroke="#262626" stroke-width="0.5" fill="none"/>
<path d="M313.25 216.24L316.05 219.04M313.25 219.04L316.05 216.24" stroke="#262626" stroke-width="0.5" fill="none"/>
<path d="M314.78 215.94L317.58 218.74M314.78 218.74L317.58 215.94" stroke="#262626" stroke-width="0.5" fill="none"/>
<path d="M315.42 215.56L318.22 218.36M315.42 218.36L318.22 215.56" stroke="#262626" stroke-width="0.5" fill="none"/>
<path d="M316.85 215.44L319.65 218.24M316.85 218.24L319.65 215.44" stroke="#262626" stroke-width="0.5" fill="none"/>
<path d="M317.5 216.04L320.3 218.84M317.5 218.84L320.3 216.04" stroke="#262626" stroke-width="0.5" fill="none"/>
<path d="M318.1 216.18L320.9 218.98M318.1 218.98L320.9 216.18" stroke="#262626" stroke-width="0.5" fill="none"/>
<path d="M319.62 215.32L322.42 218.12M319.62 218.12L322.42 215.32" stroke="#262626" stroke-width="0.5" fill="none"/>
<path d="M320.86 215.48L323.66 218.28M320.86 218.28L323.66 215.48" stroke="#262626" stroke-width="0.5" fill="none"/>
<path d="M322.48 215.15L325.28 217.95M322.48 217.95L325.28 215.15" stroke="#262626" stroke-width="0.5" fill="none"/>
<path d="M323.36 215.24L326.16 218.04M323.36 218.04L326.16 215.24" stroke="#262626" stroke-width="0.5" fill="none"/>
<path d="M324.23 215.05L327.03 217.85M324.23 217.85L327.03 215.05" stroke="#262626" stroke-width="0.5" fill="none"/>
<path d="M324.99 214.99L327.79 217.79M324.99 217.79L327.79 214.99" stroke="#262626" stroke-width="0.5" fill="none"/>
<path d="M325.92 214.66L328.72 217.46M325.92 217.46L328.72 214.66" stroke="#262626" stroke-width="0.5" fill="none"/>
<path d="M327.58 214.41L330.38 217.21M327.58 217.21L330.38 214.41" stroke="#262626" stroke-width="0.5" fill="none"/>
<path d="M328.39 214.55L331.19 217.35M328.39 217.35L331.19 214.55" stroke="#262626" stroke-width="0.5" fill="none"/>
<path d="M329.19 213.94L331.99 216.74M329.19 216.74L331.99 213.94" stroke="#262626" stroke-width="0.5" fill="none"/>
<path d="M330.46 213.63L333.26 216.43M330.46 216.43L333.26 213.63" stroke="#262626" stroke-width="0.5" fill="none"/>
<path d="M331.29 213.56L334.09 216.36M331.29 216.36L334.09 213.56" stroke="#262626" stroke-width="0.5" fill="none"/>
<path d="M332.52 213.87L335.32 216.67M332.52 216.67L335.32 213.87" stroke="#262626" stroke-width="0.5" fill="none"/>
<path d="M333.37 213.01L336.17 215.81M333.37 215.81L336.17 213.01" stroke="#262626" stroke-width="0.5" fill="none"/>
<path d="M333.96 213.26L336.76 216.06M333.96 216.06L336.76 213.26" stroke="#262626" stroke-width="0.5" fill="none"/>
<path d="M335.19 213.4L337.99 216.2M335.19 216.2L337.99 213.4" stroke="#262626" stroke-width="0.5" fill="none"/>
<path d="M336.78 213.18L339.58 215.98M336.78 215.98L339.58 213.18" stroke="#262626" stroke-width="0.5" fill="none"/>
<path d="M337.73 212.52L340.53 215.32M337.73 215.32L340.53 212.52" stroke="#262626" stroke-width="0.5" fill="none"/>
<path d="M338.54 211.96L341.34 214.76M338.54 214.76L341.34 211.96" stroke="#262626" stroke-width="0.5" fill="none"/>
<path d="M339.78 212.68L342.58 215.48M339.78 215.48L342.58 212.68" stroke="#262626" stroke-width="0.5" fill="none"/>
<path d="M341.04 212.52L343.84 215.32M341.04 215.32L343.84 212.52" stroke="#262626" stroke-width="0.5" fill="none"/>
<path d="M341.85 212.04L344.65 214.84M341.85 214.84L344.65 212.04" stroke="#262626" stroke-width="0.5" fill="none"/>
<path d="M342.63 211.76L345.43 214.56M342.63 214.56L345.43 211.76" stroke="#262626" stroke-width="0.5" fill="none"/>
<path d="M344.23 211.64L347.03 214.44M344.23 214.44L347.03 211.64" stroke="#262626" stroke-width="0.5" fill="none"/>
<path d="M344.57 211.11L347.37 213.91M344.57 213.91L347.37 211.11" stroke="#262626" stroke-width="0.5" fill="none"/>
<path d="M345.98 211.12L348.78 213.92M345.98 213.92L348.78 211.12" stroke="#262626" stroke-width="0.5" fill="none"/>
<path d="M347.82 210.74L350.62 213.54M347.82 213.54L350.62 210.74" stroke="#262626" stroke-width="0.5" fill="none"/>
<path d="M348.16 211.12L350.96 213.92M348.16 213.92L350.96 211.12" stroke="#262626" stroke-width="0.5" fill="none"/>
<path d="M349.03 210.75L351.83 213.55M349.03 213.55L351.83 210.75" stroke="#262626" stroke-width="0.5" fill="none"/>
<path d="M349.72 210.73L352.52 213.53M349.72 213.53L352.52 210.73" stroke="#262626" stroke-width="0.5" fill="none"/>
<path d="M351.5 209.54L354.3 212.34M351.5 212.34L354.3 209.54" stroke="#262626" stroke-width="0.5" fill="none"/>
<path d="M352.78 210.03L355.58 212.83M352.78 212.83L355.58 210.03" stroke="#262626" stroke-width="0.5" fill="none"/>
<path d="M354.11 209.41L356.91 212.21M354.11 212.21L356.91 209.41" stroke="#262626" stroke-width="0.5" fill="none"/>
<path d="M353.85 209.43L356.65 212.23M353.85 212.23L356.65 209.43" stroke="#262626" stroke-width="0.5" fill="none"/>
<path d="M355.09 208.84L357.89 211.64M355.09 211.64L357.89 208.84" stroke="#262626" stroke-width="0.5" fill="none"/>
<path d="M356.65 208.78L359.45 211.58M356.65 211.58L359.45 208.78" stroke="#262626" stroke-width="0.5" fill="none"/>
<path d="M358.03 208.2L360.83 211M358.03 211L360.83 208.2" stroke="#262626" stroke-width="0.5" fill="none"/>
<path d="M358.74 208.35L361.54 211.15M358.74 211.15L361.54 208.35" stroke="#262626" stroke-width="0.5" fill="none"/>
<path d="M359.24 208.1L362.04 210.9M359.24 210.9L362.04 208.1" stroke="#262626" stroke-width="0.5" fill="none"/>
<path d="M221.8 219.19L223.6 220.99L221.8 222.79L220 220.99Z" fill="#FFC000"/>
<path d="M222.17 219.08L223.97 220.88L222.17 222.68L220.37 220.88Z" fill="#FFC000"/>
<path d="M223.11 219.02L224.91 220.82L223.11 222.62L221.31 220.82Z" fill="#FFC000"/>
<path d="M224.4 218.86L226.2 220.66L224.4 222.46L222.6 220.66Z" fill="#FFC000"/>
<path d="M224.48 219.09L226.28 220.89L224.48 222.69L222.68 220.89Z" fill="#FFC000"/>
<path d="M225.29 218.63L227.09 220.43L225.29 222.23L223.49 220.43Z" fill="#FFC000"/>
<path d="M226.69 218.88L228.49 220.68L226.69 222.48L224.89 220.68Z" fill="#FFC000"/>
<path d="M227.41 218.4L229.21 220.2L227.41 222L225.61 220.2Z" fill="#FFC000"/>
<path d="M228.32 218.84L230.12 220.64L228.32 222.44L226.52 220.64Z" fill="#FFC000"/>
<path d="M228.82 218.5L230.62 220.3L228.82 222.1L227.02 220.3Z" fill="#FFC000"/>
<path d="M229.78 218.68L231.58 220.48L229.78 222.28L227.98 220.48Z" fill="#FFC000"/>
<path d="M230.6 218.49L232.4 220.29L230.6 222.09L228.8 220.29Z" fill="#FFC000"/>
<path d="M231.41 218.59L233.21 220.39L231.41 222.19L229.61 220.39Z" fill="#FFC000"/>
<path d="M232.67 218.53L234.47 220.33L232.67 222.13L230.87 220.33Z" fill="#FFC000"/>
<path d="M232.87 218.73L234.67 220.53L232.87 222.33L231.07 220.53Z" fill="#FFC000"/>
<path d="M234.22 218.64L236.02 220.44L234.22 222.24L232.42 220.44Z" fill="#FFC000"/>
<path d="M235.03 218.38L236.83 220.18L235.03 221.98L233.23 220.18Z" fill="#FFC000"/>
<path d="M236.03 218.57L237.83 220.37L236.03 222.17L234.23 220.37Z" fill="#FFC000"/>
<path d="M236.35 218.39L238.15 220.19L236.35 221.99L234.55 220.19Z" fill="#FFC000"/>
<path d="M237.14 218.45L238.94 220.25L237.14 222.05L235.34 220.25Z" fill="#FFC000"/>
<path d="M238.34 217.96L240.14 219.76L238.34 221.56L236.54 219.76Z" fill="#FFC000"/>
<path d="M238.79 217.88L240.59 219.68L238.79 221.48L236.99 219.68Z" fill="#FFC000"/>
<path d="M240.13 218.06L241.93 219.86L240.13 221.66L238.33 219.86Z" fill="#FFC000"/>
<path d="M240.49 217.93L242.29 219.73L240.49 221.53L238.69 219.73Z" fill="#FFC000"/>
<path d="M241.33 217.68L243.13 219.48L241.33 221.28L239.53 219.48Z" fill="#FFC000"/>
<path d="M242.57 217.71L244.37 219.51L242.57 221.31L240.77 219.51Z" fill="#FFC000"/>
<path d="M242.95 217.68L244.75 219.48L242.95 221.28L241.15 219.48Z" fill="#FFC000"/>
<path d="M243.83 217.71L245.63 219.51L243.83 221.31L242.03 219.51Z" fill="#FFC000"/>
<path d="M244.76 217.48L246.56 219.28L244.76 221.08L242.96 219.28Z" fill="#FFC000"/>
<path d="M245.73 217.46L247.53 219.26L245.73 221.06L243.93 219.26Z" fill="#FFC000"/>
<path d="M246.68 217.88L248.48 219.68L246.68 221.48L244.88 219.68Z" fill="#FFC000"/>
<path d="M247.13 217.78L248.93 219.58L247.13 221.38L245.33 219.58Z" fill="#FFC000"/>
<path d="M248.35 217.37L250.15 219.17L248.35 220.97L246.55 219.17Z" fill="#FFC000"/>
<path d="M249.39 217.31L251.19 219.11L249.39 220.91L247.59 219.11Z" fill="#FFC000"/>
<path d="M249.74 217.62L251.54 219.42L249.74 221.22L247.94 219.42Z" fill="#FFC000"/>
<path d="M250.76 217.49L252.56 219.29L250.76 221.09L248.96 219.29Z" fill="#FFC000"/>
<path d="M251.4 217.46L253.2 219.26L251.4 221.06L249.6 219.26Z" fill="#FFC000"/>
<path d="M252.38 217.08L254.18 218.88L252.38 220.68L250.58 218.88Z" fill="#FFC000"/>
<path d="M253.29 217.12L255.09 218.92L253.29 220.72L251.49 218.92Z" fill="#FFC000"/>
<path d="M254.23 217.33L256.03 219.13L254.23 220.93L252.43 219.13Z" fill="#FFC000"/>
<path d="M254.9 217.11L256.7 218.91L254.9 220.71L253.1 218.91Z" fill="#FFC000"/>
<path d="M255.36 217.4L257.16 219.2L255.36 221L253.56 219.2Z" fill="#FFC000"/>
<path d="M256.55 216.83L258.35 218.63L256.55 220.43L254.75 218.63Z" fill="#FFC000"/>
<path d="M257.42 217.04L259.22 218.84L257.42 220.64L255.62 218.84Z" fill="#FFC000"/>
<path d="M257.96 216.87L259.76 218.67L257.96 220.47L256.16 218.67Z" fill="#FFC000"/>
<path d="M258.77 217.11L260.57 218.91L258.77 220.71L256.97 218.91Z" fill="#FFC000"/>
<path d="M259.76 217.2L261.56 219L259.76 220.8L257.96 219Z" fill="#FFC000"/>
<path d="M261.11 217.07L262.91 218.87L261.11 220.67L259.31 218.87Z" fill="#FFC000"/>
<path d="M261.27 216.46L263.07 218.26L261.27 220.06L259.47 218.26Z" fill="#FFC000"/>
<path d="M262.63 216.59L264.43 218.39L262.63 220.19L260.83 218.39Z" fill="#FFC000"/>
<path d="M263.28 216.77L265.08 218.57L263.28 220.37L261.48 218.57Z" fill="#FFC000"/>
<path d="M264.08 216.47L265.88 218.27L264.08 220.07L262.28 218.27Z" fill="#FFC000"/>
<path d="M264.9 216.22L266.7 218.02L264.9 219.82L263.1 218.02Z" fill="#FFC000"/>
<path d="M266.14 216.55L267.94 218.35L266.14 220.15L264.34 218.35Z" fill="#FFC000"/>
<path d="M266.12 216.14L267.92 217.94L266.12 219.74L264.32 217.94Z" fill="#FFC000"/>
<path d="M267.16 216.22L268.96 218.02L267.16 219.82L265.36 218.02Z" fill="#FFC000"/>
<path d="M267.89 216.34L269.69 218.14L267.89 219.94L266.09 218.14Z" fill="#FFC000"/>
<path d="M269.03 216.22L270.83 218.02L269.03 219.82L267.23 218.02Z" fill="#FFC000"/>
<path d="M269.99 216.02L271.79 217.82L269.99 219.62L268.19 217.82Z" fill="#FFC000"/>
<path d="M270.84 215.65L272.64 217.45L270.84 219.25L269.04 217.45Z" fill="#FFC000"/>
<path d="M271.94 215.78L273.74 217.58L271.94 219.38L270.14 217.58Z" fill="#FFC000"/>
<path d="M272.28 215.98L274.08 217.78L272.28 219.58L270.48 217.78Z" fill="#FFC000"/>
<path d="M272.87 215.56L274.67 217.36L272.87 219.16L271.07 217.36Z" fill="#FFC000"/>
<path d="M274.19 216.01L275.99 217.81L274.19 219.61L272.39 217.81Z" fill="#FFC000"/>
<path d="M274.94 215.79L276.74 217.59L274.94 219.39L273.14 217.59Z" fill="#FFC000"/>
<path d="M275.81 215.84L277.61 217.64L275.81 219.44L274.01 217.64Z" fill="#FFC000"/>
<path d="M276.3 215.86L278.1 217.66L276.3 219.46L274.5 217.66Z" fill="#FFC000"/>
<path d="M277.57 215.6L279.37 217.4L277.57 219.2L275.77 217.4Z" fill="#FFC000"/>
<path d="M278.57 215.47L280.37 217.27L278.57 219.07L276.77 217.27Z" fill="#FFC000"/>
<path d="M278.9 215.47L280.7 217.27L278.9 219.07L277.1 217.27Z" fill="#FFC000"/>
<path d="M279.9 215.56L281.7 217.36L279.9 219.16L278.1 217.36Z" fill="#FFC000"/>
<path d="M280.63 214.89L282.43 216.69L280.63 218.49L278.83 216.69Z" fill="#FFC000"/>
<path d="M281.87 214.94L283.67 216.74L281.87 218.54L280.07 216.74Z" fill="#FFC000"/>
<path d="M282.66 215.15L284.46 216.95L282.66 218.75L280.86 216.95Z" fill="#FFC000"/>
<path d="M283.21 214.67L285.01 216.47L283.21 218.27L281.41 216.47Z" fill="#FFC000"/>
<path d="M283.98 214.71L285.78 216.51L283.98 218.31L282.18 216.51Z" fill="#FFC000"/>
<path d="M284.67 215L286.47 216.8L284.67 218.6L282.87 216.8Z" fill="#FFC000"/>
<path d="M285.79 214.59L287.59 216.39L285.79 218.19L283.99 216.39Z" fill="#FFC000"/>
<path d="M286.6 215.01L288.4 216.81L286.6 218.61L284.8 216.81Z" fill="#FFC000"/>
<path d="M287.27 214.92L289.07 216.72L287.27 218.52L285.47 216.72Z" fill="#FFC000"/>
<path d="M288.07 214.47L289.87 216.27L288.07 218.07L286.27 216.27Z" fill="#FFC000"/>
<path d="M289.34 214.67L291.14 216.47L289.34 218.27L287.54 216.47Z" fill="#FFC000"/>
<path d="M289.79 214.52L291.59 216.32L289.79 218.12L287.99 216.32Z" fill="#FFC000"/>
<path d="M290.86 214.6L292.66 216.4L290.86 218.2L289.06 216.4Z" fill="#FFC000"/>
<path d="M291.27 214.22L293.07 216.02L291.27 217.82L289.47 216.02Z" fill="#FFC000"/>
<path d="M292.08 214.09L293.88 215.89L292.08 217.69L290.28 215.89Z" fill="#FFC000"/>
<path d="M293.16 214.14L294.96 215.94L293.16 217.74L291.36 215.94Z" fill="#FFC000"/>
<path d="M293.79 214.09L295.59 215.89L293.79 217.69L291.99 215.89Z" fill="#FFC000"/>
<path d="M294.72 213.68L296.52 215.48L294.72 217.28L292.92 215.48Z" fill="#FFC000"/>
<path d="M295.64 214.08L297.44 215.88L295.64 217.68L293.84 215.88Z" fill="#FFC000"/>
<path d="M296.41 214.12L298.21 215.92L296.41 217.72L294.61 215.92Z" fill="#FFC000"/>
<path d="M297.31 213.62L299.11 215.42L297.31 217.22L295.51 215.42Z" fill="#FFC000"/>
<path d="M298.09 213.56L299.89 215.36L298.09 217.16L296.29 215.36Z" fill="#FFC000"/>
<path d="M298.93 213.55L300.73 215.35L298.93 217.15L297.13 215.35Z" fill="#FFC000"/>
<path d="M300.17 213.39L301.97 215.19L300.17 216.99L298.37 215.19Z" fill="#FFC000"/>
<path d="M300.48 212.95L302.28 214.75L300.48 216.55L298.68 214.75Z" fill="#FFC000"/>
<path d="M301.37 213.35L303.17 215.15L301.37 216.95L299.57 215.15Z" fill="#FFC000"/>
<path d="M302.14 213.07L303.94 214.87L302.14 216.67L300.34 214.87Z" fill="#FFC000"/>
<path d="M303.63 212.58L305.43 214.38L303.63 216.18L301.83 214.38Z" fill="#FFC000"/>
<path d="M304.38 212.87L306.18 214.67L304.38 216.47L302.58 214.67Z" fill="#FFC000"/>
<path d="M304.64 212.86L306.44 214.66L304.64 216.46L302.84 214.66Z" fill="#FFC000"/>
<path d="M305.54 212.55L307.34 214.35L305.54 216.15L303.74 214.35Z" fill="#FFC000"/>
<path d="M306.59 212.2L308.39 214L306.59 215.8L304.79 214Z" fill="#FFC000"/>
<path d="M307.09 212.38L308.89 214.18L307.09 215.98L305.29 214.18Z" fill="#FFC000"/>
<path d="M308.49 212.37L310.29 214.17L308.49 215.97L306.69 214.17Z" fill="#FFC000"/>
<path d="M309.31 211.95L311.11 213.75L309.31 215.55L307.51 213.75Z" fill="#FFC000"/>
<path d="M309.54 211.96L311.34 213.76L309.54 215.56L307.74 213.76Z" fill="#FFC000"/>
<path d="M310.47 211.55L312.27 213.35L310.47 215.15L308.67 213.35Z" fill="#FFC000"/>
<path d="M311.65 211.33L313.45 213.13L311.65 214.93L309.85 213.13Z" fill="#FFC000"/>
<path d="M312 211.32L313.8 213.12L312 214.92L310.2 213.12Z" fill="#FFC000"/>
<path d="M313.1 211.58L314.9 213.38L313.1 215.18L311.3 213.38Z" fill="#FFC000"/>
<path d="M314.33 211.15L316.13 212.95L314.33 214.75L312.53 212.95Z" fill="#FFC000"/>
<path d="M314.73 211.15L316.53 212.95L314.73 214.75L312.93 212.95Z" fill="#FFC000"/>
<path d="M315.52 210.95L317.32 212.75L315.52 214.55L313.72 212.75Z" fill="#FFC000"/>
<path d="M316.7 211.13L318.5 212.93L316.7 214.73L314.9 212.93Z" fill="#FFC000"/>
<path d="M316.98 210.73L318.78 212.53L316.98 214.33L315.18 212.53Z" fill="#FFC000"/>
<path d="M318.1 210.39L319.9 212.19L318.1 213.99L316.3 212.19Z" fill="#FFC000"/>
<path d="M318.6 210.5L320.4 212.3L318.6 214.1L316.8 212.3Z" fill="#FFC000"/>
<path d="M320.24 210.57L322.04 212.37L320.24 214.17L318.44 212.37Z" fill="#FFC000"/>
<path d="M321.09 210.27L322.89 212.07L321.09 213.87L319.29 212.07Z" fill="#FFC000"/>
<path d="M321.45 210.2L323.25 212L321.45 213.8L319.65 212Z" fill="#FFC000"/>
<path d="M322.24 210.03L324.04 211.83L322.24 213.63L320.44 211.83Z" fill="#FFC000"/>
<path d="M323.37 209.92L325.17 211.72L323.37 213.52L321.57 211.72Z" fill="#FFC000"/>
<path d="M323.71 210.03L325.51 211.83L323.71 213.63L321.91 211.83Z" fill="#FFC000"/>
<path d="M324.29 209.78L326.09 211.58L324.29 213.38L322.49 211.58Z" fill="#FFC000"/>
<path d="M325.36 209.6L327.16 211.4L325.36 213.2L323.56 211.4Z" fill="#FFC000"/>
<path d="M326.33 209.31L328.13 211.11L326.33 212.91L324.53 211.11Z" fill="#FFC000"/>
<path d="M327.26 209.16L329.06 210.96L327.26 212.76L325.46 210.96Z" fill="#FFC000"/>
<path d="M327.65 209.42L329.45 211.22L327.65 213.02L325.85 211.22Z" fill="#FFC000"/>
<path d="M328.74 209.24L330.54 211.04L328.74 212.84L326.94 211.04Z" fill="#FFC000"/>
<path d="M329.37 208.91L331.17 210.71L329.37 212.51L327.57 210.71Z" fill="#FFC000"/>
<path d="M330.35 208.81L332.15 210.61L330.35 212.41L328.55 210.61Z" fill="#FFC000"/>
<path d="M331.19 208.38L332.99 210.18L331.19 211.98L329.39 210.18Z" fill="#FFC000"/>
<path d="M332.22 208.21L334.02 210.01L332.22 211.81L330.42 210.01Z" fill="#FFC000"/>
<path d="M332.77 208.35L334.57 210.15L332.77 211.95L330.97 210.15Z" fill="#FFC000"/>
<path d="M334.09 208.37L335.89 210.17L334.09 211.97L332.29 210.17Z" fill="#FFC000"/>
<path d="M334.67 208.45L336.47 210.25L334.67 212.05L332.87 210.25Z" fill="#FFC000"/>
<path d="M335.47 208.22L337.27 210.02L335.47 211.82L333.67 210.02Z" fill="#FFC000"/>
<path d="M336.11 208.22L337.91 210.02L336.11 211.82L334.31 210.02Z" fill="#FFC000"/>
<path d="M337.29 207.51L339.09 209.31L337.29 211.11L335.49 209.31Z" fill="#FFC000"/>
<path d="M337.97 207.44L339.77 209.24L337.97 211.04L336.17 209.24Z" fill="#FFC000"/>
<path d="M338.51 207.6L340.31 209.4L338.51 211.2L336.71 209.4Z" fill="#FFC000"/>
<path d="M339.35 207.58L341.15 209.38L339.35 211.18L337.55 209.38Z" fill="#FFC000"/>
<path d="M340.55 207.37L342.35 209.17L340.55 210.97L338.75 209.17Z" fill="#FFC000"/>
<path d="M341.55 207.42L343.35 209.22L341.55 211.02L339.75 209.22Z" fill="#FFC000"/>
<path d="M342.22 207.17L344.02 208.97L342.22 210.77L340.42 208.97Z" fill="#FFC000"/>
<path d="M342.93 207.06L344.73 208.86L342.93 210.66L341.13 208.86Z" fill="#FFC000"/>
<path d="M343.82 206.67L345.62 208.47L343.82 210.27L342.02 208.47Z" fill="#FFC000"/>
<path d="M344.92 206.81L346.72 208.61L344.92 210.41L343.12 208.61Z" fill="#FFC000"/>
<path d="M345.15 206.32L346.95 208.12L345.15 209.92L343.35 208.12Z" fill="#FFC000"/>
<path d="M346.39 206.15L348.19 207.95L346.39 209.75L344.59 207.95Z" fill="#FFC000"/>
<path d="M347.42 206.1L349.22 207.9L347.42 209.7L345.62 207.9Z" fill="#FFC000"/>
<path d="M347.67 206.45L349.47 208.25L347.67 210.05L345.87 208.25Z" fill="#FFC000"/>
<path d="M348.62 205.72L350.42 207.52L348.62 209.32L346.82 207.52Z" fill="#FFC000"/>
<path d="M349.41 205.76L351.21 207.56L349.41 209.36L347.61 207.56Z" fill="#FFC000"/>
<path d="M350.33 205.95L352.13 207.75L350.33 209.55L348.53 207.75Z" fill="#FFC000"/>
<path d="M350.98 205.97L352.78 207.77L350.98 209.57L349.18 207.77Z" fill="#FFC000"/>
<path d="M352.13 205.76L353.93 207.56L352.13 209.36L350.33 207.56Z" fill="#FFC000"/>
<path d="M352.95 205.24L354.75 207.04L352.95 208.84L351.15 207.04Z" fill="#FFC000"/>
<path d="M353.44 205.56L355.24 207.36L353.44 209.16L351.64 207.36Z" fill="#FFC000"/>
<path d="M354.51 204.85L356.31 206.65L354.51 208.45L352.71 206.65Z" fill="#FFC000"/>
<path d="M355.6 204.85L357.4 206.65L355.6 208.45L353.8 206.65Z" fill="#FFC000"/>
<path d="M355.99 205.06L357.79 206.86L355.99 208.66L354.19 206.86Z" fill="#FFC000"/>
<path d="M357.05 204.76L358.85 206.56L357.05 208.36L355.25 206.56Z" fill="#FFC000"/>
<path d="M357.44 204.37L359.24 206.17L357.44 207.97L355.64 206.17Z" fill="#FFC000"/>
<path d="M358.91 204.01L360.71 205.81L358.91 207.61L357.11 205.81Z" fill="#FFC000"/>
<path d="M359.16 204.25L360.96 206.05L359.16 207.85L357.36 206.05Z" fill="#FFC000"/>
<path d="M360.27 203.97L362.07 205.77L360.27 207.57L358.47 205.77Z" fill="#FFC000"/>
<path d="M360.79 203.88L362.59 205.68L360.79 207.48L358.99 205.68Z" fill="#FFC000"/>
<path d="M361.57 204.19L363.37 205.99L361.57 207.79L359.77 205.99Z" fill="#FFC000"/>
<rect x="218.6" y="229.3" width="3" height="3" stroke="#1a1a1a" stroke-width="0.8" fill="none"/>
<rect x="219.9" y="229.16" width="3" height="3" stroke="#1a1a1a" stroke-width="0.8" fill="none"/>
<rect x="221.06" y="229.15" width="3" height="3" stroke="#1a1a1a" stroke-width="0.8" fill="none"/>
<rect x="222.87" y="228.81" width="3" height="3" stroke="#1a1a1a" stroke-width="0.8" fill="none"/>
<rect x="223.5" y="229.29" width="3" height="3" stroke="#1a1a1a" stroke-width="0.8" fill="none"/>
<rect x="224.69" y="229.12" width="3" height="3" stroke="#1a1a1a" stroke-width="0.8" fill="none"/>
<rect x="225.25" y="229.19" width="3" height="3" stroke="#1a1a1a" stroke-width="0.8" fill="none"/>
<rect x="227" y="229.08" width="3" height="3" stroke="#1a1a1a" stroke-width="0.8" fill="none"/>
<rect x="227.51" y="229.1" width="3" height="3" stroke="#1a1a1a" stroke-width="0.8" fill="none"/>
<rect x="228.68" y="228.84" width="3" height="3" stroke="#1a1a1a" stroke-width="0.8" fill="none"/>
<rect x="229.68" y="228.63" width="3" height="3" stroke="#1a1a1a" stroke-width="0.8" fill="none"/>
<rect x="230.53" y="229.16" width="3" height="3" stroke="#1a1a1a" stroke-width="0.8" fill="none"/>
<rect x="231.72" y="228.68" width="3" height="3" stroke="#1a1a1a" stroke-width="0.8" fill="none"/>
<rect x="232.56" y="228.6" width="3" height="3" stroke="#1a1a1a" stroke-width="0.8" fill="none"/>
<rect x="233.63" y="228.76" width="3" height="3" stroke="#1a1a1a" stroke-width="0.8" fill="none"/>
<rect x="234.94" y="228.63" width="3" height="3" stroke="#1a1a1a" stroke-width="0.8" fill="none"/>
<rect x="235.56" y="228.61" width="3" height="3" stroke="#1a1a1a" stroke-width="0.8" fill="none"/>
<rect x="237" y="228.73" width="3" height="3" stroke="#1a1a1a" stroke-width="0.8" fill="none"/>
<rect x="238.43" y="228.91" width="3" height="3" stroke="#1a1a1a" stroke-width="0.8" fill="none"/>
<rect x="239.08" y="228.44" width="3" height="3" stroke="#1a1a1a" stroke-width="0.8" fill="none"/>
<rect x="240.5" y="228.52" width="3" height="3" stroke="#1a1a1a" stroke-width="0.8" fill="none"/>
<rect x="241.49" y="228.79" width="3" height="3" stroke="#1a1a1a" stroke-width="0.8" fill="none"/>
<rect x="241.98" y="228.8" width="3" height="3" stroke="#1a1a1a" stroke-width="0.8" fill="none"/>
<rect x="243.12" y="228.24" width="3" height="3" stroke="#1a1a1a" stroke-width="0.8" fill="none"/>
<rect x="244.08" y="228.62" width="3" height="3" stroke="#1a1a1a" stroke-width="0.8" fill="none"/>
<rect x="245.24" y="228.29" width="3" height="3" stroke="#1a1a1a" stroke-width="0.8" fill="none"/>
<rect x="246.8" y="228.52" width="3" height="3" stroke="#1a1a1a" stroke-width="0.8" fill="none"/>
<rect x="247.46" y="228.69" width="3" height="3" stroke="#1a1a1a" stroke-width="0.8" fill="none"/>
<rect x="248.6" y="228.55" width="3" height="3" stroke="#1a1a1a" stroke-width="0.8" fill="none"/>
<rect x="249.99" y="228.12" width="3" height="3" stroke="#1a1a1a" stroke-width="0.8" fill="none"/>
<rect x="250.54" y="228.55" width="3" height="3" stroke="#1a1a1a" stroke-width="0.8" fill="none"/>
<rect x="252.14" y="228.11" width="3" height="3" stroke="#1a1a1a" stroke-width="0.8" fill="none"/>
<rect x="252.86" y="228.35" width="3" height="3" stroke="#1a1a1a" stroke-width="0.8" fill="none"/>
<rect x="253.95" y="228.13" width="3" height="3" stroke="#1a1a1a" stroke-width="0.8" fill="none"/>
<rect x="254.61" y="227.93" width="3" height="3" stroke="#1a1a1a" stroke-width="0.8" fill="none"/>
<rect x="256.11" y="228.16" width="3" height="3" stroke="#1a1a1a" stroke-width="0.8" fill="none"/>
<rect x="257.11" y="228.11" width="3" height="3" stroke="#1a1a1a" stroke-width="0.8" fill="none"/>
<rect x="257.94" y="228.16" width="3" height="3" stroke="#1a1a1a" stroke-width="0.8" fill="none"/>
<rect x="259.47" y="228.14" width="3" height="3" stroke="#1a1a1a" stroke-width="0.8" fill="none"/>
<rect x="260.41" y="227.8" width="3" height="3" stroke="#1a1a1a" stroke-width="0.8" fill="none"/>
<rect x="260.92" y="228.19" width="3" height="3" stroke="#1a1a1a" stroke-width="0.8" fill="none"/>
<rect x="262.18" y="227.96" width="3" height="3" stroke="#1a1a1a" stroke-width="0.8" fill="none"/>
<rect x="263.53" y="228" width="3" height="3" stroke="#1a1a1a" stroke-width="0.8" fill="none"/>
<rect x="264.69" y="227.84" width="3" height="3" stroke="#1a1a1a" stroke-width="0.8" fill="none"/>
<rect x="265.68" y="228.03" width="3" height="3" stroke="#1a1a1a" stroke-width="0.8" fill="none"/>
<rect x="266.96" y="227.76" width="3" height="3" stroke="#1a1a1a" stroke-width="0.8" fill="none"/>
<rect x="268.1" y="227.82" width="3" height="3" stroke="#1a1a1a" stroke-width="0.8" fill="none"/>
<rect x="268.56" y="228.1" width="3" height="3" stroke="#1a1a1a" stroke-width="0.8" fill="none"/>
<rect x="269.29" y="227.79" width="3" height="3" stroke="#1a1a1a" stroke-width="0.8" fill="none"/>
<rect x="271.09" y="227.69" width="3" height="3" stroke="#1a1a1a" stroke-width="0.8" fill="none"/>
<rect x="272.21" y="227.89" width="3" height="3" stroke="#1a1a1a" stroke-width="0.8" fill="none"/>
<rect x="272.43" y="227.51" width="3" height="3" stroke="#1a1a1a" stroke-width="0.8" fill="none"/>
<rect x="273.65" y="227.73" width="3" height="3" stroke="#1a1a1a" stroke-width="0.8" fill="none"/>
<rect x="274.98" y="227.59" width="3" height="3" stroke="#1a1a1a" stroke-width="0.8" fill="none"/>
<rect x="275.7" y="227.78" width="3" height="3" stroke="#1a1a1a" stroke-width="0.8" fill="none"/>
<rect x="277.41" y="227.31" width="3" height="3" stroke="#1a1a1a" stroke-width="0.8" fill="none"/>
<rect x="278.37" y="227.86" width="3" height="3" stroke="#1a1a1a" stroke-width="0.8" fill="none"/>
<rect x="279.35" y="227.46" width="3" height="3" stroke="#1a1a1a" stroke-width="0.8" fill="none"/>
<rect x="280.59" y="227.41" width="3" height="3" stroke="#1a1a1a" stroke-width="0.8" fill="none"/>
<rect x="281.59" y="227.62" width="3" height="3" stroke="#1a1a1a" stroke-width="0.8" fill="none"/>
<rect x="282.15" y="227.42" width="3" height="3" stroke="#1a1a1a" stroke-width="0.8" fill="none"/>
<rect x="283.65" y="227.47" width="3" height="3" stroke="#1a1a1a" stroke-width="0.8" fill="none"/>
<rect x="284.67" y="227.68" width="3" height="3" stroke="#1a1a1a" stroke-width="0.8" fill="none"/>
<rect x="285.63" y="227.23" width="3" height="3" stroke="#1a1a1a" stroke-width="0.8" fill="none"/>
<rect x="286.46" y="227.2" width="3" height="3" stroke="#1a1a1a" stroke-width="0.8" fill="none"/>
<rect x="287.6" y="227.42" width="3" height="3" stroke="#1a1a1a" stroke-width="0.8" fill="none"/>
<rect x="288.83" y="227.13" width="3" height="3" stroke="#1a1a1a" stroke-width="0.8" fill="none"/>
<rect x="289.78" y="227.49" width="3" height="3" stroke="#1a1a1a" stroke-width="0.8" fill="none"/>
<rect x="291.13" y="227.38" width="3" height="3" stroke="#1a1a1a" stroke-width="0.8" fill="none"/>
<rect x="292.15" y="227.11" width="3" height="3" stroke="#1a1a1a" stroke-width="0.8" fill="none"/>
<rect x="293.16" y="226.97" width="3" height="3" stroke="#1a1a1a" stroke-width="0.8" fill="none"/>
<rect x="294.27" y="227.08" width="3" height="3" stroke="#1a1a1a" stroke-width="0.8" fill="none"/>
<rect x="295.35" y="226.88" width="3" height="3" stroke="#1a1a1a" stroke-width="0.8" fill="none"/>
<rect x="296.45" y="227.15" width="3" height="3" stroke="#1a1a1a" stroke-width="0.8" fill="none"/>
<rect x="297.42" y="227.14" width="3" height="3" stroke="#1a1a1a" stroke-width="0.8" fill="none"/>
<rect x="298.63" y="226.57" width="3" height="3" stroke="#1a1a1a" stroke-width="0.8" fill="none"/>
<rect x="299.21" y="226.54" width="3" height="3" stroke="#1a1a1a" stroke-width="0.8" fill="none"/>
<rect x="300.61" y="226.88" width="3" height="3" stroke="#1a1a1a" stroke-width="0.8" fill="none"/>
<rect x="300.98" y="226.83" width="3" height="3" stroke="#1a1a1a" stroke-width="0.8" fill="none"/>
<rect x="302.1" y="226.91" width="3" height="3" stroke="#1a1a1a" stroke-width="0.8" fill="none"/>
<rect x="303.9" y="226.86" width="3" height="3" stroke="#1a1a1a" stroke-width="0.8" fill="none"/>
<rect x="304.12" y="226.72" width="3" height="3" stroke="#1a1a1a" stroke-width="0.8" fill="none"/>
<rect x="305.65" y="226.46" width="3" height="3" stroke="#1a1a1a" stroke-width="0.8" fill="none"/>
<rect x="306.47" y="226.19" width="3" height="3" stroke="#1a1a1a" stroke-width="0.8" fill="none"/>
<rect x="307.57" y="226.26" width="3" height="3" stroke="#1a1a1a" stroke-width="0.8" fill="none"/>
<rect x="309" y="226.27" width="3" height="3" stroke="#1a1a1a" stroke-width="0.8" fill="none"/>
<rect x="309.56" y="226.06" width="3" height="3" stroke="#1a1a1a" stroke-width="0.8" fill="none"/>
<rect x="310.96" y="226.31" width="3" height="3" stroke="#1a1a1a" stroke-width="0.8" fill="none"/>
<rect x="311.85" y="226.03" width="3" height="3" stroke="#1a1a1a" stroke-width="0.8" fill="none"/>
<rect x="313.22" y="225.97" width="3" height="3" stroke="#1a1a1a" stroke-width="0.8" fill="none"/>
<rect x="314.06" y="226.24" width="3" height="3" stroke="#1a1a1a" stroke-width="0.8" fill="none"/>
<rect x="315.27" y="225.74" width="3" height="3" stroke="#1a1a1a" stroke-width="0.8" fill="none"/>
<rect x="315.85" y="225.62" width="3" height="3" stroke="#1a1a1a" stroke-width="0.8" fill="none"/>
<rect x="317.24" y="225.86" width="3" height="3" stroke="#1a1a1a" stroke-width="0.8" fill="none"/>
<rect x="318.02" y="225.88" width="3" height="3" stroke="#1a1a1a" stroke-width="0.8" fill="none"/>
<rect x="319.53" y="225.73" width="3" height="3" stroke="#1a1a1a" stroke-width="0.8" fill="none"/>
<rect x="320.79" y="225.86" width="3" height="3" stroke="#1a1a1a" stroke-width="0.8" fill="none"/>
<rect x="321.63" y="225.47" width="3" height="3" stroke="#1a1a1a" stroke-width="0.8" fill="none"/>
<rect x="322.67" y="225.47" width="3" height="3" stroke="#1a1a1a" stroke-width="0.8" fill="none"/>
<rect x="323.47" y="225.26" width="3" height="3" stroke="#1a1a1a" stroke-width="0.8" fill="none"/>
<rect x="324.88" y="225.46" width="3" height="3" stroke="#1a1a1a" stroke-width="0.8" fill="none"/>
<rect x="325.97" y="225.4" width="3" height="3" stroke="#1a1a1a" stroke-width="0.8" fill="none"/>
<rect x="326.56" y="225.12" width="3" height="3" stroke="#1a1a1a" stroke-width="0.8" fill="none"/>
<rect x="327.63" y="225.43" width="3" height="3" stroke="#1a1a1a" stroke-width="0.8" fill="none"/>
<rect x="329.04" y="225.26" width="3" height="3" stroke="#1a1a1a" stroke-width="0.8" fill="none"/>
<rect x="329.83" y="225.14" width="3" height="3" stroke="#1a1a1a" stroke-width="0.8" fill="none"/>
<rect x="331.01" y="224.73" width="3" height="3" stroke="#1a1a1a" stroke-width="0.8" fill="none"/>
<rect x="332.38" y="224.93" width="3" height="3" stroke="#1a1a1a" stroke-width="0.8" fill="none"/>
<rect x="333.36" y="224.7" width="3" height="3" stroke="#1a1a1a" stroke-width="0.8" fill="none"/>
<rect x="334.34" y="224.7" width="3" height="3" stroke="#1a1a1a" stroke-width="0.8" fill="none"/>
<rect x="335.33" y="224.71" width="3" height="3" stroke="#1a1a1a" stroke-width="0.8" fill="none"/>
<rect x="336.41" y="224.52" width="3" height="3" stroke="#1a1a1a" stroke-width="0.8" fill="none"/>
<rect x="337.42" y="224.38" width="3" height="3" stroke="#1a1a1a" stroke-width="0.8" fill="none"/>
<rect x="338.35" y="224.71" width="3" height="3" stroke="#1a1a1a" stroke-width="0.8" fill="none"/>
<rect x="339.47" y="224.41" width="3" height="3" stroke="#1a1a1a" stroke-width="0.8" fill="none"/>
<rect x="340.33" y="224.11" width="3" height="3" stroke="#1a1a1a" stroke-width="0.8" fill="none"/>
<rect x="341.88" y="224.23" width="3" height="3" stroke="#1a1a1a" stroke-width="0.8" fill="none"/>
<rect x="342.71" y="224.01" width="3" height="3" stroke="#1a1a1a" stroke-width="0.8" fill="none"/>
<rect x="343.47" y="224.08" width="3" height="3" stroke="#1a1a1a" stroke-width="0.8" fill="none"/>
<rect x="344.92" y="224.24" width="3" height="3" stroke="#1a1a1a" stroke-width="0.8" fill="none"/>
<rect x="345.85" y="223.84" width="3" height="3" stroke="#1a1a1a" stroke-width="0.8" fill="none"/>
<rect x="347.18" y="223.61" width="3" height="3" stroke="#1a1a1a" stroke-width="0.8" fill="none"/>
<rect x="347.44" y="223.56" width="3" height="3" stroke="#1a1a1a" stroke-width="0.8" fill="none"/>
<rect x="348.88" y="223.72" width="3" height="3" stroke="#1a1a1a" stroke-width="0.8" fill="none"/>
<rect x="349.73" y="223.56" width="3" height="3" stroke="#1a1a1a" stroke-width="0.8" fill="none"/>
<rect x="351.49" y="223.48" width="3" height="3" stroke="#1a1a1a" stroke-width="0.8" fill="none"/>
<rect x="352.14" y="223.62" width="3" height="3" stroke="#1a1a1a" stroke-width="0.8" fill="none"/>
<rect x="352.87" y="223.33" width="3" height="3" stroke="#1a1a1a" stroke-width="0.8" fill="none"/>
<rect x="354.06" y="223.23" width="3" height="3" stroke="#1a1a1a" stroke-width="0.8" fill="none"/>
<rect x="355.02" y="222.95" width="3" height="3" stroke="#1a1a1a" stroke-width="0.8" fill="none"/>
<rect x="356.03" y="222.91" width="3" height="3" stroke="#1a1a1a" stroke-width="0.8" fill="none"/>
<rect x="357.12" y="222.96" width="3" height="3" stroke="#1a1a1a" stroke-width="0.8" fill="none"/>
<rect x="358.11" y="223.21" width="3" height="3" stroke="#1a1a1a" stroke-width="0.8" fill="none"/>
<rect x="359.12" y="223.16" width="3" height="3" stroke="#1a1a1a" stroke-width="0.8" fill="none"/>
<rect x="360.19" y="223.04" width="3" height="3" stroke="#1a1a1a" stroke-width="0.8" fill="none"/>
<rect x="226.1" y="145.3" width="44.5" height="49.1" fill="#fff" stroke="#222" stroke-width="0.5"/>
<path d="M228.75 150.7H232.25M230.5 148.95V152.45" stroke="#111" stroke-width="0.8" fill="none"/>
<text class="lg" transform="translate(232.9 153.3) scale(0.78 1)" font-size="7.5" fill="#151515">OMDPSO</text>
<ellipse cx="230.5" cy="160.6" rx="1.57" ry="1.33" stroke="#FF0000" stroke-width="0.7" fill="none"/>
<text class="lg" transform="translate(232.9 163.2) scale(0.78 1)" font-size="7.5" fill="#151515">OMDPSO+</text>
<path d="M228.9 168.8L232.1 172M228.9 172L232.1 168.8" stroke="#222" stroke-width="0.6" fill="none"/>
<text class="lg" transform="translate(232.9 173) scale(0.78 1)" font-size="7.5" fill="#151515">MMDPSO</text>
<path d="M230.5 178.6L232.2 180.3L230.5 182L228.8 180.3Z" fill="#FFC000"/>
<text class="lg" transform="translate(232.9 182.9) scale(0.78 1)" font-size="7.5" fill="#151515">MMDPSO+</text>
<rect x="229.15" y="188.75" width="2.7" height="2.7" stroke="#1a1a1a" stroke-width="0.65" fill="none"/>
<text class="lg" transform="translate(232.9 192.7) scale(0.765 1)" font-size="7.5" fill="#151515">Best-known PF</text></g>
<g><path d="M398.8 143.2H540.4" stroke="#e8e8e8" stroke-width="0.5"/>
<path d="M398.8 152.42H540.4" stroke="#e8e8e8" stroke-width="0.5"/>
<path d="M398.8 161.64H540.4" stroke="#e8e8e8" stroke-width="0.5"/>
<path d="M398.8 170.86H540.4" stroke="#e8e8e8" stroke-width="0.5"/>
<path d="M398.8 180.08H540.4" stroke="#e8e8e8" stroke-width="0.5"/>
<path d="M398.8 189.3H540.4" stroke="#e8e8e8" stroke-width="0.5"/>
<path d="M398.8 198.52H540.4" stroke="#e8e8e8" stroke-width="0.5"/>
<path d="M398.8 207.74H540.4" stroke="#e8e8e8" stroke-width="0.5"/>
<path d="M398.8 216.96H540.4" stroke="#e8e8e8" stroke-width="0.5"/>
<path d="M398.8 226.18H540.4" stroke="#e8e8e8" stroke-width="0.5"/>
<path d="M398.8 235.4H540.4" stroke="#e8e8e8" stroke-width="0.5"/>
<path d="M422.4 143.2V235.4" stroke="#e8e8e8" stroke-width="0.5"/>
<path d="M446 143.2V235.4" stroke="#e8e8e8" stroke-width="0.5"/>
<path d="M469.6 143.2V235.4" stroke="#e8e8e8" stroke-width="0.5"/>
<path d="M493.2 143.2V235.4" stroke="#e8e8e8" stroke-width="0.5"/>
<path d="M516.8 143.2V235.4" stroke="#e8e8e8" stroke-width="0.5"/>
<path d="M540.4 143.2V235.4" stroke="#e8e8e8" stroke-width="0.5"/>
<path d="M398.8 143.2V235.4H540.4" stroke="#505050" stroke-width="0.5" fill="none"/>
<path d="M398.8 143.2h1.7M398.8 145.04h1.5M398.8 146.89h1.5M398.8 148.73h1.5M398.8 150.58h1.5M398.8 152.42h1.7M398.8 154.26h1.5M398.8 156.11h1.5M398.8 157.95h1.5M398.8 159.8h1.5M398.8 161.64h1.7M398.8 163.48h1.5M398.8 165.33h1.5M398.8 167.17h1.5M398.8 169.02h1.5M398.8 170.86h1.7M398.8 172.7h1.5M398.8 174.55h1.5M398.8 176.39h1.5M398.8 178.24h1.5M398.8 180.08h1.7M398.8 181.92h1.5M398.8 183.77h1.5M398.8 185.61h1.5M398.8 187.46h1.5M398.8 189.3h1.7M398.8 191.14h1.5M398.8 192.99h1.5M398.8 194.83h1.5M398.8 196.68h1.5M398.8 198.52h1.7M398.8 200.36h1.5M398.8 202.21h1.5M398.8 204.05h1.5M398.8 205.9h1.5M398.8 207.74h1.7M398.8 209.58h1.5M398.8 211.43h1.5M398.8 213.27h1.5M398.8 215.12h1.5M398.8 216.96h1.7M398.8 218.8h1.5M398.8 220.65h1.5M398.8 222.49h1.5M398.8 224.34h1.5M398.8 226.18h1.7M398.8 228.02h1.5M398.8 229.87h1.5M398.8 231.71h1.5M398.8 233.56h1.5M398.8 235.4h1.7M398.8 235.4v-1.7M403.52 235.4v-1.5M408.24 235.4v-1.5M412.96 235.4v-1.5M417.68 235.4v-1.5M422.4 235.4v-1.7M427.12 235.4v-1.5M431.84 235.4v-1.5M436.56 235.4v-1.5M441.28 235.4v-1.5M446 235.4v-1.7M450.72 235.4v-1.5M455.44 235.4v-1.5M460.16 235.4v-1.5M464.88 235.4v-1.5M469.6 235.4v-1.7M474.32 235.4v-1.5M479.04 235.4v-1.5M483.76 235.4v-1.5M488.48 235.4v-1.5M493.2 235.4v-1.7M497.92 235.4v-1.5M502.64 235.4v-1.5M507.36 235.4v-1.5M512.08 235.4v-1.5M516.8 235.4v-1.7M521.52 235.4v-1.5M526.24 235.4v-1.5M530.96 235.4v-1.5M535.68 235.4v-1.5M540.4 235.4v-1.7" stroke="#505050" stroke-width="0.4" fill="none"/>
<text class="tk" transform="translate(393.6 145.3) scale(0.885 1)" font-size="7.4" text-anchor="end" fill="#595959">22.0</text>
<text class="tk" transform="translate(393.6 154.52) scale(0.885 1)" font-size="7.4" text-anchor="end" fill="#595959">20.0</text>
<text class="tk" transform="translate(393.6 163.74) scale(0.885 1)" font-size="7.4" text-anchor="end" fill="#595959">18.0</text>
<text class="tk" transform="translate(393.6 172.96) scale(0.885 1)" font-size="7.4" text-anchor="end" fill="#595959">16.0</text>
<text class="tk" transform="translate(393.6 182.18) scale(0.885 1)" font-size="7.4" text-anchor="end" fill="#595959">14.0</text>
<text class="tk" transform="translate(393.6 191.4) scale(0.885 1)" font-size="7.4" text-anchor="end" fill="#595959">12.0</text>
<text class="tk" transform="translate(393.6 200.62) scale(0.885 1)" font-size="7.4" text-anchor="end" fill="#595959">10.0</text>
<text class="tk" transform="translate(393.6 209.84) scale(0.885 1)" font-size="7.4" text-anchor="end" fill="#595959">8.0</text>
<text class="tk" transform="translate(393.6 219.06) scale(0.885 1)" font-size="7.4" text-anchor="end" fill="#595959">6.0</text>
<text class="tk" transform="translate(393.6 228.28) scale(0.885 1)" font-size="7.4" text-anchor="end" fill="#595959">4.0</text>
<text class="tk" transform="translate(393.6 237.5) scale(0.885 1)" font-size="7.4" text-anchor="end" fill="#595959">2.0</text>
<text class="tk" transform="translate(398.8 245.1) scale(0.885 1)" font-size="7.4" text-anchor="middle" fill="#595959">0.88</text>
<text class="tk" transform="translate(422.4 245.1) scale(0.885 1)" font-size="7.4" text-anchor="middle" fill="#595959">0.895</text>
<text class="tk" transform="translate(446 245.1) scale(0.885 1)" font-size="7.4" text-anchor="middle" fill="#595959">0.91</text>
<text class="tk" transform="translate(469.6 245.1) scale(0.885 1)" font-size="7.4" text-anchor="middle" fill="#595959">0.925</text>
<text class="tk" transform="translate(493.2 245.1) scale(0.885 1)" font-size="7.4" text-anchor="middle" fill="#595959">0.94</text>
<text class="tk" transform="translate(516.8 245.1) scale(0.885 1)" font-size="7.4" text-anchor="middle" fill="#595959">0.955</text>
<text class="tk" transform="translate(540.4 245.1) scale(0.885 1)" font-size="7.4" text-anchor="middle" fill="#595959">0.97</text>
<text class="ti" transform="translate(469.3 256.6) scale(0.92 1)" font-size="7.9" text-anchor="middle" fill="#5e5e5e">Network Resilience</text>
<text class="ti" transform="translate(380.2 190.2) rotate(-90) scale(0.92 1)" font-size="7.9" text-anchor="middle" fill="#5e5e5e">Cost in millions  (€)</text>
<path d="M398.29 175.01H401.99M400.14 173.16V176.86" stroke="#262626" stroke-width="0.6" fill="none"/>
<path d="M399.97 176.33H403.67M401.82 174.48V178.18" stroke="#262626" stroke-width="0.6" fill="none"/>
<path d="M401.74 175.58H405.44M403.59 173.73V177.43" stroke="#262626" stroke-width="0.6" fill="none"/>
<path d="M404.46 173.98H408.16M406.31 172.13V175.83" stroke="#262626" stroke-width="0.6" fill="none"/>
<path d="M406.64 172.94H410.34M408.49 171.09V174.79" stroke="#262626" stroke-width="0.6" fill="none"/>
<path d="M408.94 172.47H412.64M410.79 170.62V174.32" stroke="#262626" stroke-width="0.6" fill="none"/>
<path d="M409.86 170.77H413.56M411.71 168.92V172.62" stroke="#262626" stroke-width="0.6" fill="none"/>
<path d="M411.76 170.84H415.46M413.61 168.99V172.69" stroke="#262626" stroke-width="0.6" fill="none"/>
<path d="M413.68 170.65H417.38M415.53 168.8V172.5" stroke="#262626" stroke-width="0.6" fill="none"/>
<path d="M414.51 169.23H418.21M416.36 167.38V171.08" stroke="#262626" stroke-width="0.6" fill="none"/>
<path d="M417.23 167.82H420.93M419.08 165.97V169.67" stroke="#262626" stroke-width="0.6" fill="none"/>
<path d="M419.13 166.94H422.83M420.98 165.09V168.79" stroke="#262626" stroke-width="0.6" fill="none"/>
<path d="M420.63 167.09H424.33M422.48 165.24V168.94" stroke="#262626" stroke-width="0.6" fill="none"/>
<path d="M422.97 164.86H426.67M424.82 163.01V166.71" stroke="#262626" stroke-width="0.6" fill="none"/>
<path d="M423.83 164.84H427.53M425.68 162.99V166.69" stroke="#262626" stroke-width="0.6" fill="none"/>
<path d="M426.61 161.84H430.31M428.46 159.99V163.69" stroke="#262626" stroke-width="0.6" fill="none"/>
<path d="M426.73 162.98H430.43M428.58 161.13V164.83" stroke="#262626" stroke-width="0.6" fill="none"/>
<path d="M428.36 162.16H432.06M430.21 160.31V164.01" stroke="#262626" stroke-width="0.6" fill="none"/>
<path d="M431.15 161.81H434.85M433 159.96V163.66" stroke="#262626" stroke-width="0.6" fill="none"/>
<path d="M433.87 159.86H437.57M435.72 158.01V161.71" stroke="#262626" stroke-width="0.6" fill="none"/>
<path d="M435.76 160.8H439.46M437.61 158.95V162.65" stroke="#262626" stroke-width="0.6" fill="none"/>
<path d="M438.63 160.93H442.33M440.48 159.08V162.78" stroke="#262626" stroke-width="0.6" fill="none"/>
<path d="M438.78 159.76H442.48M440.63 157.91V161.61" stroke="#262626" stroke-width="0.6" fill="none"/>
<path d="M441.22 158.65H444.92M443.07 156.8V160.5" stroke="#262626" stroke-width="0.6" fill="none"/>
<path d="M442.97 158.04H446.67M444.82 156.19V159.89" stroke="#262626" stroke-width="0.6" fill="none"/>
<path d="M446.18 158.08H449.88M448.03 156.23V159.93" stroke="#262626" stroke-width="0.6" fill="none"/>
<path d="M483.09 161.87H486.79M484.94 160.02V163.72" stroke="#262626" stroke-width="0.6" fill="none"/>
<path d="M485.68 161.86H489.38M487.53 160.01V163.71" stroke="#262626" stroke-width="0.6" fill="none"/>
<path d="M485.96 160.23H489.66M487.81 158.38V162.08" stroke="#262626" stroke-width="0.6" fill="none"/>
<path d="M487.9 160.09H491.6M489.75 158.24V161.94" stroke="#262626" stroke-width="0.6" fill="none"/>
<path d="M489.48 159.3H493.18M491.33 157.45V161.15" stroke="#262626" stroke-width="0.6" fill="none"/>
<path d="M491.01 159.36H494.71M492.86 157.51V161.21" stroke="#262626" stroke-width="0.6" fill="none"/>
<path d="M492.07 157.87H495.77M493.92 156.02V159.72" stroke="#262626" stroke-width="0.6" fill="none"/>
<path d="M493.8 157.62H497.5M495.65 155.77V159.47" stroke="#262626" stroke-width="0.6" fill="none"/>
<path d="M494.92 157.45H498.62M496.77 155.6V159.3" stroke="#262626" stroke-width="0.6" fill="none"/>
<path d="M496.7 156.82H500.4M498.55 154.97V158.67" stroke="#262626" stroke-width="0.6" fill="none"/>
<path d="M498.32 156.21H502.02M500.17 154.36V158.06" stroke="#262626" stroke-width="0.6" fill="none"/>
<path d="M499.96 154.23H503.66M501.81 152.38V156.08" stroke="#262626" stroke-width="0.6" fill="none"/>
<path d="M501.23 153.56H504.93M503.08 151.71V155.41" stroke="#262626" stroke-width="0.6" fill="none"/>
<path d="M502.75 153.56H506.45M504.6 151.71V155.41" stroke="#262626" stroke-width="0.6" fill="none"/>
<ellipse cx="399.62" cy="177.24" rx="1.8" ry="1.55" stroke="#FF0000" stroke-width="0.6" fill="#FF0000" fill-opacity="0.3"/>
<ellipse cx="400.1" cy="177.13" rx="1.8" ry="1.55" stroke="#FF0000" stroke-width="0.6" fill="#FF0000" fill-opacity="0.3"/>
<ellipse cx="400.41" cy="176.48" rx="1.8" ry="1.55" stroke="#FF0000" stroke-width="0.6" fill="#FF0000" fill-opacity="0.3"/>
<ellipse cx="400.87" cy="177.08" rx="1.8" ry="1.55" stroke="#FF0000" stroke-width="0.6" fill="#FF0000" fill-opacity="0.3"/>
<ellipse cx="401.08" cy="176.09" rx="1.8" ry="1.55" stroke="#FF0000" stroke-width="0.6" fill="#FF0000" fill-opacity="0.3"/>
<ellipse cx="402.3" cy="176.21" rx="1.8" ry="1.55" stroke="#FF0000" stroke-width="0.6" fill="#FF0000" fill-opacity="0.3"/>
<ellipse cx="402.32" cy="176.61" rx="1.8" ry="1.55" stroke="#FF0000" stroke-width="0.6" fill="#FF0000" fill-opacity="0.3"/>
<ellipse cx="402.76" cy="175.52" rx="1.8" ry="1.55" stroke="#FF0000" stroke-width="0.6" fill="#FF0000" fill-opacity="0.3"/>
<ellipse cx="403.18" cy="176.21" rx="1.8" ry="1.55" stroke="#FF0000" stroke-width="0.6" fill="#FF0000" fill-opacity="0.3"/>
<ellipse cx="403.62" cy="175.83" rx="1.8" ry="1.55" stroke="#FF0000" stroke-width="0.6" fill="#FF0000" fill-opacity="0.3"/>
<ellipse cx="404.31" cy="175.2" rx="1.8" ry="1.55" stroke="#FF0000" stroke-width="0.6" fill="#FF0000" fill-opacity="0.3"/>
<ellipse cx="404.89" cy="175.73" rx="1.8" ry="1.55" stroke="#FF0000" stroke-width="0.6" fill="#FF0000" fill-opacity="0.3"/>
<ellipse cx="405.37" cy="175.82" rx="1.8" ry="1.55" stroke="#FF0000" stroke-width="0.6" fill="#FF0000" fill-opacity="0.3"/>
<ellipse cx="405.49" cy="174.98" rx="1.8" ry="1.55" stroke="#FF0000" stroke-width="0.6" fill="#FF0000" fill-opacity="0.3"/>
<ellipse cx="406.19" cy="174.98" rx="1.8" ry="1.55" stroke="#FF0000" stroke-width="0.6" fill="#FF0000" fill-opacity="0.3"/>
<ellipse cx="406.61" cy="175.1" rx="1.8" ry="1.55" stroke="#FF0000" stroke-width="0.6" fill="#FF0000" fill-opacity="0.3"/>
<ellipse cx="407.35" cy="174.23" rx="1.8" ry="1.55" stroke="#FF0000" stroke-width="0.6" fill="#FF0000" fill-opacity="0.3"/>
<ellipse cx="407.66" cy="174.92" rx="1.8" ry="1.55" stroke="#FF0000" stroke-width="0.6" fill="#FF0000" fill-opacity="0.3"/>
<ellipse cx="408.71" cy="174.31" rx="1.8" ry="1.55" stroke="#FF0000" stroke-width="0.6" fill="#FF0000" fill-opacity="0.3"/>
<ellipse cx="408.56" cy="174.49" rx="1.8" ry="1.55" stroke="#FF0000" stroke-width="0.6" fill="#FF0000" fill-opacity="0.3"/>
<ellipse cx="409.48" cy="173.59" rx="1.8" ry="1.55" stroke="#FF0000" stroke-width="0.6" fill="#FF0000" fill-opacity="0.3"/>
<ellipse cx="409.92" cy="174" rx="1.8" ry="1.55" stroke="#FF0000" stroke-width="0.6" fill="#FF0000" fill-opacity="0.3"/>
<ellipse cx="409.94" cy="173.28" rx="1.8" ry="1.55" stroke="#FF0000" stroke-width="0.6" fill="#FF0000" fill-opacity="0.3"/>
<ellipse cx="410.76" cy="173.84" rx="1.8" ry="1.55" stroke="#FF0000" stroke-width="0.6" fill="#FF0000" fill-opacity="0.3"/>
<ellipse cx="411.19" cy="172.67" rx="1.8" ry="1.55" stroke="#FF0000" stroke-width="0.6" fill="#FF0000" fill-opacity="0.3"/>
<ellipse cx="411.77" cy="172.66" rx="1.8" ry="1.55" stroke="#FF0000" stroke-width="0.6" fill="#FF0000" fill-opacity="0.3"/>
<ellipse cx="412.13" cy="171.98" rx="1.8" ry="1.55" stroke="#FF0000" stroke-width="0.6" fill="#FF0000" fill-opacity="0.3"/>
<ellipse cx="412.23" cy="172.05" rx="1.8" ry="1.55" stroke="#FF0000" stroke-width="0.6" fill="#FF0000" fill-opacity="0.3"/>
<ellipse cx="412.63" cy="172.27" rx="1.8" ry="1.55" stroke="#FF0000" stroke-width="0.6" fill="#FF0000" fill-opacity="0.3"/>
<ellipse cx="412.84" cy="171.84" rx="1.8" ry="1.55" stroke="#FF0000" stroke-width="0.6" fill="#FF0000" fill-opacity="0.3"/>
<ellipse cx="413.49" cy="171.86" rx="1.8" ry="1.55" stroke="#FF0000" stroke-width="0.6" fill="#FF0000" fill-opacity="0.3"/>
<ellipse cx="414.03" cy="170.64" rx="1.8" ry="1.55" stroke="#FF0000" stroke-width="0.6" fill="#FF0000" fill-opacity="0.3"/>
<ellipse cx="414.22" cy="171.05" rx="1.8" ry="1.55" stroke="#FF0000" stroke-width="0.6" fill="#FF0000" fill-opacity="0.3"/>
<ellipse cx="414.81" cy="170.55" rx="1.8" ry="1.55" stroke="#FF0000" stroke-width="0.6" fill="#FF0000" fill-opacity="0.3"/>
<ellipse cx="415.4" cy="170.07" rx="1.8" ry="1.55" stroke="#FF0000" stroke-width="0.6" fill="#FF0000" fill-opacity="0.3"/>
<ellipse cx="415.95" cy="170.05" rx="1.8" ry="1.55" stroke="#FF0000" stroke-width="0.6" fill="#FF0000" fill-opacity="0.3"/>
<ellipse cx="416.61" cy="169.86" rx="1.8" ry="1.55" stroke="#FF0000" stroke-width="0.6" fill="#FF0000" fill-opacity="0.3"/>
<ellipse cx="416.34" cy="170.19" rx="1.8" ry="1.55" stroke="#FF0000" stroke-width="0.6" fill="#FF0000" fill-opacity="0.3"/>
<ellipse cx="417.02" cy="169.59" rx="1.8" ry="1.55" stroke="#FF0000" stroke-width="0.6" fill="#FF0000" fill-opacity="0.3"/>
<ellipse cx="417.46" cy="168.94" rx="1.8" ry="1.55" stroke="#FF0000" stroke-width="0.6" fill="#FF0000" fill-opacity="0.3"/>
<ellipse cx="418.09" cy="168.85" rx="1.8" ry="1.55" stroke="#FF0000" stroke-width="0.6" fill="#FF0000" fill-opacity="0.3"/>
<ellipse cx="418.36" cy="168.5" rx="1.8" ry="1.55" stroke="#FF0000" stroke-width="0.6" fill="#FF0000" fill-opacity="0.3"/>
<ellipse cx="418.69" cy="169.01" rx="1.8" ry="1.55" stroke="#FF0000" stroke-width="0.6" fill="#FF0000" fill-opacity="0.3"/>
<ellipse cx="419.67" cy="167.77" rx="1.8" ry="1.55" stroke="#FF0000" stroke-width="0.6" fill="#FF0000" fill-opacity="0.3"/>
<ellipse cx="420.04" cy="168.3" rx="1.8" ry="1.55" stroke="#FF0000" stroke-width="0.6" fill="#FF0000" fill-opacity="0.3"/>
<ellipse cx="420.48" cy="167.52" rx="1.8" ry="1.55" stroke="#FF0000" stroke-width="0.6" fill="#FF0000" fill-opacity="0.3"/>
<ellipse cx="420.68" cy="167.3" rx="1.8" ry="1.55" stroke="#FF0000" stroke-width="0.6" fill="#FF0000" fill-opacity="0.3"/>
<ellipse cx="421.02" cy="167.48" rx="1.8" ry="1.55" stroke="#FF0000" stroke-width="0.6" fill="#FF0000" fill-opacity="0.3"/>
<ellipse cx="421.87" cy="166.73" rx="1.8" ry="1.55" stroke="#FF0000" stroke-width="0.6" fill="#FF0000" fill-opacity="0.3"/>
<ellipse cx="422.04" cy="167.02" rx="1.8" ry="1.55" stroke="#FF0000" stroke-width="0.6" fill="#FF0000" fill-opacity="0.3"/>
<ellipse cx="422.86" cy="166.17" rx="1.8" ry="1.55" stroke="#FF0000" stroke-width="0.6" fill="#FF0000" fill-opacity="0.3"/>
<ellipse cx="423.05" cy="167.05" rx="1.8" ry="1.55" stroke="#FF0000" stroke-width="0.6" fill="#FF0000" fill-opacity="0.3"/>
<ellipse cx="423.45" cy="166.54" rx="1.8" ry="1.55" stroke="#FF0000" stroke-width="0.6" fill="#FF0000" fill-opacity="0.3"/>
<ellipse cx="424.02" cy="166.31" rx="1.8" ry="1.55" stroke="#FF0000" stroke-width="0.6" fill="#FF0000" fill-opacity="0.3"/>
<ellipse cx="424.7" cy="165.27" rx="1.8" ry="1.55" stroke="#FF0000" stroke-width="0.6" fill="#FF0000" fill-opacity="0.3"/>
<ellipse cx="425.03" cy="165.39" rx="1.8" ry="1.55" stroke="#FF0000" stroke-width="0.6" fill="#FF0000" fill-opacity="0.3"/>
<ellipse cx="425.07" cy="165.68" rx="1.8" ry="1.55" stroke="#FF0000" stroke-width="0.6" fill="#FF0000" fill-opacity="0.3"/>
<ellipse cx="425.69" cy="164.92" rx="1.8" ry="1.55" stroke="#FF0000" stroke-width="0.6" fill="#FF0000" fill-opacity="0.3"/>
<ellipse cx="425.98" cy="164.65" rx="1.8" ry="1.55" stroke="#FF0000" stroke-width="0.6" fill="#FF0000" fill-opacity="0.3"/>
<ellipse cx="426.97" cy="165.25" rx="1.8" ry="1.55" stroke="#FF0000" stroke-width="0.6" fill="#FF0000" fill-opacity="0.3"/>
<ellipse cx="427.3" cy="164.39" rx="1.8" ry="1.55" stroke="#FF0000" stroke-width="0.6" fill="#FF0000" fill-opacity="0.3"/>
<ellipse cx="427.91" cy="164.31" rx="1.8" ry="1.55" stroke="#FF0000" stroke-width="0.6" fill="#FF0000" fill-opacity="0.3"/>
<ellipse cx="427.81" cy="163.85" rx="1.8" ry="1.55" stroke="#FF0000" stroke-width="0.6" fill="#FF0000" fill-opacity="0.3"/>
<ellipse cx="428.58" cy="162.84" rx="1.8" ry="1.55" stroke="#FF0000" stroke-width="0.6" fill="#FF0000" fill-opacity="0.3"/>
<ellipse cx="428.64" cy="162.59" rx="1.8" ry="1.55" stroke="#FF0000" stroke-width="0.6" fill="#FF0000" fill-opacity="0.3"/>
<ellipse cx="429.27" cy="162.8" rx="1.8" ry="1.55" stroke="#FF0000" stroke-width="0.6" fill="#FF0000" fill-opacity="0.3"/>
<ellipse cx="429.49" cy="162.89" rx="1.8" ry="1.55" stroke="#FF0000" stroke-width="0.6" fill="#FF0000" fill-opacity="0.3"/>
<ellipse cx="430.13" cy="162.45" rx="1.8" ry="1.55" stroke="#FF0000" stroke-width="0.6" fill="#FF0000" fill-opacity="0.3"/>
<ellipse cx="430.51" cy="161.98" rx="1.8" ry="1.55" stroke="#FF0000" stroke-width="0.6" fill="#FF0000" fill-opacity="0.3"/>
<ellipse cx="431.14" cy="162.44" rx="1.8" ry="1.55" stroke="#FF0000" stroke-width="0.6" fill="#FF0000" fill-opacity="0.3"/>
<ellipse cx="431.54" cy="162.05" rx="1.8" ry="1.55" stroke="#FF0000" stroke-width="0.6" fill="#FF0000" fill-opacity="0.3"/>
<ellipse cx="431.81" cy="162.49" rx="1.8" ry="1.55" stroke="#FF0000" stroke-width="0.6" fill="#FF0000" fill-opacity="0.3"/>
<ellipse cx="432.34" cy="162.32" rx="1.8" ry="1.55" stroke="#FF0000" stroke-width="0.6" fill="#FF0000" fill-opacity="0.3"/>
<ellipse cx="432.59" cy="161.89" rx="1.8" ry="1.55" stroke="#FF0000" stroke-width="0.6" fill="#FF0000" fill-opacity="0.3"/>
<ellipse cx="433.28" cy="162.36" rx="1.8" ry="1.55" stroke="#FF0000" stroke-width="0.6" fill="#FF0000" fill-opacity="0.3"/>
<ellipse cx="434.1" cy="161.75" rx="1.8" ry="1.55" stroke="#FF0000" stroke-width="0.6" fill="#FF0000" fill-opacity="0.3"/>
<ellipse cx="434.7" cy="162.05" rx="1.8" ry="1.55" stroke="#FF0000" stroke-width="0.6" fill="#FF0000" fill-opacity="0.3"/>
<ellipse cx="435.29" cy="161.71" rx="1.8" ry="1.55" stroke="#FF0000" stroke-width="0.6" fill="#FF0000" fill-opacity="0.3"/>
<ellipse cx="435.35" cy="162.18" rx="1.8" ry="1.55" stroke="#FF0000" stroke-width="0.6" fill="#FF0000" fill-opacity="0.3"/>
<ellipse cx="435.91" cy="162.04" rx="1.8" ry="1.55" stroke="#FF0000" stroke-width="0.6" fill="#FF0000" fill-opacity="0.3"/>
<ellipse cx="436.23" cy="161.48" rx="1.8" ry="1.55" stroke="#FF0000" stroke-width="0.6" fill="#FF0000" fill-opacity="0.3"/>
<ellipse cx="436.48" cy="161.78" rx="1.8" ry="1.55" stroke="#FF0000" stroke-width="0.6" fill="#FF0000" fill-opacity="0.3"/>
<ellipse cx="437.43" cy="161.21" rx="1.8" ry="1.55" stroke="#FF0000" stroke-width="0.6" fill="#FF0000" fill-opacity="0.3"/>
<ellipse cx="437.65" cy="160.97" rx="1.8" ry="1.55" stroke="#FF0000" stroke-width="0.6" fill="#FF0000" fill-opacity="0.3"/>
<ellipse cx="438.59" cy="160.71" rx="1.8" ry="1.55" stroke="#FF0000" stroke-width="0.6" fill="#FF0000" fill-opacity="0.3"/>
<ellipse cx="438.57" cy="161.11" rx="1.8" ry="1.55" stroke="#FF0000" stroke-width="0.6" fill="#FF0000" fill-opacity="0.3"/>
<ellipse cx="439.44" cy="161.05" rx="1.8" ry="1.55" stroke="#FF0000" stroke-width="0.6" fill="#FF0000" fill-opacity="0.3"/>
<ellipse cx="439.82" cy="160.11" rx="1.8" ry="1.55" stroke="#FF0000" stroke-width="0.6" fill="#FF0000" fill-opacity="0.3"/>
<ellipse cx="440.29" cy="160.15" rx="1.8" ry="1.55" stroke="#FF0000" stroke-width="0.6" fill="#FF0000" fill-opacity="0.3"/>
<ellipse cx="440.94" cy="159.95" rx="1.8" ry="1.55" stroke="#FF0000" stroke-width="0.6" fill="#FF0000" fill-opacity="0.3"/>
<ellipse cx="441.56" cy="160.57" rx="1.8" ry="1.55" stroke="#FF0000" stroke-width="0.6" fill="#FF0000" fill-opacity="0.3"/>
<ellipse cx="441.79" cy="160.57" rx="1.8" ry="1.55" stroke="#FF0000" stroke-width="0.6" fill="#FF0000" fill-opacity="0.3"/>
<ellipse cx="442.63" cy="159.6" rx="1.8" ry="1.55" stroke="#FF0000" stroke-width="0.6" fill="#FF0000" fill-opacity="0.3"/>
<ellipse cx="442.76" cy="159.83" rx="1.8" ry="1.55" stroke="#FF0000" stroke-width="0.6" fill="#FF0000" fill-opacity="0.3"/>
<ellipse cx="442.93" cy="160.25" rx="1.8" ry="1.55" stroke="#FF0000" stroke-width="0.6" fill="#FF0000" fill-opacity="0.3"/>
<ellipse cx="443.99" cy="159.33" rx="1.8" ry="1.55" stroke="#FF0000" stroke-width="0.6" fill="#FF0000" fill-opacity="0.3"/>
<ellipse cx="444.02" cy="159.55" rx="1.8" ry="1.55" stroke="#FF0000" stroke-width="0.6" fill="#FF0000" fill-opacity="0.3"/>
<ellipse cx="444.97" cy="159.2" rx="1.8" ry="1.55" stroke="#FF0000" stroke-width="0.6" fill="#FF0000" fill-opacity="0.3"/>
<ellipse cx="445.72" cy="159.4" rx="1.8" ry="1.55" stroke="#FF0000" stroke-width="0.6" fill="#FF0000" fill-opacity="0.3"/>
<ellipse cx="445.72" cy="159.12" rx="1.8" ry="1.55" stroke="#FF0000" stroke-width="0.6" fill="#FF0000" fill-opacity="0.3"/>
<ellipse cx="446.41" cy="159.16" rx="1.8" ry="1.55" stroke="#FF0000" stroke-width="0.6" fill="#FF0000" fill-opacity="0.3"/>
<ellipse cx="446.79" cy="158.92" rx="1.8" ry="1.55" stroke="#FF0000" stroke-width="0.6" fill="#FF0000" fill-opacity="0.3"/>
<ellipse cx="447.62" cy="158.78" rx="1.8" ry="1.55" stroke="#FF0000" stroke-width="0.6" fill="#FF0000" fill-opacity="0.3"/>
<ellipse cx="448.04" cy="158.21" rx="1.8" ry="1.55" stroke="#FF0000" stroke-width="0.6" fill="#FF0000" fill-opacity="0.3"/>
<ellipse cx="448.54" cy="158.6" rx="1.8" ry="1.55" stroke="#FF0000" stroke-width="0.6" fill="#FF0000" fill-opacity="0.3"/>
<path d="M402.8 205.1L406.6 208.9M402.8 208.9L406.6 205.1" stroke="#222" stroke-width="0.5" fill="none"/>
<path d="M406.1 204.1L409.9 207.9M406.1 207.9L409.9 204.1" stroke="#222" stroke-width="0.5" fill="none"/>
<path d="M409.7 201.6L413.5 205.4M409.7 205.4L413.5 201.6" stroke="#222" stroke-width="0.5" fill="none"/>
<path d="M414.1 201.1L417.9 204.9M414.1 204.9L417.9 201.1" stroke="#222" stroke-width="0.5" fill="none"/>
<path d="M418.9 200.5L422.7 204.3M418.9 204.3L422.7 200.5" stroke="#222" stroke-width="0.5" fill="none"/>
<path d="M404.6 203.6L408.4 207.4M404.6 207.4L408.4 203.6" stroke="#222" stroke-width="0.5" fill="none"/>
<path d="M408.1 202.2L411.9 206M408.1 206L411.9 202.2" stroke="#222" stroke-width="0.5" fill="none"/>
<path d="M410.4 201.3L414.2 205.1M410.4 205.1L414.2 201.3" stroke="#222" stroke-width="0.5" fill="none"/>
<path d="M482.57 160.08L486.37 163.88M482.57 163.88L486.37 160.08" stroke="#222" stroke-width="0.5" fill="none"/>
<path d="M483.56 159.48L487.36 163.28M483.56 163.28L487.36 159.48" stroke="#222" stroke-width="0.5" fill="none"/>
<path d="M484.5 159.84L488.3 163.64M484.5 163.64L488.3 159.84" stroke="#222" stroke-width="0.5" fill="none"/>
<path d="M484.77 159.85L488.57 163.65M484.77 163.65L488.57 159.85" stroke="#222" stroke-width="0.5" fill="none"/>
<path d="M484.85 159.74L488.65 163.54M484.85 163.54L488.65 159.74" stroke="#222" stroke-width="0.5" fill="none"/>
<path d="M485.83 159.38L489.63 163.18M485.83 163.18L489.63 159.38" stroke="#222" stroke-width="0.5" fill="none"/>
<path d="M485.87 159.65L489.67 163.45M485.87 163.45L489.67 159.65" stroke="#222" stroke-width="0.5" fill="none"/>
<path d="M486.35 158.95L490.15 162.75M486.35 162.75L490.15 158.95" stroke="#222" stroke-width="0.5" fill="none"/>
<path d="M486.83 158.58L490.63 162.38M486.83 162.38L490.63 158.58" stroke="#222" stroke-width="0.5" fill="none"/>
<path d="M487.89 158.61L491.69 162.41M487.89 162.41L491.69 158.61" stroke="#222" stroke-width="0.5" fill="none"/>
<path d="M487.89 158.43L491.69 162.23M487.89 162.23L491.69 158.43" stroke="#222" stroke-width="0.5" fill="none"/>
<path d="M488.56 157.82L492.36 161.62M488.56 161.62L492.36 157.82" stroke="#222" stroke-width="0.5" fill="none"/>
<path d="M489.53 157.25L493.33 161.05M489.53 161.05L493.33 157.25" stroke="#222" stroke-width="0.5" fill="none"/>
<path d="M490.02 157.35L493.82 161.15M490.02 161.15L493.82 157.35" stroke="#222" stroke-width="0.5" fill="none"/>
<path d="M490.5 157.39L494.3 161.19M490.5 161.19L494.3 157.39" stroke="#222" stroke-width="0.5" fill="none"/>
<path d="M490.44 157.72L494.24 161.52M490.44 161.52L494.24 157.72" stroke="#222" stroke-width="0.5" fill="none"/>
<path d="M491.15 157.18L494.95 160.98M491.15 160.98L494.95 157.18" stroke="#222" stroke-width="0.5" fill="none"/>
<path d="M492.1 156.78L495.9 160.58M492.1 160.58L495.9 156.78" stroke="#222" stroke-width="0.5" fill="none"/>
<path d="M491.86 157.02L495.66 160.82M491.86 160.82L495.66 157.02" stroke="#222" stroke-width="0.5" fill="none"/>
<path d="M492.65 155.35L496.45 159.15M492.65 159.15L496.45 155.35" stroke="#222" stroke-width="0.5" fill="none"/>
<path d="M493.64 155.46L497.44 159.26M493.64 159.26L497.44 155.46" stroke="#222" stroke-width="0.5" fill="none"/>
<path d="M494.34 155.74L498.14 159.54M494.34 159.54L498.14 155.74" stroke="#222" stroke-width="0.5" fill="none"/>
<path d="M494.42 154.79L498.22 158.59M494.42 158.59L498.22 154.79" stroke="#222" stroke-width="0.5" fill="none"/>
<path d="M494.96 154.65L498.76 158.45M494.96 158.45L498.76 154.65" stroke="#222" stroke-width="0.5" fill="none"/>
<path d="M495.83 154.36L499.63 158.16M495.83 158.16L499.63 154.36" stroke="#222" stroke-width="0.5" fill="none"/>
<path d="M495.84 154.62L499.64 158.42M495.84 158.42L499.64 154.62" stroke="#222" stroke-width="0.5" fill="none"/>
<path d="M496.56 155.05L500.36 158.85M496.56 158.85L500.36 155.05" stroke="#222" stroke-width="0.5" fill="none"/>
<path d="M496.78 154.61L500.58 158.41M496.78 158.41L500.58 154.61" stroke="#222" stroke-width="0.5" fill="none"/>
<path d="M497.81 153.96L501.61 157.76M497.81 157.76L501.61 153.96" stroke="#222" stroke-width="0.5" fill="none"/>
<path d="M498.17 154.14L501.97 157.94M498.17 157.94L501.97 154.14" stroke="#222" stroke-width="0.5" fill="none"/>
<path d="M498.03 153.65L501.83 157.45M498.03 157.45L501.83 153.65" stroke="#222" stroke-width="0.5" fill="none"/>
<path d="M498.9 152.63L502.7 156.43M498.9 156.43L502.7 152.63" stroke="#222" stroke-width="0.5" fill="none"/>
<path d="M499.31 153.46L503.11 157.26M499.31 157.26L503.11 153.46" stroke="#222" stroke-width="0.5" fill="none"/>
<path d="M500.2 152.23L504 156.03M500.2 156.03L504 152.23" stroke="#222" stroke-width="0.5" fill="none"/>
<path d="M500.44 152.46L504.24 156.26M500.44 156.26L504.24 152.46" stroke="#222" stroke-width="0.5" fill="none"/>
<path d="M501.35 152.49L505.15 156.29M501.35 156.29L505.15 152.49" stroke="#222" stroke-width="0.5" fill="none"/>
<path d="M501.26 152.48L505.06 156.28M501.26 156.28L505.06 152.48" stroke="#222" stroke-width="0.5" fill="none"/>
<path d="M502.58 151.28L506.38 155.08M502.58 155.08L506.38 151.28" stroke="#222" stroke-width="0.5" fill="none"/>
<path d="M502.46 152.06L506.26 155.86M502.46 155.86L506.26 152.06" stroke="#222" stroke-width="0.5" fill="none"/>
<path d="M503.13 152.17L506.93 155.97M503.13 155.97L506.93 152.17" stroke="#222" stroke-width="0.5" fill="none"/>
<path d="M421.06 199.68L423.86 202.48M421.06 202.48L423.86 199.68" stroke="#262626" stroke-width="0.5" fill="none"/>
<path d="M421.94 198.68L424.74 201.48M421.94 201.48L424.74 198.68" stroke="#262626" stroke-width="0.5" fill="none"/>
<path d="M421.94 199.37L424.74 202.17M421.94 202.17L424.74 199.37" stroke="#262626" stroke-width="0.5" fill="none"/>
<path d="M422.99 198.77L425.79 201.57M422.99 201.57L425.79 198.77" stroke="#262626" stroke-width="0.5" fill="none"/>
<path d="M423.45 198.45L426.25 201.25M423.45 201.25L426.25 198.45" stroke="#262626" stroke-width="0.5" fill="none"/>
<path d="M424.74 198.13L427.54 200.93M424.74 200.93L427.54 198.13" stroke="#262626" stroke-width="0.5" fill="none"/>
<path d="M425.19 198.17L427.99 200.97M425.19 200.97L427.99 198.17" stroke="#262626" stroke-width="0.5" fill="none"/>
<path d="M426.26 198.13L429.06 200.93M426.26 200.93L429.06 198.13" stroke="#262626" stroke-width="0.5" fill="none"/>
<path d="M426.96 197.63L429.76 200.43M426.96 200.43L429.76 197.63" stroke="#262626" stroke-width="0.5" fill="none"/>
<path d="M427.8 197.7L430.6 200.5M427.8 200.5L430.6 197.7" stroke="#262626" stroke-width="0.5" fill="none"/>
<path d="M427.69 197.51L430.49 200.31M427.69 200.31L430.49 197.51" stroke="#262626" stroke-width="0.5" fill="none"/>
<path d="M429.23 197.02L432.03 199.82M429.23 199.82L432.03 197.02" stroke="#262626" stroke-width="0.5" fill="none"/>
<path d="M429.33 197.41L432.13 200.21M429.33 200.21L432.13 197.41" stroke="#262626" stroke-width="0.5" fill="none"/>
<path d="M430.24 196.58L433.04 199.38M430.24 199.38L433.04 196.58" stroke="#262626" stroke-width="0.5" fill="none"/>
<path d="M430.5 196.48L433.3 199.28M430.5 199.28L433.3 196.48" stroke="#262626" stroke-width="0.5" fill="none"/>
<path d="M431.99 196.88L434.79 199.68M431.99 199.68L434.79 196.88" stroke="#262626" stroke-width="0.5" fill="none"/>
<path d="M432.07 196.7L434.87 199.5M432.07 199.5L434.87 196.7" stroke="#262626" stroke-width="0.5" fill="none"/>
<path d="M432.81 196.05L435.61 198.85M432.81 198.85L435.61 196.05" stroke="#262626" stroke-width="0.5" fill="none"/>
<path d="M433.43 195.83L436.23 198.63M433.43 198.63L436.23 195.83" stroke="#262626" stroke-width="0.5" fill="none"/>
<path d="M434.87 195.48L437.67 198.28M434.87 198.28L437.67 195.48" stroke="#262626" stroke-width="0.5" fill="none"/>
<path d="M435.44 195.48L438.24 198.28M435.44 198.28L438.24 195.48" stroke="#262626" stroke-width="0.5" fill="none"/>
<path d="M436.31 195.49L439.11 198.29M436.31 198.29L439.11 195.49" stroke="#262626" stroke-width="0.5" fill="none"/>
<path d="M436.34 195.36L439.14 198.16M436.34 198.16L439.14 195.36" stroke="#262626" stroke-width="0.5" fill="none"/>
<path d="M437.48 195.07L440.28 197.87M437.48 197.87L440.28 195.07" stroke="#262626" stroke-width="0.5" fill="none"/>
<path d="M438.13 194.55L440.93 197.35M438.13 197.35L440.93 194.55" stroke="#262626" stroke-width="0.5" fill="none"/>
<path d="M439.15 194.27L441.95 197.07M439.15 197.07L441.95 194.27" stroke="#262626" stroke-width="0.5" fill="none"/>
<path d="M439.49 194.56L442.29 197.36M439.49 197.36L442.29 194.56" stroke="#262626" stroke-width="0.5" fill="none"/>
<path d="M440.32 194.27L443.12 197.07M440.32 197.07L443.12 194.27" stroke="#262626" stroke-width="0.5" fill="none"/>
<path d="M441.31 193.76L444.11 196.56M441.31 196.56L444.11 193.76" stroke="#262626" stroke-width="0.5" fill="none"/>
<path d="M441.27 193.84L444.07 196.64M441.27 196.64L444.07 193.84" stroke="#262626" stroke-width="0.5" fill="none"/>
<path d="M442.77 193.45L445.57 196.25M442.77 196.25L445.57 193.45" stroke="#262626" stroke-width="0.5" fill="none"/>
<path d="M443.07 193.15L445.87 195.95M443.07 195.95L445.87 193.15" stroke="#262626" stroke-width="0.5" fill="none"/>
<path d="M444.38 193.28L447.18 196.08M444.38 196.08L447.18 193.28" stroke="#262626" stroke-width="0.5" fill="none"/>
<path d="M444.97 192.86L447.77 195.66M444.97 195.66L447.77 192.86" stroke="#262626" stroke-width="0.5" fill="none"/>
<path d="M445.81 192.59L448.61 195.39M445.81 195.39L448.61 192.59" stroke="#262626" stroke-width="0.5" fill="none"/>
<path d="M446.27 192.49L449.07 195.29M446.27 195.29L449.07 192.49" stroke="#262626" stroke-width="0.5" fill="none"/>
<path d="M446.92 192.49L449.72 195.29M446.92 195.29L449.72 192.49" stroke="#262626" stroke-width="0.5" fill="none"/>
<path d="M447.67 192.58L450.47 195.38M447.67 195.38L450.47 192.58" stroke="#262626" stroke-width="0.5" fill="none"/>
<path d="M447.9 191.69L450.7 194.49M447.9 194.49L450.7 191.69" stroke="#262626" stroke-width="0.5" fill="none"/>
<path d="M448.92 192.17L451.72 194.97M448.92 194.97L451.72 192.17" stroke="#262626" stroke-width="0.5" fill="none"/>
<path d="M449.84 191.53L452.64 194.33M449.84 194.33L452.64 191.53" stroke="#262626" stroke-width="0.5" fill="none"/>
<path d="M450.27 191.75L453.07 194.55M450.27 194.55L453.07 191.75" stroke="#262626" stroke-width="0.5" fill="none"/>
<path d="M451.56 190.89L454.36 193.69M451.56 193.69L454.36 190.89" stroke="#262626" stroke-width="0.5" fill="none"/>
<path d="M452.14 191.03L454.94 193.83M452.14 193.83L454.94 191.03" stroke="#262626" stroke-width="0.5" fill="none"/>
<path d="M453.1 191.01L455.9 193.81M453.1 193.81L455.9 191.01" stroke="#262626" stroke-width="0.5" fill="none"/>
<path d="M453.58 190.94L456.38 193.74M453.58 193.74L456.38 190.94" stroke="#262626" stroke-width="0.5" fill="none"/>
<path d="M453.94 190.7L456.74 193.5M453.94 193.5L456.74 190.7" stroke="#262626" stroke-width="0.5" fill="none"/>
<path d="M454.59 189.85L457.39 192.65M454.59 192.65L457.39 189.85" stroke="#262626" stroke-width="0.5" fill="none"/>
<path d="M455.75 189.83L458.55 192.63M455.75 192.63L458.55 189.83" stroke="#262626" stroke-width="0.5" fill="none"/>
<path d="M455.76 189.53L458.56 192.33M455.76 192.33L458.56 189.53" stroke="#262626" stroke-width="0.5" fill="none"/>
<path d="M457.34 189.9L460.14 192.7M457.34 192.7L460.14 189.9" stroke="#262626" stroke-width="0.5" fill="none"/>
<path d="M457.66 189.09L460.46 191.89M457.66 191.89L460.46 189.09" stroke="#262626" stroke-width="0.5" fill="none"/>
<path d="M458.35 188.75L461.15 191.55M458.35 191.55L461.15 188.75" stroke="#262626" stroke-width="0.5" fill="none"/>
<path d="M458.8 188.83L461.6 191.63M458.8 191.63L461.6 188.83" stroke="#262626" stroke-width="0.5" fill="none"/>
<path d="M459.44 188.97L462.24 191.77M459.44 191.77L462.24 188.97" stroke="#262626" stroke-width="0.5" fill="none"/>
<path d="M460.26 188.89L463.06 191.69M460.26 191.69L463.06 188.89" stroke="#262626" stroke-width="0.5" fill="none"/>
<path d="M460.72 188.62L463.52 191.42M460.72 191.42L463.52 188.62" stroke="#262626" stroke-width="0.5" fill="none"/>
<path d="M461.65 188.32L464.45 191.12M461.65 191.12L464.45 188.32" stroke="#262626" stroke-width="0.5" fill="none"/>
<path d="M462.67 187.81L465.47 190.61M462.67 190.61L465.47 187.81" stroke="#262626" stroke-width="0.5" fill="none"/>
<path d="M463.75 187.8L466.55 190.6M463.75 190.6L466.55 187.8" stroke="#262626" stroke-width="0.5" fill="none"/>
<path d="M463.98 187.27L466.78 190.07M463.98 190.07L466.78 187.27" stroke="#262626" stroke-width="0.5" fill="none"/>
<path d="M464.69 187.01L467.49 189.81M464.69 189.81L467.49 187.01" stroke="#262626" stroke-width="0.5" fill="none"/>
<path d="M465.71 187.26L468.51 190.06M465.71 190.06L468.51 187.26" stroke="#262626" stroke-width="0.5" fill="none"/>
<path d="M466.13 187.09L468.93 189.89M466.13 189.89L468.93 187.09" stroke="#262626" stroke-width="0.5" fill="none"/>
<path d="M467.03 187.28L469.83 190.08M467.03 190.08L469.83 187.28" stroke="#262626" stroke-width="0.5" fill="none"/>
<path d="M468.15 186.38L470.95 189.18M468.15 189.18L470.95 186.38" stroke="#262626" stroke-width="0.5" fill="none"/>
<path d="M468.27 186.33L471.07 189.13M468.27 189.13L471.07 186.33" stroke="#262626" stroke-width="0.5" fill="none"/>
<path d="M468.81 186.47L471.61 189.27M468.81 189.27L471.61 186.47" stroke="#262626" stroke-width="0.5" fill="none"/>
<path d="M469.88 185.94L472.68 188.74M469.88 188.74L472.68 185.94" stroke="#262626" stroke-width="0.5" fill="none"/>
<path d="M470.26 185.8L473.06 188.6M470.26 188.6L473.06 185.8" stroke="#262626" stroke-width="0.5" fill="none"/>
<path d="M471.26 185.86L474.06 188.66M471.26 188.66L474.06 185.86" stroke="#262626" stroke-width="0.5" fill="none"/>
<path d="M471.7 185.85L474.5 188.65M471.7 188.65L474.5 185.85" stroke="#262626" stroke-width="0.5" fill="none"/>
<path d="M472.35 185.6L475.15 188.4M472.35 188.4L475.15 185.6" stroke="#262626" stroke-width="0.5" fill="none"/>
<path d="M473.94 185.55L476.74 188.35M473.94 188.35L476.74 185.55" stroke="#262626" stroke-width="0.5" fill="none"/>
<path d="M474.77 185.35L477.57 188.15M474.77 188.15L477.57 185.35" stroke="#262626" stroke-width="0.5" fill="none"/>
<path d="M474.68 184.76L477.48 187.56M474.68 187.56L477.48 184.76" stroke="#262626" stroke-width="0.5" fill="none"/>
<path d="M475.64 185.16L478.44 187.96M475.64 187.96L478.44 185.16" stroke="#262626" stroke-width="0.5" fill="none"/>
<path d="M476.25 184.6L479.05 187.4M476.25 187.4L479.05 184.6" stroke="#262626" stroke-width="0.5" fill="none"/>
<path d="M477 185.09L479.8 187.89M477 187.89L479.8 185.09" stroke="#262626" stroke-width="0.5" fill="none"/>
<path d="M477.35 184.21L480.15 187.01M477.35 187.01L480.15 184.21" stroke="#262626" stroke-width="0.5" fill="none"/>
<path d="M478.79 184.64L481.59 187.44M478.79 187.44L481.59 184.64" stroke="#262626" stroke-width="0.5" fill="none"/>
<path d="M478.95 183.87L481.75 186.67M478.95 186.67L481.75 183.87" stroke="#262626" stroke-width="0.5" fill="none"/>
<path d="M480.04 184.1L482.84 186.9M480.04 186.9L482.84 184.1" stroke="#262626" stroke-width="0.5" fill="none"/>
<path d="M481.38 184.17L484.18 186.97M481.38 186.97L484.18 184.17" stroke="#262626" stroke-width="0.5" fill="none"/>
<path d="M481.74 183.5L484.54 186.3M481.74 186.3L484.54 183.5" stroke="#262626" stroke-width="0.5" fill="none"/>
<path d="M482.05 183.75L484.85 186.55M482.05 186.55L484.85 183.75" stroke="#262626" stroke-width="0.5" fill="none"/>
<path d="M482.59 183.17L485.39 185.97M482.59 185.97L485.39 183.17" stroke="#262626" stroke-width="0.5" fill="none"/>
<path d="M484.1 183.8L486.9 186.6M484.1 186.6L486.9 183.8" stroke="#262626" stroke-width="0.5" fill="none"/>
<path d="M484.66 183.47L487.46 186.27M484.66 186.27L487.46 183.47" stroke="#262626" stroke-width="0.5" fill="none"/>
<path d="M485.34 183.5L488.14 186.3M485.34 186.3L488.14 183.5" stroke="#262626" stroke-width="0.5" fill="none"/>
<path d="M399.41 203.57L401.21 205.37L399.41 207.17L397.61 205.37Z" fill="#FFC000"/>
<path d="M399.73 203.55L401.53 205.35L399.73 207.15L397.93 205.35Z" fill="#FFC000"/>
<path d="M400.61 203.48L402.41 205.28L400.61 207.08L398.81 205.28Z" fill="#FFC000"/>
<path d="M401.33 203.43L403.13 205.23L401.33 207.03L399.53 205.23Z" fill="#FFC000"/>
<path d="M402.06 203.37L403.86 205.17L402.06 206.97L400.26 205.17Z" fill="#FFC000"/>
<path d="M402.78 203.32L404.58 205.12L402.78 206.92L400.98 205.12Z" fill="#FFC000"/>
<path d="M403.93 194.2L405.73 196L403.93 197.8L402.13 196Z" fill="#FFC000"/>
<path d="M404.83 194.39L406.63 196.19L404.83 197.99L403.03 196.19Z" fill="#FFC000"/>
<path d="M405.35 193.91L407.15 195.71L405.35 197.51L403.55 195.71Z" fill="#FFC000"/>
<path d="M406.04 193.86L407.84 195.66L406.04 197.46L404.24 195.66Z" fill="#FFC000"/>
<path d="M406.7 194.17L408.5 195.97L406.7 197.77L404.9 195.97Z" fill="#FFC000"/>
<path d="M407.83 193.89L409.63 195.69L407.83 197.49L406.03 195.69Z" fill="#FFC000"/>
<path d="M408.73 193.77L410.53 195.57L408.73 197.37L406.93 195.57Z" fill="#FFC000"/>
<path d="M409.16 193.51L410.96 195.31L409.16 197.11L407.36 195.31Z" fill="#FFC000"/>
<path d="M409.79 193.71L411.59 195.51L409.79 197.31L407.99 195.51Z" fill="#FFC000"/>
<path d="M411.13 193.47L412.93 195.27L411.13 197.07L409.33 195.27Z" fill="#FFC000"/>
<path d="M411.83 193.39L413.63 195.19L411.83 196.99L410.03 195.19Z" fill="#FFC000"/>
<path d="M412.46 193.33L414.26 195.13L412.46 196.93L410.66 195.13Z" fill="#FFC000"/>
<path d="M413.1 192.97L414.9 194.77L413.1 196.57L411.3 194.77Z" fill="#FFC000"/>
<path d="M414.03 192.73L415.83 194.53L414.03 196.33L412.23 194.53Z" fill="#FFC000"/>
<path d="M414.81 192.85L416.61 194.65L414.81 196.45L413.01 194.65Z" fill="#FFC000"/>
<path d="M415.85 192.94L417.65 194.74L415.85 196.54L414.05 194.74Z" fill="#FFC000"/>
<path d="M416.48 192.37L418.28 194.17L416.48 195.97L414.68 194.17Z" fill="#FFC000"/>
<path d="M416.96 192.79L418.76 194.59L416.96 196.39L415.16 194.59Z" fill="#FFC000"/>
<path d="M417.62 192.59L419.42 194.39L417.62 196.19L415.82 194.39Z" fill="#FFC000"/>
<path d="M419.02 192.24L420.82 194.04L419.02 195.84L417.22 194.04Z" fill="#FFC000"/>
<path d="M419.61 192.35L421.41 194.15L419.61 195.95L417.81 194.15Z" fill="#FFC000"/>
<path d="M420.44 191.95L422.24 193.75L420.44 195.55L418.64 193.75Z" fill="#FFC000"/>
<path d="M420.77 191.88L422.57 193.68L420.77 195.48L418.97 193.68Z" fill="#FFC000"/>
<path d="M421.69 192.02L423.49 193.82L421.69 195.62L419.89 193.82Z" fill="#FFC000"/>
<path d="M422.69 191.86L424.49 193.66L422.69 195.46L420.89 193.66Z" fill="#FFC000"/>
<path d="M423.54 191.43L425.34 193.23L423.54 195.03L421.74 193.23Z" fill="#FFC000"/>
<path d="M423.93 191.56L425.73 193.36L423.93 195.16L422.13 193.36Z" fill="#FFC000"/>
<path d="M424.76 191.53L426.56 193.33L424.76 195.13L422.96 193.33Z" fill="#FFC000"/>
<path d="M426.06 191.23L427.86 193.03L426.06 194.83L424.26 193.03Z" fill="#FFC000"/>
<path d="M426.72 191.04L428.52 192.84L426.72 194.64L424.92 192.84Z" fill="#FFC000"/>
<path d="M427.21 191.33L429.01 193.13L427.21 194.93L425.41 193.13Z" fill="#FFC000"/>
<path d="M428.08 190.86L429.88 192.66L428.08 194.46L426.28 192.66Z" fill="#FFC000"/>
<path d="M429.17 191.16L430.97 192.96L429.17 194.76L427.37 192.96Z" fill="#FFC000"/>
<path d="M429.39 190.77L431.19 192.57L429.39 194.37L427.59 192.57Z" fill="#FFC000"/>
<path d="M430.69 190.86L432.49 192.66L430.69 194.46L428.89 192.66Z" fill="#FFC000"/>
<path d="M431.11 190.52L432.91 192.32L431.11 194.12L429.31 192.32Z" fill="#FFC000"/>
<path d="M432.29 190.65L434.09 192.45L432.29 194.25L430.49 192.45Z" fill="#FFC000"/>
<path d="M432.88 190.29L434.68 192.09L432.88 193.89L431.08 192.09Z" fill="#FFC000"/>
<path d="M433.38 190.7L435.18 192.5L433.38 194.3L431.58 192.5Z" fill="#FFC000"/>
<path d="M434.32 190.33L436.12 192.13L434.32 193.93L432.52 192.13Z" fill="#FFC000"/>
<path d="M435 189.91L436.8 191.71L435 193.51L433.2 191.71Z" fill="#FFC000"/>
<path d="M436.18 190.33L437.98 192.13L436.18 193.93L434.38 192.13Z" fill="#FFC000"/>
<path d="M436.66 189.77L438.46 191.57L436.66 193.37L434.86 191.57Z" fill="#FFC000"/>
<path d="M437.71 189.77L439.51 191.57L437.71 193.37L435.91 191.57Z" fill="#FFC000"/>
<path d="M438.32 189.62L440.12 191.42L438.32 193.22L436.52 191.42Z" fill="#FFC000"/>
<path d="M439.28 189.57L441.08 191.37L439.28 193.17L437.48 191.37Z" fill="#FFC000"/>
<path d="M440.04 189.36L441.84 191.16L440.04 192.96L438.24 191.16Z" fill="#FFC000"/>
<path d="M440.49 189.41L442.29 191.21L440.49 193.01L438.69 191.21Z" fill="#FFC000"/>
<path d="M441.53 189.57L443.33 191.37L441.53 193.17L439.73 191.37Z" fill="#FFC000"/>
<path d="M441.95 189.5L443.75 191.3L441.95 193.1L440.15 191.3Z" fill="#FFC000"/>
<path d="M442.85 182.44L444.65 184.24L442.85 186.04L441.05 184.24Z" fill="#FFC000"/>
<path d="M443.55 182.48L445.35 184.28L443.55 186.08L441.75 184.28Z" fill="#FFC000"/>
<path d="M444.31 182.21L446.11 184.01L444.31 185.81L442.51 184.01Z" fill="#FFC000"/>
<path d="M445.13 182.05L446.93 183.85L445.13 185.65L443.33 183.85Z" fill="#FFC000"/>
<path d="M445.87 181.87L447.67 183.67L445.87 185.47L444.07 183.67Z" fill="#FFC000"/>
<path d="M446.87 181.82L448.67 183.62L446.87 185.42L445.07 183.62Z" fill="#FFC000"/>
<path d="M447.39 181.84L449.19 183.64L447.39 185.44L445.59 183.64Z" fill="#FFC000"/>
<path d="M448.47 181.78L450.27 183.58L448.47 185.38L446.67 183.58Z" fill="#FFC000"/>
<path d="M449.43 181.61L451.23 183.41L449.43 185.21L447.63 183.41Z" fill="#FFC000"/>
<path d="M450 181.05L451.8 182.85L450 184.65L448.2 182.85Z" fill="#FFC000"/>
<path d="M450.99 180.82L452.79 182.62L450.99 184.42L449.19 182.62Z" fill="#FFC000"/>
<path d="M451.39 180.98L453.19 182.78L451.39 184.58L449.59 182.78Z" fill="#FFC000"/>
<path d="M451.92 163.98L453.72 165.78L451.92 167.58L450.12 165.78Z" fill="#FFC000"/>
<path d="M452.4 163.99L454.2 165.79L452.4 167.59L450.6 165.79Z" fill="#FFC000"/>
<path d="M453.14 164.02L454.94 165.82L453.14 167.62L451.34 165.82Z" fill="#FFC000"/>
<path d="M453.92 163.25L455.72 165.05L453.92 166.85L452.12 165.05Z" fill="#FFC000"/>
<path d="M454.74 163.07L456.54 164.87L454.74 166.67L452.94 164.87Z" fill="#FFC000"/>
<path d="M455.35 163.24L457.15 165.04L455.35 166.84L453.55 165.04Z" fill="#FFC000"/>
<path d="M455.93 163.15L457.73 164.95L455.93 166.75L454.13 164.95Z" fill="#FFC000"/>
<path d="M456.88 163.05L458.68 164.85L456.88 166.65L455.08 164.85Z" fill="#FFC000"/>
<path d="M457.77 162.88L459.57 164.68L457.77 166.48L455.97 164.68Z" fill="#FFC000"/>
<path d="M458.15 162.39L459.95 164.19L458.15 165.99L456.35 164.19Z" fill="#FFC000"/>
<path d="M458.79 162.67L460.59 164.47L458.79 166.27L456.99 164.47Z" fill="#FFC000"/>
<path d="M459.42 162.01L461.22 163.81L459.42 165.61L457.62 163.81Z" fill="#FFC000"/>
<path d="M460.34 161.89L462.14 163.69L460.34 165.49L458.54 163.69Z" fill="#FFC000"/>
<path d="M461.24 162.14L463.04 163.94L461.24 165.74L459.44 163.94Z" fill="#FFC000"/>
<path d="M461.75 161.46L463.55 163.26L461.75 165.06L459.95 163.26Z" fill="#FFC000"/>
<path d="M462.76 161.43L464.56 163.23L462.76 165.03L460.96 163.23Z" fill="#FFC000"/>
<path d="M463.21 161.29L465.01 163.09L463.21 164.89L461.41 163.09Z" fill="#FFC000"/>
<path d="M464.18 160.8L465.98 162.6L464.18 164.4L462.38 162.6Z" fill="#FFC000"/>
<path d="M464.79 161.07L466.59 162.87L464.79 164.67L462.99 162.87Z" fill="#FFC000"/>
<path d="M465.27 160.89L467.07 162.69L465.27 164.49L463.47 162.69Z" fill="#FFC000"/>
<path d="M465.9 160.31L467.7 162.11L465.9 163.91L464.1 162.11Z" fill="#FFC000"/>
<path d="M466.79 160.03L468.59 161.83L466.79 163.63L464.99 161.83Z" fill="#FFC000"/>
<path d="M467.2 159.67L469 161.47L467.2 163.27L465.4 161.47Z" fill="#FFC000"/>
<path d="M468.14 159.62L469.94 161.42L468.14 163.22L466.34 161.42Z" fill="#FFC000"/>
<path d="M468.82 159.21L470.62 161.01L468.82 162.81L467.02 161.01Z" fill="#FFC000"/>
<path d="M469.33 159.53L471.13 161.33L469.33 163.13L467.53 161.33Z" fill="#FFC000"/>
<path d="M469.98 159.05L471.78 160.85L469.98 162.65L468.18 160.85Z" fill="#FFC000"/>
<path d="M470.92 158.46L472.72 160.26L470.92 162.06L469.12 160.26Z" fill="#FFC000"/>
<path d="M471.42 158.61L473.22 160.41L471.42 162.21L469.62 160.41Z" fill="#FFC000"/>
<path d="M472.24 158.52L474.04 160.32L472.24 162.12L470.44 160.32Z" fill="#FFC000"/>
<path d="M473.05 158.29L474.85 160.09L473.05 161.89L471.25 160.09Z" fill="#FFC000"/>
<path d="M473.53 157.8L475.33 159.6L473.53 161.4L471.73 159.6Z" fill="#FFC000"/>
<path d="M474.11 157.43L475.91 159.23L474.11 161.03L472.31 159.23Z" fill="#FFC000"/>
<path d="M474.78 157.31L476.58 159.11L474.78 160.91L472.98 159.11Z" fill="#FFC000"/>
<path d="M476 156.95L477.8 158.75L476 160.55L474.2 158.75Z" fill="#FFC000"/>
<path d="M476.42 156.97L478.22 158.77L476.42 160.57L474.62 158.77Z" fill="#FFC000"/>
<path d="M477.15 156.2L478.95 158L477.15 159.8L475.35 158Z" fill="#FFC000"/>
<path d="M477.59 156.26L479.39 158.06L477.59 159.86L475.79 158.06Z" fill="#FFC000"/>
<path d="M478.54 156.01L480.34 157.81L478.54 159.61L476.74 157.81Z" fill="#FFC000"/>
<path d="M478.87 155.8L480.67 157.6L478.87 159.4L477.07 157.6Z" fill="#FFC000"/>
<path d="M479.73 155.25L481.53 157.05L479.73 158.85L477.93 157.05Z" fill="#FFC000"/>
<path d="M480.22 154.81L482.02 156.61L480.22 158.41L478.42 156.61Z" fill="#FFC000"/>
<path d="M481.02 154.23L482.82 156.03L481.02 157.83L479.22 156.03Z" fill="#FFC000"/>
<path d="M481.79 154.09L483.59 155.89L481.79 157.69L479.99 155.89Z" fill="#FFC000"/>
<path d="M482.41 153.5L484.21 155.3L482.41 157.1L480.61 155.3Z" fill="#FFC000"/>
<path d="M482.96 153.64L484.76 155.44L482.96 157.24L481.16 155.44Z" fill="#FFC000"/>
<path d="M483.71 153.42L485.51 155.22L483.71 157.02L481.91 155.22Z" fill="#FFC000"/>
<path d="M484.44 152.74L486.24 154.54L484.44 156.34L482.64 154.54Z" fill="#FFC000"/>
<path d="M485.18 152.34L486.98 154.14L485.18 155.94L483.38 154.14Z" fill="#FFC000"/>
<path d="M485.83 151.88L487.63 153.68L485.83 155.48L484.03 153.68Z" fill="#FFC000"/>
<path d="M486.36 151.85L488.16 153.65L486.36 155.45L484.56 153.65Z" fill="#FFC000"/>
<path d="M487.02 151.23L488.82 153.03L487.02 154.83L485.22 153.03Z" fill="#FFC000"/>
<path d="M487.38 150.92L489.18 152.72L487.38 154.52L485.58 152.72Z" fill="#FFC000"/>
<path d="M487.98 150.82L489.78 152.62L487.98 154.42L486.18 152.62Z" fill="#FFC000"/>
<path d="M488.6 150.8L490.4 152.6L488.6 154.4L486.8 152.6Z" fill="#FFC000"/>
<rect x="398.32" y="222.41" width="3" height="3" stroke="#1a1a1a" stroke-width="0.8" fill="none"/>
<rect x="398.97" y="222.12" width="3" height="3" stroke="#1a1a1a" stroke-width="0.8" fill="none"/>
<rect x="399.71" y="221.79" width="3" height="3" stroke="#1a1a1a" stroke-width="0.8" fill="none"/>
<rect x="400.87" y="222.12" width="3" height="3" stroke="#1a1a1a" stroke-width="0.8" fill="none"/>
<rect x="401.86" y="221.84" width="3" height="3" stroke="#1a1a1a" stroke-width="0.8" fill="none"/>
<rect x="402.71" y="221.39" width="3" height="3" stroke="#1a1a1a" stroke-width="0.8" fill="none"/>
<rect x="403.3" y="221.31" width="3" height="3" stroke="#1a1a1a" stroke-width="0.8" fill="none"/>
<rect x="404.27" y="221.66" width="3" height="3" stroke="#1a1a1a" stroke-width="0.8" fill="none"/>
<rect x="405.12" y="221.01" width="3" height="3" stroke="#1a1a1a" stroke-width="0.8" fill="none"/>
<rect x="405.35" y="221.39" width="3" height="3" stroke="#1a1a1a" stroke-width="0.8" fill="none"/>
<rect x="406.14" y="220.67" width="3" height="3" stroke="#1a1a1a" stroke-width="0.8" fill="none"/>
<rect x="407.14" y="220.56" width="3" height="3" stroke="#1a1a1a" stroke-width="0.8" fill="none"/>
<rect x="407.82" y="221" width="3" height="3" stroke="#1a1a1a" stroke-width="0.8" fill="none"/>
<rect x="409.03" y="220.33" width="3" height="3" stroke="#1a1a1a" stroke-width="0.8" fill="none"/>
<rect x="410.19" y="220.24" width="3" height="3" stroke="#1a1a1a" stroke-width="0.8" fill="none"/>
<rect x="410.43" y="220.31" width="3" height="3" stroke="#1a1a1a" stroke-width="0.8" fill="none"/>
<rect x="411.28" y="220.13" width="3" height="3" stroke="#1a1a1a" stroke-width="0.8" fill="none"/>
<rect x="411.7" y="219.97" width="3" height="3" stroke="#1a1a1a" stroke-width="0.8" fill="none"/>
<rect x="412.76" y="220.27" width="3" height="3" stroke="#1a1a1a" stroke-width="0.8" fill="none"/>
<rect x="413.74" y="220.14" width="3" height="3" stroke="#1a1a1a" stroke-width="0.8" fill="none"/>
<rect x="414.45" y="219.41" width="3" height="3" stroke="#1a1a1a" stroke-width="0.8" fill="none"/>
<rect x="415.62" y="218.9" width="3" height="3" stroke="#1a1a1a" stroke-width="0.8" fill="none"/>
<rect x="415.96" y="219.06" width="3" height="3" stroke="#1a1a1a" stroke-width="0.8" fill="none"/>
<rect x="416.9" y="219" width="3" height="3" stroke="#1a1a1a" stroke-width="0.8" fill="none"/>
<rect x="417.68" y="218.53" width="3" height="3" stroke="#1a1a1a" stroke-width="0.8" fill="none"/>
<rect x="418.32" y="218.57" width="3" height="3" stroke="#1a1a1a" stroke-width="0.8" fill="none"/>
<rect x="419.28" y="217.59" width="3" height="3" stroke="#1a1a1a" stroke-width="0.8" fill="none"/>
<rect x="420.11" y="217.38" width="3" height="3" stroke="#1a1a1a" stroke-width="0.8" fill="none"/>
<rect x="420.6" y="217.19" width="3" height="3" stroke="#1a1a1a" stroke-width="0.8" fill="none"/>
<rect x="421.51" y="216.94" width="3" height="3" stroke="#1a1a1a" stroke-width="0.8" fill="none"/>
<rect x="422.27" y="217.08" width="3" height="3" stroke="#1a1a1a" stroke-width="0.8" fill="none"/>
<rect x="422.88" y="216.49" width="3" height="3" stroke="#1a1a1a" stroke-width="0.8" fill="none"/>
<rect x="423.78" y="216.54" width="3" height="3" stroke="#1a1a1a" stroke-width="0.8" fill="none"/>
<rect x="424.87" y="215.8" width="3" height="3" stroke="#1a1a1a" stroke-width="0.8" fill="none"/>
<rect x="425.57" y="215.68" width="3" height="3" stroke="#1a1a1a" stroke-width="0.8" fill="none"/>
<rect x="426.81" y="215.69" width="3" height="3" stroke="#1a1a1a" stroke-width="0.8" fill="none"/>
<rect x="429.5" y="215.31" width="3" height="3" stroke="#1a1a1a" stroke-width="0.8" fill="none"/>
<rect x="430.91" y="214.6" width="3" height="3" stroke="#1a1a1a" stroke-width="0.8" fill="none"/>
<rect x="432.34" y="214.47" width="3" height="3" stroke="#1a1a1a" stroke-width="0.8" fill="none"/>
<rect x="433.14" y="214.25" width="3" height="3" stroke="#1a1a1a" stroke-width="0.8" fill="none"/>
<rect x="435.19" y="214.13" width="3" height="3" stroke="#1a1a1a" stroke-width="0.8" fill="none"/>
<rect x="436.91" y="213.23" width="3" height="3" stroke="#1a1a1a" stroke-width="0.8" fill="none"/>
<rect x="438.69" y="212.92" width="3" height="3" stroke="#1a1a1a" stroke-width="0.8" fill="none"/>
<rect x="440.55" y="212.65" width="3" height="3" stroke="#1a1a1a" stroke-width="0.8" fill="none"/>
<rect x="441.19" y="212.19" width="3" height="3" stroke="#1a1a1a" stroke-width="0.8" fill="none"/>
<rect x="443.33" y="211.79" width="3" height="3" stroke="#1a1a1a" stroke-width="0.8" fill="none"/>
<rect x="444.62" y="211.33" width="3" height="3" stroke="#1a1a1a" stroke-width="0.8" fill="none"/>
<rect x="447.02" y="210.65" width="3" height="3" stroke="#1a1a1a" stroke-width="0.8" fill="none"/>
<rect x="448.34" y="210.64" width="3" height="3" stroke="#1a1a1a" stroke-width="0.8" fill="none"/>
<rect x="449.83" y="209.91" width="3" height="3" stroke="#1a1a1a" stroke-width="0.8" fill="none"/>
<rect x="451.53" y="209.26" width="3" height="3" stroke="#1a1a1a" stroke-width="0.8" fill="none"/>
<rect x="453.83" y="208.81" width="3" height="3" stroke="#1a1a1a" stroke-width="0.8" fill="none"/>
<rect x="454.66" y="208.68" width="3" height="3" stroke="#1a1a1a" stroke-width="0.8" fill="none"/>
<rect x="455.81" y="208.7" width="3" height="3" stroke="#1a1a1a" stroke-width="0.8" fill="none"/>
<rect x="457.62" y="207.96" width="3" height="3" stroke="#1a1a1a" stroke-width="0.8" fill="none"/>
<rect x="459.13" y="207.47" width="3" height="3" stroke="#1a1a1a" stroke-width="0.8" fill="none"/>
<rect x="460.92" y="207.11" width="3" height="3" stroke="#1a1a1a" stroke-width="0.8" fill="none"/>
<rect x="462.02" y="206.82" width="3" height="3" stroke="#1a1a1a" stroke-width="0.8" fill="none"/>
<rect x="464.49" y="206.36" width="3" height="3" stroke="#1a1a1a" stroke-width="0.8" fill="none"/>
<rect x="465.62" y="206.26" width="3" height="3" stroke="#1a1a1a" stroke-width="0.8" fill="none"/>
<rect x="468.07" y="200.3" width="3" height="3" stroke="#1a1a1a" stroke-width="0.8" fill="none"/>
<rect x="470.42" y="198.4" width="3" height="3" stroke="#1a1a1a" stroke-width="0.8" fill="none"/>
<rect x="472.01" y="197.75" width="3" height="3" stroke="#1a1a1a" stroke-width="0.8" fill="none"/>
<rect x="472.71" y="196.18" width="3" height="3" stroke="#1a1a1a" stroke-width="0.8" fill="none"/>
<rect x="473.3" y="194.88" width="3" height="3" stroke="#1a1a1a" stroke-width="0.8" fill="none"/>
<rect x="475.86" y="194.11" width="3" height="3" stroke="#1a1a1a" stroke-width="0.8" fill="none"/>
<rect x="478.19" y="194.1" width="3" height="3" stroke="#1a1a1a" stroke-width="0.8" fill="none"/>
<rect x="479.25" y="193.59" width="3" height="3" stroke="#1a1a1a" stroke-width="0.8" fill="none"/>
<rect x="482.96" y="187.18" width="3" height="3" stroke="#1a1a1a" stroke-width="0.8" fill="none"/>
<rect x="482.9" y="186.73" width="3" height="3" stroke="#1a1a1a" stroke-width="0.8" fill="none"/>
<rect x="483.2" y="186.42" width="3" height="3" stroke="#1a1a1a" stroke-width="0.8" fill="none"/>
<rect x="483.76" y="186.69" width="3" height="3" stroke="#1a1a1a" stroke-width="0.8" fill="none"/>
<rect x="483.55" y="186.21" width="3" height="3" stroke="#1a1a1a" stroke-width="0.8" fill="none"/>
<rect x="484.49" y="185.99" width="3" height="3" stroke="#1a1a1a" stroke-width="0.8" fill="none"/>
<rect x="484.69" y="185.61" width="3" height="3" stroke="#1a1a1a" stroke-width="0.8" fill="none"/>
<rect x="484.65" y="184.91" width="3" height="3" stroke="#1a1a1a" stroke-width="0.8" fill="none"/>
<rect x="484.99" y="184.31" width="3" height="3" stroke="#1a1a1a" stroke-width="0.8" fill="none"/>
<rect x="485.6" y="184.19" width="3" height="3" stroke="#1a1a1a" stroke-width="0.8" fill="none"/>
<rect x="485.91" y="183.93" width="3" height="3" stroke="#1a1a1a" stroke-width="0.8" fill="none"/>
<rect x="486.11" y="183.7" width="3" height="3" stroke="#1a1a1a" stroke-width="0.8" fill="none"/>
<rect x="486.38" y="183.01" width="3" height="3" stroke="#1a1a1a" stroke-width="0.8" fill="none"/>
<rect x="486.26" y="182.59" width="3" height="3" stroke="#1a1a1a" stroke-width="0.8" fill="none"/>
<rect x="486.84" y="181.91" width="3" height="3" stroke="#1a1a1a" stroke-width="0.8" fill="none"/>
<rect x="486.77" y="182" width="3" height="3" stroke="#1a1a1a" stroke-width="0.8" fill="none"/>
<rect x="487.34" y="181.68" width="3" height="3" stroke="#1a1a1a" stroke-width="0.8" fill="none"/>
<rect x="487.26" y="181.22" width="3" height="3" stroke="#1a1a1a" stroke-width="0.8" fill="none"/>
<rect x="487.9" y="180.66" width="3" height="3" stroke="#1a1a1a" stroke-width="0.8" fill="none"/>
<rect x="488.16" y="180.41" width="3" height="3" stroke="#1a1a1a" stroke-width="0.8" fill="none"/>
<rect x="488.18" y="180.1" width="3" height="3" stroke="#1a1a1a" stroke-width="0.8" fill="none"/>
<rect x="488.92" y="179.17" width="3" height="3" stroke="#1a1a1a" stroke-width="0.8" fill="none"/>
<rect x="488.67" y="178.84" width="3" height="3" stroke="#1a1a1a" stroke-width="0.8" fill="none"/>
<rect x="488.8" y="179.02" width="3" height="3" stroke="#1a1a1a" stroke-width="0.8" fill="none"/>
<rect x="489.1" y="178.09" width="3" height="3" stroke="#1a1a1a" stroke-width="0.8" fill="none"/>
<rect x="489.6" y="177.88" width="3" height="3" stroke="#1a1a1a" stroke-width="0.8" fill="none"/>
<rect x="490.24" y="178" width="3" height="3" stroke="#1a1a1a" stroke-width="0.8" fill="none"/>
<rect x="490.39" y="177.6" width="3" height="3" stroke="#1a1a1a" stroke-width="0.8" fill="none"/>
<rect x="490.91" y="177.05" width="3" height="3" stroke="#1a1a1a" stroke-width="0.8" fill="none"/>
<rect x="491.14" y="176.6" width="3" height="3" stroke="#1a1a1a" stroke-width="0.8" fill="none"/>
<rect x="491.19" y="176.49" width="3" height="3" stroke="#1a1a1a" stroke-width="0.8" fill="none"/>
<rect x="491.55" y="175.7" width="3" height="3" stroke="#1a1a1a" stroke-width="0.8" fill="none"/>
<rect x="492.13" y="175.12" width="3" height="3" stroke="#1a1a1a" stroke-width="0.8" fill="none"/>
<rect x="492.12" y="175.53" width="3" height="3" stroke="#1a1a1a" stroke-width="0.8" fill="none"/>
<rect x="492.4" y="175.09" width="3" height="3" stroke="#1a1a1a" stroke-width="0.8" fill="none"/>
<rect x="492.89" y="174.56" width="3" height="3" stroke="#1a1a1a" stroke-width="0.8" fill="none"/>
<rect x="493.33" y="173.79" width="3" height="3" stroke="#1a1a1a" stroke-width="0.8" fill="none"/>
<rect x="493.9" y="174.08" width="3" height="3" stroke="#1a1a1a" stroke-width="0.8" fill="none"/>
<rect x="493.78" y="173.77" width="3" height="3" stroke="#1a1a1a" stroke-width="0.8" fill="none"/>
<rect x="494.26" y="173.45" width="3" height="3" stroke="#1a1a1a" stroke-width="0.8" fill="none"/>
<rect x="494.82" y="172.68" width="3" height="3" stroke="#1a1a1a" stroke-width="0.8" fill="none"/>
<rect x="495.44" y="172.29" width="3" height="3" stroke="#1a1a1a" stroke-width="0.8" fill="none"/>
<rect x="495.25" y="172.5" width="3" height="3" stroke="#1a1a1a" stroke-width="0.8" fill="none"/>
<rect x="495.72" y="172.02" width="3" height="3" stroke="#1a1a1a" stroke-width="0.8" fill="none"/>
<rect x="495.93" y="171.94" width="3" height="3" stroke="#1a1a1a" stroke-width="0.8" fill="none"/>
<rect x="496.67" y="171.41" width="3" height="3" stroke="#1a1a1a" stroke-width="0.8" fill="none"/>
<rect x="497.03" y="171.1" width="3" height="3" stroke="#1a1a1a" stroke-width="0.8" fill="none"/>
<rect x="497.52" y="170.49" width="3" height="3" stroke="#1a1a1a" stroke-width="0.8" fill="none"/>
<rect x="497.46" y="169.85" width="3" height="3" stroke="#1a1a1a" stroke-width="0.8" fill="none"/>
<rect x="498.17" y="170.34" width="3" height="3" stroke="#1a1a1a" stroke-width="0.8" fill="none"/>
<rect x="498.38" y="169.94" width="3" height="3" stroke="#1a1a1a" stroke-width="0.8" fill="none"/>
<rect x="498.37" y="169.48" width="3" height="3" stroke="#1a1a1a" stroke-width="0.8" fill="none"/>
<rect x="498.98" y="169.07" width="3" height="3" stroke="#1a1a1a" stroke-width="0.8" fill="none"/>
<rect x="499.08" y="168.75" width="3" height="3" stroke="#1a1a1a" stroke-width="0.8" fill="none"/>
<rect x="499.64" y="168.1" width="3" height="3" stroke="#1a1a1a" stroke-width="0.8" fill="none"/>
<rect x="499.76" y="168.41" width="3" height="3" stroke="#1a1a1a" stroke-width="0.8" fill="none"/>
<rect x="500.25" y="167.53" width="3" height="3" stroke="#1a1a1a" stroke-width="0.8" fill="none"/>
<rect x="500.49" y="167.55" width="3" height="3" stroke="#1a1a1a" stroke-width="0.8" fill="none"/>
<rect x="500.97" y="167.12" width="3" height="3" stroke="#1a1a1a" stroke-width="0.8" fill="none"/>
<rect x="501.65" y="166.95" width="3" height="3" stroke="#1a1a1a" stroke-width="0.8" fill="none"/>
<rect x="501.67" y="166.73" width="3" height="3" stroke="#1a1a1a" stroke-width="0.8" fill="none"/>
<rect x="501.93" y="166.44" width="3" height="3" stroke="#1a1a1a" stroke-width="0.8" fill="none"/>
<rect x="502.17" y="165.54" width="3" height="3" stroke="#1a1a1a" stroke-width="0.8" fill="none"/>
<rect x="503.03" y="165.19" width="3" height="3" stroke="#1a1a1a" stroke-width="0.8" fill="none"/>
<rect x="503.26" y="165.64" width="3" height="3" stroke="#1a1a1a" stroke-width="0.8" fill="none"/>
<rect x="503.67" y="164.75" width="3" height="3" stroke="#1a1a1a" stroke-width="0.8" fill="none"/>
<rect x="503.56" y="164.6" width="3" height="3" stroke="#1a1a1a" stroke-width="0.8" fill="none"/>
<rect x="504.1" y="163.95" width="3" height="3" stroke="#1a1a1a" stroke-width="0.8" fill="none"/>
<rect x="504.14" y="163.71" width="3" height="3" stroke="#1a1a1a" stroke-width="0.8" fill="none"/>
<rect x="504.74" y="163.29" width="3" height="3" stroke="#1a1a1a" stroke-width="0.8" fill="none"/>
<rect x="505.01" y="163.49" width="3" height="3" stroke="#1a1a1a" stroke-width="0.8" fill="none"/>
<rect x="505.65" y="162.71" width="3" height="3" stroke="#1a1a1a" stroke-width="0.8" fill="none"/>
<rect x="505.62" y="162.15" width="3" height="3" stroke="#1a1a1a" stroke-width="0.8" fill="none"/>
<rect x="505.53" y="162.23" width="3" height="3" stroke="#1a1a1a" stroke-width="0.8" fill="none"/>
<rect x="506.23" y="161.32" width="3" height="3" stroke="#1a1a1a" stroke-width="0.8" fill="none"/>
<rect x="506.35" y="161.37" width="3" height="3" stroke="#1a1a1a" stroke-width="0.8" fill="none"/>
<rect x="506.49" y="161.14" width="3" height="3" stroke="#1a1a1a" stroke-width="0.8" fill="none"/>
<rect x="506.71" y="160.69" width="3" height="3" stroke="#1a1a1a" stroke-width="0.8" fill="none"/>
<rect x="507.27" y="160.09" width="3" height="3" stroke="#1a1a1a" stroke-width="0.8" fill="none"/>
<rect x="507.63" y="159.49" width="3" height="3" stroke="#1a1a1a" stroke-width="0.8" fill="none"/>
<rect x="507.88" y="159.48" width="3" height="3" stroke="#1a1a1a" stroke-width="0.8" fill="none"/>
<rect x="508.54" y="158.55" width="3" height="3" stroke="#1a1a1a" stroke-width="0.8" fill="none"/>
<rect x="508.66" y="158.8" width="3" height="3" stroke="#1a1a1a" stroke-width="0.8" fill="none"/>
<rect x="508.8" y="157.94" width="3" height="3" stroke="#1a1a1a" stroke-width="0.8" fill="none"/>
<rect x="508.99" y="157.45" width="3" height="3" stroke="#1a1a1a" stroke-width="0.8" fill="none"/>
<rect x="508.78" y="157.68" width="3" height="3" stroke="#1a1a1a" stroke-width="0.8" fill="none"/>
<rect x="509.04" y="156.59" width="3" height="3" stroke="#1a1a1a" stroke-width="0.8" fill="none"/>
<rect x="509.54" y="156.31" width="3" height="3" stroke="#1a1a1a" stroke-width="0.8" fill="none"/>
<rect x="509.73" y="155.88" width="3" height="3" stroke="#1a1a1a" stroke-width="0.8" fill="none"/>
<rect x="510.15" y="155.41" width="3" height="3" stroke="#1a1a1a" stroke-width="0.8" fill="none"/>
<rect x="510.09" y="155.29" width="3" height="3" stroke="#1a1a1a" stroke-width="0.8" fill="none"/>
<rect x="510.3" y="154.53" width="3" height="3" stroke="#1a1a1a" stroke-width="0.8" fill="none"/>
<rect x="510.53" y="154.67" width="3" height="3" stroke="#1a1a1a" stroke-width="0.8" fill="none"/>
<rect x="510.7" y="153.73" width="3" height="3" stroke="#1a1a1a" stroke-width="0.8" fill="none"/>
<rect x="510.85" y="153.48" width="3" height="3" stroke="#1a1a1a" stroke-width="0.8" fill="none"/>
<rect x="510.94" y="152.82" width="3" height="3" stroke="#1a1a1a" stroke-width="0.8" fill="none"/>
<rect x="511.22" y="152.25" width="3" height="3" stroke="#1a1a1a" stroke-width="0.8" fill="none"/>
<rect x="511.38" y="152.48" width="3" height="3" stroke="#1a1a1a" stroke-width="0.8" fill="none"/>
<rect x="512.12" y="151.98" width="3" height="3" stroke="#1a1a1a" stroke-width="0.8" fill="none"/>
<rect x="512.29" y="150.92" width="3" height="3" stroke="#1a1a1a" stroke-width="0.8" fill="none"/>
<rect x="494.4" y="183.3" width="44.4" height="49.1" fill="#fff" stroke="#222" stroke-width="0.5"/>
<path d="M497.05 188.2H500.55M498.8 186.45V189.95" stroke="#111" stroke-width="0.8" fill="none"/>
<text class="lg" transform="translate(501.2 190.8) scale(0.78 1)" font-size="7.5" fill="#151515">OMDPSO</text>
<ellipse cx="498.8" cy="198.1" rx="1.57" ry="1.33" stroke="#FF0000" stroke-width="0.7" fill="none"/>
<text class="lg" transform="translate(501.2 200.7) scale(0.78 1)" font-size="7.5" fill="#151515">OMDPSO+</text>
<path d="M497.2 206.5L500.4 209.7M497.2 209.7L500.4 206.5" stroke="#222" stroke-width="0.6" fill="none"/>
<text class="lg" transform="translate(501.2 210.7) scale(0.78 1)" font-size="7.5" fill="#151515">MMDPSO</text>
<path d="M498.8 216.3L500.5 218L498.8 219.7L497.1 218Z" fill="#FFC000"/>
<text class="lg" transform="translate(501.2 220.6) scale(0.78 1)" font-size="7.5" fill="#151515">MMDPSO+</text>
<rect x="497.45" y="226.65" width="2.7" height="2.7" stroke="#1a1a1a" stroke-width="0.65" fill="none"/>
<text class="lg" transform="translate(501.2 230.6) scale(0.765 1)" font-size="7.5" fill="#151515">Best-known PF</text></g>
<text class="rw" transform="translate(9.6 56.3) rotate(-90)" font-size="8.3" text-anchor="middle" fill="#1c1c1c">HAN</text>
<text class="rw" transform="translate(9.6 188.5) rotate(-90)" font-size="8.3" text-anchor="middle" fill="#1c1c1c">BIN</text>
</g>
<use href="#fig" transform="translate(0.84 0)" opacity="0.5"/>
<use href="#fig" transform="translate(0 0.84)" opacity="0.3333"/>
<use href="#fig" transform="translate(0.84 0.84)" opacity="0.25"/>
</svg>
</body></html>
